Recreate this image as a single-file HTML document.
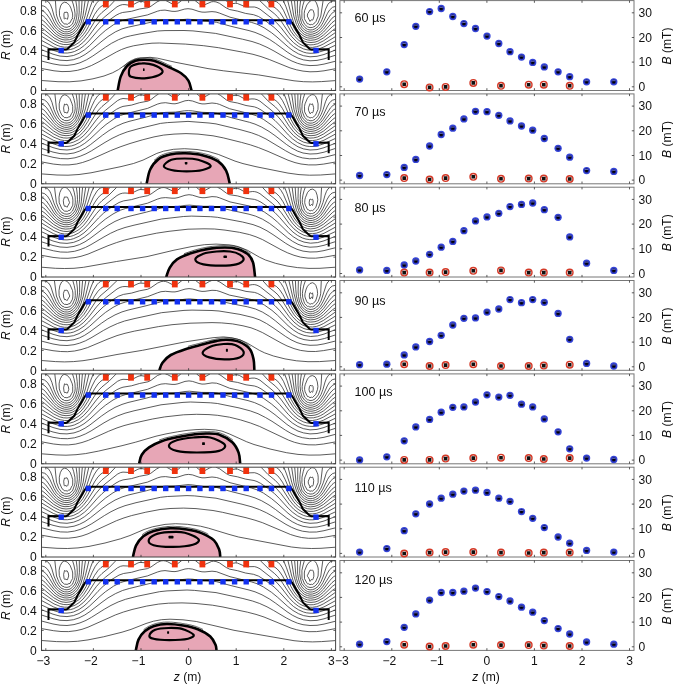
<!DOCTYPE html>
<html><head><meta charset="utf-8"><title>figure</title>
<style>
html,body{margin:0;padding:0;background:#fff;}
svg{display:block;}
text{font-family:"Liberation Sans",Arial,Helvetica,sans-serif;font-size:12.1px;fill:#111;}
.ra{text-anchor:end;}
.tl{font-size:12.6px;}
.ax{text-anchor:middle;}
.c{fill:none;stroke:#1a1a1a;stroke-width:0.72;stroke-linejoin:round;}
.bf{fill:#e7a6b6;stroke:none;}
.bl{fill:none;stroke:#000;stroke-width:2.6;}
.bi{fill:none;stroke:#000;stroke-width:2.2;}
.w{fill:none;stroke:#000;stroke-width:2;stroke-linejoin:miter;}
.bs{fill:#1230f0;}
.rs{fill:#f0320e;}
.t{fill:none;stroke:#333;stroke-width:0.8;}
.fr{fill:none;stroke:#444;stroke-width:1;}
.fr2{fill:none;stroke:#777;stroke-width:1;}
</style></head><body>
<svg width="673" height="685" viewBox="0 0 673 685">
<defs>

<clipPath id="cl0"><rect x="41.5" y="0.6" width="294.1" height="89.9"/></clipPath><clipPath id="cl1"><rect x="41.5" y="93.9" width="294.1" height="89.9"/></clipPath><clipPath id="cl2"><rect x="41.5" y="187.2" width="294.1" height="89.8"/></clipPath><clipPath id="cl3"><rect x="41.5" y="280.5" width="294.1" height="89.8"/></clipPath><clipPath id="cl4"><rect x="41.5" y="373.9" width="294.1" height="89.9"/></clipPath><clipPath id="cl5"><rect x="41.5" y="467.2" width="294.1" height="89.8"/></clipPath><clipPath id="cl6"><rect x="41.5" y="560.5" width="294.1" height="89.9"/></clipPath></defs>
<g clip-path="url(#cl0)"><path class="c" d="M335.5 80.6 321.5 81.6 312.5 81.9 303.5 81.7 294.0 80.8 258.5 74.9 223.5 70.8 208.0 68.6 176.0 62.4 157.5 58.2 150.0 57.3 140.0 58.2 135.0 59.4 128.5 62.5 118.5 69.6 112.5 72.8 104.0 76.0 93.0 78.8 81.0 80.9 69.5 81.8 58.0 81.7 41.5 80.5M335.5 68.7 324.0 70.8 317.0 71.6 310.0 71.8 303.0 71.1 296.5 69.8 290.0 67.9 269.5 59.6 261.0 56.6 253.0 54.3 243.5 52.3 218.5 47.7 203.5 45.7 185.5 44.1 159.5 43.0 152.0 43.2 144.5 44.0 133.5 45.8 127.0 47.5 121.5 49.5 116.5 51.9 99.0 61.7 91.5 65.5 84.5 68.3 77.5 70.3 70.0 71.4 62.0 71.6 54.0 70.8 41.5 68.5M335.5 61.2 324.0 64.1 317.0 65.3 310.0 65.6 303.0 64.8 297.5 63.3 292.0 61.1 286.5 58.3 274.0 51.0 267.0 47.3 259.5 44.0 252.0 41.5 242.5 39.2 215.5 33.4 193.0 30.9 184.0 30.5 165.0 30.6 157.5 31.0 140.0 33.9 130.5 35.8 125.0 37.2 118.5 39.7 111.5 43.3 105.5 47.2 92.8 56.0 86.5 59.8 80.0 62.8 74.0 64.5 67.0 65.4 60.0 65.1 53.0 63.9 41.5 61.0M335.5 55.2 324.0 58.9 317.0 60.4 310.0 60.8 303.5 59.9 298.0 58.1 292.5 55.4 287.2 52.0 275.5 43.4 269.5 39.4 262.0 35.3 255.0 32.4 249.0 30.6 231.0 26.3 216.5 22.3 211.5 21.6 202.0 21.1 192.0 19.5 187.5 19.2 175.5 20.1 165.0 19.9 160.0 20.3 128.5 27.1 122.0 28.9 115.5 31.8 108.0 36.5 102.0 41.1 90.7 50.5 85.1 54.5 79.5 57.6 73.5 59.7 67.0 60.6 60.0 60.2 53.0 58.7 41.5 55.0M335.5 50.0 324.0 54.5 317.0 56.3 310.0 56.8 303.5 55.7 298.5 53.9 293.0 50.7 288.2 47.0 277.0 37.1 271.5 32.7 264.0 27.7 257.0 24.2 251.5 22.4 230.0 17.2 219.5 13.1 216.0 12.0 212.0 11.6 205.0 12.2 202.0 12.1 199.0 11.5 192.0 9.2 188.0 8.7 184.5 9.1 178.0 11.0 175.0 11.4 172.0 11.3 165.0 10.1 160.5 10.4 157.5 11.2 147.5 14.9 125.0 19.7 120.0 21.3 113.5 24.7 105.5 30.4 100.0 35.2 89.6 45.5 84.5 49.9 79.0 53.3 73.5 55.5 67.0 56.6 60.0 56.1 53.0 54.2 41.5 49.7M159.8 0.6 157.0 1.9 151.0 6.2 148.0 7.7 139.5 9.0 131.5 11.3 122.5 12.5 119.5 13.5 116.0 15.3 108.5 20.6 102.0 26.2 97.5 30.9 88.8 41.0 84.5 45.3 79.5 49.0 74.5 51.5 71.0 52.5 67.5 53.0 64.0 53.0 60.5 52.6 53.5 50.4 41.5 44.9M181.6 0.6 177.5 3.6 176.0 4.3 174.5 4.5 172.0 3.8 166.0 0.6M335.5 45.2 323.5 50.7 317.0 52.7 313.5 53.2 310.0 53.3 306.5 52.9 303.5 52.1 298.5 49.9 293.4 46.5 288.5 42.2 279.0 32.0 274.0 27.3 265.5 20.8 258.5 16.5 253.5 14.7 245.5 13.4 237.5 11.1 229.5 9.5 226.0 7.8 219.5 3.3 216.0 1.9 213.5 1.6 211.5 1.8 205.0 4.6 202.5 5.0 201.0 4.7 199.5 4.0 195.1 0.6M149.9 0.6 148.5 1.8 147.0 2.4 145.5 2.4 142.0 1.4 140.0 1.4 138.0 2.0 133.5 4.5 131.5 5.2 129.5 5.3 125.0 4.6 122.5 4.6 120.0 5.3 117.0 6.8 105.0 16.6 100.5 20.7 96.0 26.1 88.5 36.5 83.5 42.1 78.5 46.1 73.5 48.6 70.5 49.5 67.0 50.0 63.5 49.9 60.0 49.3 53.5 46.9 41.5 40.4M335.5 40.8 324.0 46.9 317.5 49.4 314.0 50.1 310.5 50.2 307.0 49.8 303.5 48.9 298.5 46.4 293.5 42.6 288.7 37.5 281.0 27.6 276.5 22.6 271.5 18.1 260.0 9.2 257.0 7.7 254.5 7.0 247.5 7.0 245.5 6.8 237.5 3.5 235.5 3.3 231.5 3.7 230.0 3.5 228.0 2.5 226.1 0.6M114.7 0.6 109.0 6.7 101.8 12.6 98.5 16.0 94.5 21.6 88.5 31.6 83.3 38.5 79.0 42.5 75.0 45.0 71.5 46.4 68.0 47.1 64.5 47.2 60.5 46.5 57.0 45.3 54.0 43.8 41.5 36.2M249.5 0.6 248.0 1.4 246.5 1.7 245.0 1.3 244.0 0.6M335.5 36.6 323.5 43.9 320.0 45.6 316.5 46.7 312.5 47.4 309.0 47.3 305.5 46.6 302.0 45.3 299.5 43.9 296.5 41.6 291.6 36.5 288.3 32.0 281.5 21.7 277.5 16.7 274.5 13.8 268.5 9.0 259.7 0.6M109.1 0.6 106.5 3.4 101.0 6.5 98.0 9.4 94.5 14.5 88.5 26.4 85.9 31.1 83.5 34.5 80.9 37.5 78.5 39.8 75.5 42.0 73.5 43.0 70.0 44.2 67.0 44.6 63.5 44.5 59.5 43.5 53.6 40.5 41.5 32.0M335.5 32.5 323.5 40.8 317.5 43.8 313.5 44.7 310.0 44.9 307.0 44.4 303.5 43.2 299.0 40.5 294.4 36.0 290.7 31.1 283.5 17.9 280.0 12.5 276.5 8.8 270.0 4.4 266.8 0.6M98.9 0.6 96.5 3.2 94.0 7.3 86.0 26.1 83.0 31.5 80.5 34.9 78.0 37.4 75.5 39.4 73.0 40.8 70.0 41.8 67.0 42.3 63.5 42.1 59.5 40.9 54.0 37.9 44.5 29.9 41.5 27.9M335.5 28.4 332.5 30.5 323.5 37.9 318.0 41.1 315.0 42.1 311.0 42.5 307.5 42.2 304.5 41.2 302.0 39.9 299.0 37.7 296.5 35.2 293.7 31.6 290.6 26.1 283.5 10.3 280.0 4.7 278.0 2.7 276.5 1.7 271.2 0.6M92.6 0.6 90.0 7.5 85.8 21.1 83.0 27.5 80.6 31.6 78.0 34.7 75.2 37.0 72.5 38.7 69.5 39.7 65.0 40.0 62.0 39.5 59.0 38.3 54.0 35.0 45.0 26.3 41.5 23.7M335.5 24.3 332.5 26.5 323.5 35.0 320.5 37.2 318.0 38.7 315.0 39.8 310.5 40.3 307.5 39.9 304.5 38.9 302.0 37.4 299.0 34.9 296.5 32.0 294.3 28.6 291.1 21.6 286.0 6.8 283.3 0.6M88.5 0.6 85.1 15.6 82.7 23.6 80.5 28.3 78.0 31.9 75.5 34.4 72.5 36.6 67.5 37.9 65.0 37.9 62.0 37.3 59.2 36.0 56.5 34.3 54.0 32.1 45.0 22.1 41.5 19.5M335.5 20.1 332.0 22.7 323.5 32.1 320.7 34.5 318.0 36.4 315.0 37.6 312.0 38.1 310.0 38.2 307.5 37.8 305.0 36.9 302.0 35.0 299.0 32.1 296.5 28.6 294.0 23.6 291.6 16.1 287.7 0.6M85.1 0.6 83.0 15.6 80.8 23.6 78.0 28.9 75.5 31.9 72.5 34.3 70.0 35.3 67.0 35.9 64.5 35.8 62.0 35.1 59.0 33.6 56.5 31.7 54.0 29.2 45.5 18.0 43.5 16.2 41.5 15.1M335.5 15.7 332.0 18.2 323.5 29.2 320.6 32.0 318.0 34.1 315.5 35.2 312.5 36.1 310.0 36.2 307.5 35.7 304.5 34.5 301.5 32.1 299.0 29.1 296.5 24.6 293.8 16.1 291.3 0.6M82.0 0.6 81.5 10.6 80.5 18.6 78.8 23.6 77.7 26.1 75.0 29.8 72.5 32.0 69.5 33.4 67.0 33.9 64.5 33.8 62.0 33.0 59.0 31.2 56.5 29.0 54.0 26.0 49.5 18.2 46.6 14.1 44.0 11.6 41.5 10.5M335.5 11.2 333.0 12.4 330.5 14.8 323.4 26.1 320.5 29.5 318.0 31.7 315.5 33.1 312.5 34.1 310.0 34.3 307.5 33.7 304.5 32.2 302.0 30.0 299.4 26.6 297.7 22.6 296.4 18.6 295.7 14.6 294.5 0.6M79.0 0.6 79.2 12.1 78.8 16.6 77.9 21.1 75.5 26.3 73.0 29.1 70.0 31.2 67.5 31.8 64.5 31.8 62.0 30.8 59.0 28.7 56.5 26.0 54.0 21.8 50.0 12.9 47.7 9.1 45.0 6.7 43.5 6.0 41.5 5.7M335.5 6.4 332.5 7.3 329.5 10.1 327.5 13.3 323.0 22.7 320.6 26.6 318.0 29.3 315.0 31.1 312.5 32.0 310.0 32.1 307.5 31.6 304.5 29.8 302.0 27.3 299.5 22.6 298.4 18.6 297.6 13.6 297.3 8.1 297.5 0.6M75.8 0.6 76.8 7.0 77.1 12.6 76.7 17.1 75.7 21.6 75.0 23.6 72.5 27.0 70.0 29.0 67.0 29.7 64.5 29.5 63.0 28.7 62.0 28.5 59.0 25.8 56.1 21.1 54.1 16.1 52.2 9.1 50.5 4.8 48.6 2.0 46.4 0.6M335.5 1.2 333.5 1.0 331.5 1.4 329.5 2.6 328.0 4.2 325.6 9.1 323.4 16.1 321.2 21.6 318.0 26.6 315.0 28.8 312.5 29.8 310.0 30.0 307.5 29.4 305.0 27.7 301.7 23.6 300.2 18.1 299.6 13.6 299.7 8.1 300.6 0.6M72.0 0.6 73.2 4.0 74.3 8.6 75.0 13.1 75.0 16.1 74.1 19.6 72.5 24.0 71.5 24.6 70.0 26.4 69.0 26.5 67.0 27.3 64.5 27.0 63.0 26.0 62.0 25.8 58.8 21.6 56.8 16.1 56.3 13.6 55.4 0.6M323.1 0.6 320.8 16.1 318.0 23.0 315.3 26.1 312.5 27.4 310.0 27.6 307.5 26.9 304.5 24.2 301.9 18.6 301.9 10.6 302.8 5.5 304.3 0.6M314.4 0.6 315.5 1.5 316.5 3.0 318.2 8.1 318.2 16.1 315.9 21.6 315.0 22.7 312.5 24.6 311.5 24.4 310.0 24.9 308.5 23.9 307.5 23.9 305.0 19.9 304.4 18.6 304.2 13.6 304.6 10.6 306.8 5.0 309.0 2.1 311.0 0.6M67.5 24.3 65.5 23.9 64.5 24.2 63.5 22.9 62.0 21.9 59.5 15.6 59.4 10.6 60.6 6.0 62.0 3.5 64.5 2.2 67.0 2.8 69.6 5.5 70.9 8.1 72.5 13.1 72.7 16.1 72.3 17.6 72.6 18.6 72.0 18.7 70.0 22.9 68.5 23.4 67.5 24.3M310.0 21.4 307.3 16.1 307.7 13.6 308.0 13.4 310.0 9.9 312.5 9.8 313.2 10.6 314.0 13.1 314.2 15.1 313.9 16.6 313.2 19.1 312.5 20.2 311.5 19.8 311.0 20.0 310.0 21.4M67.5 19.1 67.0 19.4 66.0 18.3 65.5 18.3 64.5 19.0 64.2 18.6 63.9 15.1 64.1 13.1 64.5 12.3 66.0 12.4 67.0 12.0 67.8 13.1 68.2 16.1 67.5 19.1"/><path class="bf" d="M117.7 90.4C118.7 85.7 119.2 80.5 120.8 76.4C122.3 72.3 124.6 68.6 127.0 66.0C129.4 63.4 132.6 61.8 135.4 60.8C138.2 59.8 140.6 59.8 143.7 59.8C146.8 59.8 149.8 59.6 154.0 60.8C158.2 62.0 164.1 64.9 168.6 67.0C173.1 69.1 177.8 71.0 181.1 73.3C184.4 75.6 186.7 77.8 188.4 80.6C190.1 83.4 190.5 87.1 191.5 90.4Z"/><path class="bi" d="M128.9 72.6C128.9 70.9 128.9 67.9 131.1 66.4C133.3 64.9 138.6 63.6 142.3 63.4C146.0 63.1 150.1 63.7 153.4 64.9C156.8 66.1 161.5 68.8 162.4 70.5C163.3 72.2 161.6 74.0 158.6 75.3C155.6 76.6 149.1 78.0 144.5 78.3C139.9 78.5 133.7 77.8 131.1 76.8C128.5 75.8 128.9 74.3 128.9 72.6Z"/><path class="bl" d="M117.7 90.4C118.7 85.7 119.2 80.5 120.8 76.4C122.3 72.3 124.6 68.6 127.0 66.0C129.4 63.4 132.6 61.8 135.4 60.8C138.2 59.8 140.6 59.8 143.7 59.8C146.8 59.8 149.8 59.6 154.0 60.8C158.2 62.0 164.1 64.9 168.6 67.0C173.1 69.1 177.8 71.0 181.1 73.3C184.4 75.6 186.7 77.8 188.4 80.6C190.1 83.4 190.5 87.1 191.5 90.4"/><path class="c" d="M123.7 67.0 124.2 66.4 124.6 65.8 125.1 65.2 125.6 64.7 126.1 64.2 126.7 63.7 127.2 63.2 127.8 62.7 128.4 62.3 128.9 61.9 129.5 61.5 130.1 61.2 130.7 60.8 131.3 60.5 131.9 60.2 132.5 60.0 133.0 59.7 133.6 59.5 134.2 59.2 134.7 59.0 135.3 58.8 135.9 58.6 136.5 58.5 137.0 58.3 137.6 58.2 138.2 58.1 138.7 58.1 139.3 58.0 139.8 58.0 140.4 57.9 140.9 57.9 141.5 57.9 142.0 57.9 142.6 57.9 143.1 57.9 143.7 57.9 144.3 57.9 144.8 57.9 145.4 57.9 146.0 57.9 146.6 57.9 147.3 57.9 147.9 57.9 148.6 58.0 149.2 58.0 149.9 58.1 150.7 58.2 151.4 58.3 152.1 58.4 152.9 58.6 153.7 58.8 154.5 59.0 155.4 59.2 156.3 59.5 157.2 59.9 158.1 60.2 159.0 60.6 160.0 61.0 161.0 61.4 161.9 61.8 162.9 62.3 163.9 62.7 164.8 63.2 165.8 63.6 166.7 64.0 167.6 64.5 168.5 64.9 169.4 65.3 170.2 65.7 171.1 66.0 171.9 66.4"/><rect x="143.0" y="68.3" width="1.6" height="2.8" rx="0.6" fill="#000"/><path class="w" d="M48.5 59.9 48.5 49.3 65.8 49.6 67.6 48.8 74.3 42.5 77.4 35.8 84.6 23.4 87.2 20.2 290.0 20.2 292.6 23.4 299.8 35.8 302.9 42.5 309.6 48.8 311.4 49.6 328.7 49.3 328.7 59.9"/><rect class="bs" x="58.5" y="47.8" width="5.4" height="5.4"/><rect class="bs" x="85.6" y="19.1" width="5.4" height="5.4"/><rect class="bs" x="103.0" y="19.1" width="5.4" height="5.4"/><rect class="bs" x="114.5" y="19.1" width="5.4" height="5.4"/><rect class="bs" x="128.3" y="19.1" width="5.4" height="5.4"/><rect class="bs" x="139.9" y="19.1" width="5.4" height="5.4"/><rect class="bs" x="151.5" y="19.1" width="5.4" height="5.4"/><rect class="bs" x="163.0" y="19.1" width="5.4" height="5.4"/><rect class="bs" x="174.6" y="19.1" width="5.4" height="5.4"/><rect class="bs" x="185.9" y="19.1" width="5.4" height="5.4"/><rect class="bs" x="197.2" y="19.1" width="5.4" height="5.4"/><rect class="bs" x="208.8" y="19.1" width="5.4" height="5.4"/><rect class="bs" x="220.3" y="19.1" width="5.4" height="5.4"/><rect class="bs" x="231.9" y="19.1" width="5.4" height="5.4"/><rect class="bs" x="243.5" y="19.1" width="5.4" height="5.4"/><rect class="bs" x="257.3" y="19.1" width="5.4" height="5.4"/><rect class="bs" x="268.8" y="19.1" width="5.4" height="5.4"/><rect class="bs" x="286.2" y="19.1" width="5.4" height="5.4"/><rect class="bs" x="313.3" y="47.8" width="5.4" height="5.4"/><rect class="rs" x="102.9" y="0.6" width="5.8" height="6.8"/><rect class="rs" x="128.1" y="0.6" width="5.8" height="6.8"/><rect class="rs" x="144.3" y="0.6" width="5.8" height="6.8"/><rect class="rs" x="171.9" y="0.6" width="5.8" height="6.8"/><rect class="rs" x="199.5" y="0.6" width="5.8" height="6.8"/><rect class="rs" x="227.1" y="0.6" width="5.8" height="6.8"/><rect class="rs" x="243.3" y="0.6" width="5.8" height="6.8"/><rect class="rs" x="268.5" y="0.6" width="5.8" height="6.8"/></g>
<rect class="fr" x="41.5" y="0.6" width="294.1" height="89.9"/><path class="t" d="M41.5 90.4h2.2M335.6 90.4h-2.2M41.5 70.4h2.2M335.6 70.4h-2.2M41.5 50.4h2.2M335.6 50.4h-2.2M41.5 30.4h2.2M335.6 30.4h-2.2M41.5 10.4h2.2M335.6 10.4h-2.2M45.8 90.4v-2.2M45.8 0.6v2.2M93.4 90.4v-2.2M93.4 0.6v2.2M141.0 90.4v-2.2M141.0 0.6v2.2M188.6 90.4v-2.2M188.6 0.6v2.2M236.2 90.4v-2.2M236.2 0.6v2.2M283.8 90.4v-2.2M283.8 0.6v2.2M331.4 90.4v-2.2M331.4 0.6v2.2"/><rect class="fr2" x="339.9" y="0.6" width="294.1" height="89.9"/><path class="t" d="M339.9 86.8h2.2M634.0 86.8h-2.2M339.9 62.1h2.2M634.0 62.1h-2.2M339.9 37.5h2.2M634.0 37.5h-2.2M339.9 12.8h2.2M634.0 12.8h-2.2M344.2 90.4v-2.2M344.2 0.6v2.2M391.8 90.4v-2.2M391.8 0.6v2.2M439.3 90.4v-2.2M439.3 0.6v2.2M486.9 90.4v-2.2M486.9 0.6v2.2M534.4 90.4v-2.2M534.4 0.6v2.2M582.0 90.4v-2.2M582.0 0.6v2.2M629.5 90.4v-2.2M629.5 0.6v2.2"/><g transform="translate(359.6 79.1)"><circle r="3.65" fill="#3444d8"/><circle r="2.25" fill="#161660"/><rect x="-1.2" y="-0.6" width="2.4" height="1.9" fill="#000"/><path d="M-1.7 -1.1h3.4" stroke="#8e9af0" stroke-width="0.6"/></g><g transform="translate(386.8 71.8)"><circle r="3.65" fill="#3444d8"/><circle r="2.25" fill="#161660"/><rect x="-1.2" y="-0.6" width="2.4" height="1.9" fill="#000"/><path d="M-1.7 -1.1h3.4" stroke="#8e9af0" stroke-width="0.6"/></g><g transform="translate(404.2 44.6)"><circle r="3.65" fill="#3444d8"/><circle r="2.25" fill="#161660"/><rect x="-1.2" y="-0.6" width="2.4" height="1.9" fill="#000"/><path d="M-1.7 -1.1h3.4" stroke="#8e9af0" stroke-width="0.6"/></g><g transform="translate(415.8 26.3)"><circle r="3.65" fill="#3444d8"/><circle r="2.25" fill="#161660"/><rect x="-1.2" y="-0.6" width="2.4" height="1.9" fill="#000"/><path d="M-1.7 -1.1h3.4" stroke="#8e9af0" stroke-width="0.6"/></g><g transform="translate(429.6 11.6)"><circle r="3.65" fill="#3444d8"/><circle r="2.25" fill="#161660"/><rect x="-1.2" y="-0.6" width="2.4" height="1.9" fill="#000"/><path d="M-1.7 -1.1h3.4" stroke="#8e9af0" stroke-width="0.6"/></g><g transform="translate(441.2 8.5)"><circle r="3.65" fill="#3444d8"/><circle r="2.25" fill="#161660"/><rect x="-1.2" y="-0.6" width="2.4" height="1.9" fill="#000"/><path d="M-1.7 -1.1h3.4" stroke="#8e9af0" stroke-width="0.6"/></g><g transform="translate(452.8 16.5)"><circle r="3.65" fill="#3444d8"/><circle r="2.25" fill="#161660"/><rect x="-1.2" y="-0.6" width="2.4" height="1.9" fill="#000"/><path d="M-1.7 -1.1h3.4" stroke="#8e9af0" stroke-width="0.6"/></g><g transform="translate(463.9 23.6)"><circle r="3.65" fill="#3444d8"/><circle r="2.25" fill="#161660"/><rect x="-1.2" y="-0.6" width="2.4" height="1.9" fill="#000"/><path d="M-1.7 -1.1h3.4" stroke="#8e9af0" stroke-width="0.6"/></g><g transform="translate(475.5 28.5)"><circle r="3.65" fill="#3444d8"/><circle r="2.25" fill="#161660"/><rect x="-1.2" y="-0.6" width="2.4" height="1.9" fill="#000"/><path d="M-1.7 -1.1h3.4" stroke="#8e9af0" stroke-width="0.6"/></g><g transform="translate(487.0 36.1)"><circle r="3.65" fill="#3444d8"/><circle r="2.25" fill="#161660"/><rect x="-1.2" y="-0.6" width="2.4" height="1.9" fill="#000"/><path d="M-1.7 -1.1h3.4" stroke="#8e9af0" stroke-width="0.6"/></g><g transform="translate(498.8 43.5)"><circle r="3.65" fill="#3444d8"/><circle r="2.25" fill="#161660"/><rect x="-1.2" y="-0.6" width="2.4" height="1.9" fill="#000"/><path d="M-1.7 -1.1h3.4" stroke="#8e9af0" stroke-width="0.6"/></g><g transform="translate(510.0 51.7)"><circle r="3.65" fill="#3444d8"/><circle r="2.25" fill="#161660"/><rect x="-1.2" y="-0.6" width="2.4" height="1.9" fill="#000"/><path d="M-1.7 -1.1h3.4" stroke="#8e9af0" stroke-width="0.6"/></g><g transform="translate(521.5 57.1)"><circle r="3.65" fill="#3444d8"/><circle r="2.25" fill="#161660"/><rect x="-1.2" y="-0.6" width="2.4" height="1.9" fill="#000"/><path d="M-1.7 -1.1h3.4" stroke="#8e9af0" stroke-width="0.6"/></g><g transform="translate(532.7 62.4)"><circle r="3.65" fill="#3444d8"/><circle r="2.25" fill="#161660"/><rect x="-1.2" y="-0.6" width="2.4" height="1.9" fill="#000"/><path d="M-1.7 -1.1h3.4" stroke="#8e9af0" stroke-width="0.6"/></g><g transform="translate(544.3 66.9)"><circle r="3.65" fill="#3444d8"/><circle r="2.25" fill="#161660"/><rect x="-1.2" y="-0.6" width="2.4" height="1.9" fill="#000"/><path d="M-1.7 -1.1h3.4" stroke="#8e9af0" stroke-width="0.6"/></g><g transform="translate(558.1 71.8)"><circle r="3.65" fill="#3444d8"/><circle r="2.25" fill="#161660"/><rect x="-1.2" y="-0.6" width="2.4" height="1.9" fill="#000"/><path d="M-1.7 -1.1h3.4" stroke="#8e9af0" stroke-width="0.6"/></g><g transform="translate(569.7 76.7)"><circle r="3.65" fill="#3444d8"/><circle r="2.25" fill="#161660"/><rect x="-1.2" y="-0.6" width="2.4" height="1.9" fill="#000"/><path d="M-1.7 -1.1h3.4" stroke="#8e9af0" stroke-width="0.6"/></g><g transform="translate(586.6 81.8)"><circle r="3.65" fill="#3444d8"/><circle r="2.25" fill="#161660"/><rect x="-1.2" y="-0.6" width="2.4" height="1.9" fill="#000"/><path d="M-1.7 -1.1h3.4" stroke="#8e9af0" stroke-width="0.6"/></g><g transform="translate(613.8 81.8)"><circle r="3.65" fill="#3444d8"/><circle r="2.25" fill="#161660"/><rect x="-1.2" y="-0.6" width="2.4" height="1.9" fill="#000"/><path d="M-1.7 -1.1h3.4" stroke="#8e9af0" stroke-width="0.6"/></g><g transform="translate(404.2 84.2)"><circle r="3.3" fill="#fbeeee" stroke="#d43a28" stroke-width="1.4"/><rect x="-1.8" y="-1.8" width="3.6" height="3.6" rx="0.4" fill="#111"/></g><g transform="translate(429.6 87.4)"><circle r="3.3" fill="#fbeeee" stroke="#d43a28" stroke-width="1.4"/><rect x="-1.8" y="-1.8" width="3.6" height="3.6" rx="0.4" fill="#111"/></g><g transform="translate(445.6 86.9)"><circle r="3.3" fill="#fbeeee" stroke="#d43a28" stroke-width="1.4"/><rect x="-1.8" y="-1.8" width="3.6" height="3.6" rx="0.4" fill="#111"/></g><g transform="translate(473.3 82.9)"><circle r="3.3" fill="#fbeeee" stroke="#d43a28" stroke-width="1.4"/><rect x="-1.8" y="-1.8" width="3.6" height="3.6" rx="0.4" fill="#111"/></g><g transform="translate(501.0 85.8)"><circle r="3.3" fill="#fbeeee" stroke="#d43a28" stroke-width="1.4"/><rect x="-1.8" y="-1.8" width="3.6" height="3.6" rx="0.4" fill="#111"/></g><g transform="translate(528.7 84.7)"><circle r="3.3" fill="#fbeeee" stroke="#d43a28" stroke-width="1.4"/><rect x="-1.8" y="-1.8" width="3.6" height="3.6" rx="0.4" fill="#111"/></g><g transform="translate(543.8 84.7)"><circle r="3.3" fill="#fbeeee" stroke="#d43a28" stroke-width="1.4"/><rect x="-1.8" y="-1.8" width="3.6" height="3.6" rx="0.4" fill="#111"/></g><g transform="translate(569.7 85.8)"><circle r="3.3" fill="#fbeeee" stroke="#d43a28" stroke-width="1.4"/><rect x="-1.8" y="-1.8" width="3.6" height="3.6" rx="0.4" fill="#111"/></g><text x="36.8" y="94.5" class="ra">0</text><text x="36.8" y="74.5" class="ra">0.2</text><text x="36.8" y="54.5" class="ra">0.4</text><text x="36.8" y="34.5" class="ra">0.6</text><text x="36.8" y="14.5" class="ra">0.8</text><text x="638.6" y="90.9">0</text><text x="638.6" y="66.2">10</text><text x="638.6" y="41.6">20</text><text x="638.6" y="16.9">30</text><text class="ax" transform="translate(10.3 45.0) rotate(-90)"><tspan font-style="italic">R</tspan> (m)</text><text class="ax" transform="translate(670.5 46.0) rotate(-90)"><tspan font-style="italic">B</tspan> (mT)</text><text x="354.6" y="21.9" class="tl">60 µs</text>
<g clip-path="url(#cl1)"><path class="c" d="M335.5 173.9 320.5 175.0 309.5 175.2 299.0 174.6 288.0 173.1 256.0 166.7 243.0 163.6 235.0 161.1 218.3 154.4 208.0 151.4 197.0 149.5 184.5 148.7 173.5 149.3 163.5 151.2 156.8 153.4 143.0 160.1 133.5 163.5 121.0 166.6 91.0 172.8 79.0 174.5 68.0 175.2 57.0 175.0 41.5 173.9M335.5 162.0 323.5 164.1 316.0 164.9 308.5 164.9 301.0 164.0 295.0 162.6 288.0 160.2 268.0 151.4 258.5 147.6 250.5 144.9 241.5 142.4 223.4 137.9 213.0 135.8 198.0 134.1 186.0 133.6 174.0 134.1 163.5 135.1 154.0 136.9 142.2 139.9 130.0 143.5 120.1 146.9 110.5 150.7 89.5 160.1 82.5 162.5 76.5 164.0 69.0 164.9 61.5 164.9 53.5 164.1 41.5 161.9M335.5 154.5 324.0 157.4 316.5 158.6 309.5 158.8 302.5 157.9 297.0 156.3 291.0 153.7 285.5 150.7 266.0 139.0 258.5 135.4 251.5 132.8 241.0 129.9 216.0 123.9 209.0 123.0 188.0 121.4 167.5 122.6 160.5 123.4 139.0 128.6 127.2 131.9 119.5 134.8 112.0 138.4 105.0 142.4 91.5 150.8 86.0 153.8 80.5 156.1 75.0 157.8 68.0 158.8 60.5 158.6 53.0 157.3 41.5 154.4M335.5 148.4 324.0 152.2 317.0 153.7 310.0 154.0 303.0 153.0 297.5 151.1 292.0 148.2 286.5 144.5 275.0 135.6 269.0 131.4 261.5 127.0 255.0 124.1 249.5 122.3 231.0 117.6 216.5 113.3 211.5 112.7 202.0 112.3 192.5 110.9 188.5 110.6 184.5 110.8 175.5 112.1 165.5 112.4 160.5 113.0 146.5 117.0 129.0 121.4 123.0 123.3 116.5 126.2 109.0 130.6 102.5 135.2 90.5 144.6 85.5 148.0 79.5 151.1 74.0 153.0 67.0 154.0 60.0 153.6 53.0 152.1 41.5 148.4M335.5 143.2 324.0 147.7 317.0 149.6 310.0 150.0 303.5 148.9 298.0 146.8 292.5 143.4 287.5 139.4 277.0 129.6 271.5 125.0 263.5 119.4 257.0 116.0 251.5 114.2 229.5 108.7 219.5 104.4 216.5 103.5 212.0 103.0 205.0 103.9 202.0 103.9 199.0 103.3 192.5 101.0 188.5 100.4 185.0 100.8 178.0 103.2 175.0 103.8 172.0 103.7 165.5 102.7 161.0 103.1 157.5 104.1 147.5 108.4 125.5 113.8 120.5 115.5 114.0 118.9 106.0 124.5 100.5 129.2 89.7 139.4 84.7 143.4 79.5 146.6 74.0 148.8 70.5 149.6 67.0 150.0 60.0 149.5 53.0 147.6 41.5 143.1M158.7 93.9 156.0 95.6 151.0 99.5 148.0 101.1 139.5 102.7 131.5 105.1 123.0 106.4 120.0 107.5 116.5 109.3 109.5 114.2 102.5 120.0 98.0 124.6 88.9 134.9 84.6 138.9 80.0 142.3 75.0 144.8 71.5 145.9 68.0 146.4 64.5 146.5 60.5 146.0 53.5 143.9 41.5 138.3M180.2 93.9 177.0 96.5 174.5 97.2 172.0 96.5 167.7 93.9M209.9 93.9 205.0 96.7 202.5 97.3 200.0 96.5 196.9 93.9M335.5 138.4 323.5 143.9 316.5 146.1 313.0 146.5 309.5 146.5 306.0 146.0 302.5 144.9 297.5 142.5 292.5 138.9 288.3 134.9 279.5 125.1 275.0 120.5 268.5 115.1 261.0 109.9 257.5 108.0 254.5 106.9 246.0 105.5 237.5 103.0 229.5 101.5 226.5 100.0 220.5 95.4 217.8 93.9M149.8 93.9 148.5 95.1 147.0 95.8 145.5 95.8 142.0 94.9 140.0 94.9 138.0 95.5 133.5 98.1 131.5 98.8 129.5 99.0 123.0 98.5 120.5 99.1 117.5 100.6 105.5 110.3 101.0 114.4 96.5 119.6 88.5 130.3 83.5 135.8 78.5 139.7 73.5 142.1 70.5 143.0 67.0 143.4 63.5 143.3 60.0 142.7 53.5 140.3 41.5 133.9M335.5 134.0 324.0 140.2 317.5 142.6 314.0 143.3 310.5 143.4 307.0 143.0 303.5 142.1 298.5 139.5 293.5 135.6 288.7 130.4 281.0 120.2 276.5 115.0 272.0 110.8 260.0 101.2 257.0 99.6 254.5 99.0 252.0 98.9 247.5 99.3 245.5 99.0 243.5 98.3 239.0 95.8 237.0 95.3 235.0 95.3 231.5 96.0 230.0 95.9 228.5 95.2 227.2 93.9M115.3 93.9 109.0 100.7 102.0 106.5 98.5 110.2 95.0 115.0 87.9 126.4 83.5 131.9 79.5 135.7 75.0 138.5 71.5 139.9 68.0 140.5 64.5 140.6 60.5 139.9 54.0 137.3 41.5 129.6M335.5 129.7 323.5 137.1 320.0 138.8 316.5 140.0 312.5 140.6 309.0 140.5 305.5 139.8 302.0 138.4 298.0 135.9 294.0 132.3 289.3 126.4 282.0 114.9 278.5 110.2 275.3 106.9 268.0 100.9 261.4 93.9M109.4 93.9 107.0 96.8 101.0 100.6 98.0 103.5 94.5 108.7 87.9 121.4 83.7 127.9 81.0 131.1 78.5 133.4 73.8 136.4 70.0 137.7 67.0 138.1 63.5 137.9 59.5 136.9 53.5 133.9 41.5 125.5M335.5 125.6 323.5 134.0 317.5 137.0 313.5 137.9 310.0 138.1 307.0 137.6 303.5 136.4 298.5 133.3 296.0 130.9 293.4 127.9 289.3 121.4 282.5 108.6 279.0 103.6 276.0 100.7 270.5 97.3 267.5 93.9M100.1 93.9 97.5 96.1 94.5 100.6 92.0 105.8 86.3 119.4 83.2 124.9 80.5 128.5 78.0 131.0 75.5 132.9 72.5 134.5 69.5 135.4 66.0 135.7 62.0 135.2 59.0 134.2 53.5 130.9 44.5 123.4 41.5 121.4M335.5 121.5 332.5 123.6 323.5 131.1 318.0 134.3 315.0 135.3 311.0 135.7 307.5 135.4 304.5 134.4 302.0 133.1 299.0 130.8 296.5 128.3 294.0 125.0 290.9 119.4 285.0 105.6 282.5 100.6 279.5 96.3 278.0 94.8 276.3 93.9M93.0 93.9 90.5 100.4 86.0 114.4 83.0 121.3 80.8 124.9 78.0 128.2 75.5 130.4 72.5 132.2 69.5 133.2 65.0 133.5 62.0 132.9 59.0 131.7 54.0 128.4 45.0 119.8 41.5 117.2M335.5 117.4 332.5 119.6 323.5 128.2 320.5 130.5 318.0 131.9 315.0 133.0 310.5 133.5 307.5 133.1 304.5 132.1 302.0 130.6 299.0 128.0 296.5 125.1 294.0 120.9 291.1 114.4 286.5 100.2 284.0 93.9M88.8 93.9 85.4 108.9 82.9 116.9 80.5 122.0 78.0 125.4 75.5 127.9 72.5 130.0 70.0 130.9 67.0 131.4 64.0 131.2 59.5 129.7 56.5 127.8 54.0 125.6 45.0 115.6 41.5 113.0M335.5 113.1 332.0 115.8 323.5 125.3 320.5 127.9 318.0 129.5 315.0 130.8 312.0 131.3 310.0 131.4 307.5 131.0 305.0 130.1 302.0 128.2 299.0 125.2 296.7 121.9 294.2 116.9 291.8 108.9 288.2 93.9M85.4 93.9 83.1 109.4 80.7 117.4 78.1 122.4 75.5 125.4 72.5 127.8 70.0 128.8 67.0 129.4 64.5 129.2 62.0 128.5 59.0 127.1 56.5 125.2 54.0 122.6 45.5 111.5 43.5 109.7 41.5 108.6M335.5 108.7 333.5 109.9 332.0 111.3 330.0 113.5 323.5 122.3 320.5 125.3 318.0 127.3 315.5 128.4 312.5 129.3 310.0 129.4 307.0 128.7 304.5 127.6 301.7 125.4 299.1 122.4 296.5 117.5 294.0 109.4 291.7 93.9M82.3 93.9 81.3 107.4 80.7 111.9 79.3 115.9 77.9 119.4 75.5 122.8 72.5 125.5 70.0 126.8 67.0 127.4 64.5 127.3 62.0 126.4 59.0 124.7 56.5 122.5 54.0 119.5 49.5 111.8 46.5 107.5 44.0 105.2 41.5 104.1M335.5 104.2 333.0 105.4 330.5 107.8 323.2 119.4 320.5 122.7 318.0 125.0 315.5 126.3 312.5 127.3 310.0 127.5 307.5 126.9 304.5 125.4 302.0 123.2 299.3 119.4 297.1 113.9 296.1 109.4 295.4 102.9 294.8 93.9M79.2 93.9 79.4 105.9 78.9 110.4 78.0 114.7 75.5 119.9 73.0 122.7 70.0 124.7 67.5 125.2 64.5 125.2 62.0 124.3 59.0 122.2 56.5 119.5 54.0 115.3 50.0 106.6 47.5 102.5 44.5 100.0 41.5 99.3M335.5 99.3 332.5 100.2 331.0 101.2 329.5 102.9 327.5 106.1 323.0 115.7 320.5 119.8 318.0 122.5 315.0 124.3 312.5 125.2 310.0 125.3 307.5 124.8 304.5 123.0 301.7 119.9 299.3 114.9 298.3 110.4 297.8 105.9 297.9 93.9M76.1 93.9 77.1 100.9 77.3 106.4 76.8 110.9 75.9 114.9 75.0 117.2 72.5 120.5 70.0 122.5 67.0 123.1 64.5 122.9 63.0 122.1 62.0 122.0 59.0 119.4 56.2 114.9 53.9 109.4 52.0 102.4 50.1 97.9 48.0 95.3 46.5 94.3 45.1 93.9M332.9 93.9 331.5 94.1 329.9 94.9 328.5 96.1 327.2 97.9 325.5 101.8 323.2 109.4 321.2 114.4 318.0 119.7 315.0 122.0 312.5 123.0 310.0 123.2 307.5 122.6 305.0 120.8 301.8 116.9 300.3 110.9 299.8 106.4 300.1 100.9 301.0 93.9M72.3 93.9 73.8 98.4 75.0 103.9 75.2 108.9 74.8 111.4 72.5 117.5 71.5 118.2 70.0 119.9 67.0 120.7 64.5 120.5 63.0 119.5 62.0 119.4 59.5 116.4 58.7 114.9 56.5 109.2 54.9 93.9M322.4 93.9 320.7 109.4 318.5 114.9 317.7 116.4 315.0 119.3 312.5 120.6 310.0 120.8 308.5 120.1 307.5 120.1 304.5 117.3 302.4 111.9 301.9 109.4 302.1 103.9 303.3 98.4 304.7 93.9M67.0 117.9 66.0 117.5 64.5 117.7 63.5 116.5 62.0 115.5 60.3 111.9 59.3 108.9 59.2 103.9 60.2 99.4 62.0 96.0 64.5 94.8 66.0 95.1 67.5 95.9 70.0 98.7 72.1 103.9 72.7 106.4 72.7 111.9 71.5 113.6 70.0 116.9 69.0 116.8 67.0 117.9M310.0 118.0 308.5 117.0 307.4 116.9 304.6 111.9 304.5 106.4 305.0 103.9 307.5 98.1 310.0 95.4 311.5 94.8 313.0 94.6 314.5 95.2 315.5 96.1 317.1 99.4 318.1 103.9 318.0 109.4 315.5 115.2 312.5 117.7 311.5 117.5 310.0 118.0M310.0 113.7 308.6 110.4 308.4 108.9 308.6 107.4 310.0 103.7 310.5 104.2 311.5 104.4 312.5 103.8 313.6 107.4 313.6 109.4 313.1 111.9 312.5 112.8 311.5 112.5 310.0 113.7M67.5 113.0 67.0 113.3 66.0 112.4 64.5 112.6 64.1 111.9 63.6 107.9 64.5 104.0 65.5 104.6 67.0 104.1 68.2 106.4 68.7 109.4 67.5 113.0"/><path class="bf" d="M146.6 183.7C147.8 179.0 148.2 173.6 150.2 169.5C152.2 165.4 155.2 161.6 158.5 159.1C161.8 156.6 165.4 155.5 169.9 154.5C174.4 153.5 179.9 153.2 185.5 153.3C191.1 153.5 197.8 154.1 203.2 155.4C208.6 156.7 214.0 158.7 217.8 161.2C221.6 163.7 224.1 166.8 226.1 170.6C228.1 174.4 228.6 179.4 229.8 183.7Z"/><path class="bi" d="M163.8 166.0C163.8 164.3 167.9 161.1 171.4 159.8C174.9 158.6 180.2 158.5 184.7 158.5C189.1 158.5 193.8 158.6 198.1 159.8C202.4 161.0 209.8 163.9 210.6 165.6C211.3 167.3 206.6 169.0 202.6 170.0C198.6 171.0 191.7 171.4 186.5 171.4C181.3 171.4 175.2 170.9 171.4 170.0C167.6 169.1 163.8 167.7 163.8 166.0Z"/><path class="bl" d="M146.6 183.7C147.8 179.0 148.2 173.6 150.2 169.5C152.2 165.4 155.2 161.6 158.5 159.1C161.8 156.6 165.4 155.5 169.9 154.5C174.4 153.5 179.9 153.2 185.5 153.3C191.1 153.5 197.8 154.1 203.2 155.4C208.6 156.7 214.0 158.7 217.8 161.2C221.6 163.7 224.1 166.8 226.1 170.6C228.1 174.4 228.6 179.4 229.8 183.7"/><path class="c" d="M154.1 160.5 154.8 159.9 155.4 159.2 156.0 158.7 156.7 158.1 157.4 157.6 158.0 157.1 158.7 156.6 159.4 156.2 160.1 155.8 160.8 155.4 161.6 155.1 162.3 154.7 163.1 154.5 163.8 154.2 164.6 153.9 165.4 153.7 166.2 153.4 167.0 153.2 167.8 153.0 168.6 152.8 169.5 152.6 170.4 152.5 171.3 152.3 172.2 152.1 173.2 152.0 174.2 151.9 175.2 151.8 176.2 151.7 177.2 151.6 178.2 151.5 179.2 151.5 180.3 151.4 181.3 151.4 182.4 151.4 183.4 151.4 184.5 151.4 185.6 151.4 186.6 151.4 187.7 151.5 188.8 151.5 190.0 151.6 191.1 151.7 192.3 151.8 193.5 151.9 194.6 152.0 195.8 152.2 197.0 152.3 198.1 152.5 199.3 152.7 200.4 152.9 201.5 153.1 202.6 153.3 203.6 153.6 204.7 153.8 205.7 154.1 206.8 154.4 207.8 154.7 208.8 155.0 209.8 155.3 210.8 155.7 211.8 156.1 212.7 156.5 213.7 156.9 214.6 157.3 215.5 157.7 216.4 158.2 217.2 158.6 218.1 159.1 218.8 159.6 219.6 160.1"/><rect x="184.8" y="162.0" width="2.6" height="2.4" rx="0.6" fill="#000"/><path class="w" d="M48.5 153.2 48.5 142.6 65.8 142.9 67.6 142.1 74.3 135.8 77.4 129.1 84.6 116.7 87.2 113.5 290.0 113.5 292.6 116.7 299.8 129.1 302.9 135.8 309.6 142.1 311.4 142.9 328.7 142.6 328.7 153.2"/><rect class="bs" x="58.5" y="141.1" width="5.4" height="5.4"/><rect class="bs" x="85.6" y="112.4" width="5.4" height="5.4"/><rect class="bs" x="103.0" y="112.4" width="5.4" height="5.4"/><rect class="bs" x="114.5" y="112.4" width="5.4" height="5.4"/><rect class="bs" x="128.3" y="112.4" width="5.4" height="5.4"/><rect class="bs" x="139.9" y="112.4" width="5.4" height="5.4"/><rect class="bs" x="151.5" y="112.4" width="5.4" height="5.4"/><rect class="bs" x="163.0" y="112.4" width="5.4" height="5.4"/><rect class="bs" x="174.6" y="112.4" width="5.4" height="5.4"/><rect class="bs" x="185.9" y="112.4" width="5.4" height="5.4"/><rect class="bs" x="197.2" y="112.4" width="5.4" height="5.4"/><rect class="bs" x="208.8" y="112.4" width="5.4" height="5.4"/><rect class="bs" x="220.3" y="112.4" width="5.4" height="5.4"/><rect class="bs" x="231.9" y="112.4" width="5.4" height="5.4"/><rect class="bs" x="243.5" y="112.4" width="5.4" height="5.4"/><rect class="bs" x="257.3" y="112.4" width="5.4" height="5.4"/><rect class="bs" x="268.8" y="112.4" width="5.4" height="5.4"/><rect class="bs" x="286.2" y="112.4" width="5.4" height="5.4"/><rect class="bs" x="313.3" y="141.1" width="5.4" height="5.4"/><rect class="rs" x="102.9" y="93.9" width="5.8" height="6.8"/><rect class="rs" x="128.1" y="93.9" width="5.8" height="6.8"/><rect class="rs" x="144.3" y="93.9" width="5.8" height="6.8"/><rect class="rs" x="171.9" y="93.9" width="5.8" height="6.8"/><rect class="rs" x="199.5" y="93.9" width="5.8" height="6.8"/><rect class="rs" x="227.1" y="93.9" width="5.8" height="6.8"/><rect class="rs" x="243.3" y="93.9" width="5.8" height="6.8"/><rect class="rs" x="268.5" y="93.9" width="5.8" height="6.8"/></g>
<rect class="fr" x="41.5" y="93.9" width="294.1" height="89.9"/><path class="t" d="M41.5 183.7h2.2M335.6 183.7h-2.2M41.5 163.7h2.2M335.6 163.7h-2.2M41.5 143.7h2.2M335.6 143.7h-2.2M41.5 123.7h2.2M335.6 123.7h-2.2M41.5 103.7h2.2M335.6 103.7h-2.2M45.8 183.7v-2.2M45.8 93.9v2.2M93.4 183.7v-2.2M93.4 93.9v2.2M141.0 183.7v-2.2M141.0 93.9v2.2M188.6 183.7v-2.2M188.6 93.9v2.2M236.2 183.7v-2.2M236.2 93.9v2.2M283.8 183.7v-2.2M283.8 93.9v2.2M331.4 183.7v-2.2M331.4 93.9v2.2"/><rect class="fr2" x="339.9" y="93.9" width="294.1" height="89.9"/><path class="t" d="M339.9 180.1h2.2M634.0 180.1h-2.2M339.9 155.5h2.2M634.0 155.5h-2.2M339.9 130.8h2.2M634.0 130.8h-2.2M339.9 106.1h2.2M634.0 106.1h-2.2M344.2 183.7v-2.2M344.2 93.9v2.2M391.8 183.7v-2.2M391.8 93.9v2.2M439.3 183.7v-2.2M439.3 93.9v2.2M486.9 183.7v-2.2M486.9 93.9v2.2M534.4 183.7v-2.2M534.4 93.9v2.2M582.0 183.7v-2.2M582.0 93.9v2.2M629.5 183.7v-2.2M629.5 93.9v2.2"/><g transform="translate(359.6 175.5)"><circle r="3.65" fill="#3444d8"/><circle r="2.25" fill="#161660"/><rect x="-1.2" y="-0.6" width="2.4" height="1.9" fill="#000"/><path d="M-1.7 -1.1h3.4" stroke="#8e9af0" stroke-width="0.6"/></g><g transform="translate(386.8 174.6)"><circle r="3.65" fill="#3444d8"/><circle r="2.25" fill="#161660"/><rect x="-1.2" y="-0.6" width="2.4" height="1.9" fill="#000"/><path d="M-1.7 -1.1h3.4" stroke="#8e9af0" stroke-width="0.6"/></g><g transform="translate(404.2 167.4)"><circle r="3.65" fill="#3444d8"/><circle r="2.25" fill="#161660"/><rect x="-1.2" y="-0.6" width="2.4" height="1.9" fill="#000"/><path d="M-1.7 -1.1h3.4" stroke="#8e9af0" stroke-width="0.6"/></g><g transform="translate(415.8 159.4)"><circle r="3.65" fill="#3444d8"/><circle r="2.25" fill="#161660"/><rect x="-1.2" y="-0.6" width="2.4" height="1.9" fill="#000"/><path d="M-1.7 -1.1h3.4" stroke="#8e9af0" stroke-width="0.6"/></g><g transform="translate(429.6 146.0)"><circle r="3.65" fill="#3444d8"/><circle r="2.25" fill="#161660"/><rect x="-1.2" y="-0.6" width="2.4" height="1.9" fill="#000"/><path d="M-1.7 -1.1h3.4" stroke="#8e9af0" stroke-width="0.6"/></g><g transform="translate(441.2 134.5)"><circle r="3.65" fill="#3444d8"/><circle r="2.25" fill="#161660"/><rect x="-1.2" y="-0.6" width="2.4" height="1.9" fill="#000"/><path d="M-1.7 -1.1h3.4" stroke="#8e9af0" stroke-width="0.6"/></g><g transform="translate(452.8 128.2)"><circle r="3.65" fill="#3444d8"/><circle r="2.25" fill="#161660"/><rect x="-1.2" y="-0.6" width="2.4" height="1.9" fill="#000"/><path d="M-1.7 -1.1h3.4" stroke="#8e9af0" stroke-width="0.6"/></g><g transform="translate(463.9 118.9)"><circle r="3.65" fill="#3444d8"/><circle r="2.25" fill="#161660"/><rect x="-1.2" y="-0.6" width="2.4" height="1.9" fill="#000"/><path d="M-1.7 -1.1h3.4" stroke="#8e9af0" stroke-width="0.6"/></g><g transform="translate(475.5 111.3)"><circle r="3.65" fill="#3444d8"/><circle r="2.25" fill="#161660"/><rect x="-1.2" y="-0.6" width="2.4" height="1.9" fill="#000"/><path d="M-1.7 -1.1h3.4" stroke="#8e9af0" stroke-width="0.6"/></g><g transform="translate(487.0 111.7)"><circle r="3.65" fill="#3444d8"/><circle r="2.25" fill="#161660"/><rect x="-1.2" y="-0.6" width="2.4" height="1.9" fill="#000"/><path d="M-1.7 -1.1h3.4" stroke="#8e9af0" stroke-width="0.6"/></g><g transform="translate(498.8 115.3)"><circle r="3.65" fill="#3444d8"/><circle r="2.25" fill="#161660"/><rect x="-1.2" y="-0.6" width="2.4" height="1.9" fill="#000"/><path d="M-1.7 -1.1h3.4" stroke="#8e9af0" stroke-width="0.6"/></g><g transform="translate(510.0 120.9)"><circle r="3.65" fill="#3444d8"/><circle r="2.25" fill="#161660"/><rect x="-1.2" y="-0.6" width="2.4" height="1.9" fill="#000"/><path d="M-1.7 -1.1h3.4" stroke="#8e9af0" stroke-width="0.6"/></g><g transform="translate(521.5 126.0)"><circle r="3.65" fill="#3444d8"/><circle r="2.25" fill="#161660"/><rect x="-1.2" y="-0.6" width="2.4" height="1.9" fill="#000"/><path d="M-1.7 -1.1h3.4" stroke="#8e9af0" stroke-width="0.6"/></g><g transform="translate(532.7 130.2)"><circle r="3.65" fill="#3444d8"/><circle r="2.25" fill="#161660"/><rect x="-1.2" y="-0.6" width="2.4" height="1.9" fill="#000"/><path d="M-1.7 -1.1h3.4" stroke="#8e9af0" stroke-width="0.6"/></g><g transform="translate(544.3 138.5)"><circle r="3.65" fill="#3444d8"/><circle r="2.25" fill="#161660"/><rect x="-1.2" y="-0.6" width="2.4" height="1.9" fill="#000"/><path d="M-1.7 -1.1h3.4" stroke="#8e9af0" stroke-width="0.6"/></g><g transform="translate(558.1 148.3)"><circle r="3.65" fill="#3444d8"/><circle r="2.25" fill="#161660"/><rect x="-1.2" y="-0.6" width="2.4" height="1.9" fill="#000"/><path d="M-1.7 -1.1h3.4" stroke="#8e9af0" stroke-width="0.6"/></g><g transform="translate(569.7 157.2)"><circle r="3.65" fill="#3444d8"/><circle r="2.25" fill="#161660"/><rect x="-1.2" y="-0.6" width="2.4" height="1.9" fill="#000"/><path d="M-1.7 -1.1h3.4" stroke="#8e9af0" stroke-width="0.6"/></g><g transform="translate(586.6 170.6)"><circle r="3.65" fill="#3444d8"/><circle r="2.25" fill="#161660"/><rect x="-1.2" y="-0.6" width="2.4" height="1.9" fill="#000"/><path d="M-1.7 -1.1h3.4" stroke="#8e9af0" stroke-width="0.6"/></g><g transform="translate(613.8 171.4)"><circle r="3.65" fill="#3444d8"/><circle r="2.25" fill="#161660"/><rect x="-1.2" y="-0.6" width="2.4" height="1.9" fill="#000"/><path d="M-1.7 -1.1h3.4" stroke="#8e9af0" stroke-width="0.6"/></g><g transform="translate(404.2 178.1)"><circle r="3.3" fill="#fbeeee" stroke="#d43a28" stroke-width="1.4"/><rect x="-1.8" y="-1.8" width="3.6" height="3.6" rx="0.4" fill="#111"/></g><g transform="translate(429.6 179.5)"><circle r="3.3" fill="#fbeeee" stroke="#d43a28" stroke-width="1.4"/><rect x="-1.8" y="-1.8" width="3.6" height="3.6" rx="0.4" fill="#111"/></g><g transform="translate(445.6 178.1)"><circle r="3.3" fill="#fbeeee" stroke="#d43a28" stroke-width="1.4"/><rect x="-1.8" y="-1.8" width="3.6" height="3.6" rx="0.4" fill="#111"/></g><g transform="translate(473.3 176.8)"><circle r="3.3" fill="#fbeeee" stroke="#d43a28" stroke-width="1.4"/><rect x="-1.8" y="-1.8" width="3.6" height="3.6" rx="0.4" fill="#111"/></g><g transform="translate(501.0 178.8)"><circle r="3.3" fill="#fbeeee" stroke="#d43a28" stroke-width="1.4"/><rect x="-1.8" y="-1.8" width="3.6" height="3.6" rx="0.4" fill="#111"/></g><g transform="translate(528.7 178.6)"><circle r="3.3" fill="#fbeeee" stroke="#d43a28" stroke-width="1.4"/><rect x="-1.8" y="-1.8" width="3.6" height="3.6" rx="0.4" fill="#111"/></g><g transform="translate(543.8 178.6)"><circle r="3.3" fill="#fbeeee" stroke="#d43a28" stroke-width="1.4"/><rect x="-1.8" y="-1.8" width="3.6" height="3.6" rx="0.4" fill="#111"/></g><g transform="translate(569.7 179.0)"><circle r="3.3" fill="#fbeeee" stroke="#d43a28" stroke-width="1.4"/><rect x="-1.8" y="-1.8" width="3.6" height="3.6" rx="0.4" fill="#111"/></g><text x="36.8" y="187.8" class="ra">0</text><text x="36.8" y="167.8" class="ra">0.2</text><text x="36.8" y="147.8" class="ra">0.4</text><text x="36.8" y="127.8" class="ra">0.6</text><text x="36.8" y="107.8" class="ra">0.8</text><text x="638.6" y="184.2">0</text><text x="638.6" y="159.6">10</text><text x="638.6" y="134.9">20</text><text x="638.6" y="110.2">30</text><text class="ax" transform="translate(10.3 138.4) rotate(-90)"><tspan font-style="italic">R</tspan> (m)</text><text class="ax" transform="translate(670.5 139.4) rotate(-90)"><tspan font-style="italic">B</tspan> (mT)</text><text x="354.6" y="115.8" class="tl">70 µs</text>
<g clip-path="url(#cl2)"><path class="c" d="M335.5 267.2 320.0 268.3 309.0 268.4 297.5 267.6 287.0 266.0 275.5 263.3 265.5 260.0 259.5 257.2 247.3 250.2 238.5 246.7 234.0 245.6 229.0 244.8 216.0 244.1 204.5 244.7 192.0 246.5 174.0 250.2 147.0 256.6 116.5 261.5 83.5 267.3 74.0 268.3 64.5 268.5 55.5 268.3 41.5 267.2M335.5 255.2 323.5 257.3 315.5 258.2 308.0 258.1 300.5 257.1 294.0 255.3 287.5 252.8 281.0 249.7 262.5 239.6 256.0 236.8 249.5 234.6 239.5 232.3 225.0 230.1 214.5 229.0 204.0 228.8 188.0 229.2 169.0 231.3 156.5 233.2 133.0 238.0 124.2 240.2 116.5 242.6 108.0 245.7 88.0 254.1 81.0 256.3 75.0 257.6 68.0 258.3 60.5 258.2 53.0 257.4 41.5 255.3M335.5 247.7 324.0 250.6 317.0 251.8 310.0 252.0 303.0 251.1 297.0 249.3 291.0 246.5 285.5 243.2 273.0 234.6 267.0 230.8 260.0 227.2 253.0 224.6 242.5 222.0 217.5 217.3 210.5 216.7 191.5 216.1 183.5 216.5 161.5 219.0 134.0 225.2 125.0 227.5 117.5 230.1 110.5 233.3 104.0 236.9 91.0 244.6 85.5 247.5 80.0 249.7 74.5 251.3 67.5 252.2 60.5 252.0 53.5 250.8 41.5 247.8M335.5 241.6 324.0 245.3 317.0 246.8 310.0 247.2 303.5 246.2 298.0 244.3 292.5 241.3 287.4 237.7 275.5 227.9 269.5 223.4 262.5 219.2 255.5 216.1 249.0 214.2 230.5 210.2 216.5 206.7 212.0 206.3 202.0 206.3 189.5 205.1 185.0 205.4 175.5 206.9 165.5 207.5 161.0 208.1 146.5 212.1 128.0 216.6 122.0 218.4 115.0 221.4 108.0 225.4 102.0 229.5 90.0 238.5 85.0 241.8 79.5 244.6 74.0 246.4 67.0 247.4 60.0 247.0 53.0 245.5 41.5 241.8M335.5 236.3 324.0 240.8 317.5 242.6 310.5 243.2 304.0 242.1 298.5 240.0 293.2 236.7 288.3 232.7 277.5 222.1 272.0 217.4 264.5 212.1 257.5 208.4 252.0 206.6 230.0 201.9 219.5 197.8 216.5 196.9 212.0 196.6 205.0 197.7 202.0 197.7 199.0 197.2 192.5 195.2 189.0 194.7 185.0 195.3 178.0 197.6 175.0 198.2 172.0 198.2 165.5 197.6 161.0 198.0 157.5 199.1 147.5 203.2 125.5 208.5 120.0 210.3 113.0 214.0 105.5 219.0 100.0 223.5 89.4 233.2 84.2 237.2 79.0 240.3 73.5 242.4 67.0 243.4 60.0 242.9 53.0 241.0 41.5 236.5M181.4 187.2 177.5 190.3 176.0 191.0 174.5 191.3 172.0 190.7 166.0 187.9 164.0 187.5 161.5 187.7 158.0 189.1 151.0 194.0 147.5 195.7 139.5 197.3 131.5 199.6 123.5 200.9 119.0 202.5 112.0 206.7 103.5 213.2 98.5 218.0 88.6 228.7 84.0 232.9 79.0 236.3 73.5 238.7 70.5 239.5 67.0 239.9 63.5 239.8 60.0 239.3 53.4 237.2 41.5 231.7M210.8 187.2 205.0 190.4 202.5 191.0 200.0 190.2 196.1 187.2M335.5 231.5 323.5 237.1 316.5 239.2 313.0 239.6 309.5 239.6 306.0 239.1 302.5 238.0 297.5 235.4 293.0 232.1 288.5 227.7 279.5 217.3 275.0 212.7 268.5 207.3 261.0 202.2 257.5 200.4 254.5 199.4 246.0 198.3 237.5 195.9 229.5 194.7 226.5 193.2 220.5 188.8 217.4 187.2M150.7 187.2 149.0 188.9 147.0 189.9 140.0 189.5 138.0 190.1 132.0 193.0 129.5 193.3 125.0 193.0 122.5 193.2 120.0 193.9 117.0 195.5 105.5 204.5 101.0 208.5 96.5 213.6 88.3 224.2 83.5 229.3 78.5 233.1 73.5 235.5 70.5 236.4 67.0 236.8 63.5 236.7 60.0 236.1 53.5 233.7 41.5 227.3M335.5 227.1 324.0 233.3 317.5 235.8 314.0 236.4 310.5 236.6 307.0 236.1 304.0 235.3 299.0 232.8 294.0 228.9 289.0 223.4 281.0 212.4 277.0 207.7 272.5 203.6 260.0 193.7 257.0 192.2 254.5 191.6 252.5 191.5 247.5 192.2 245.5 192.0 243.5 191.2 239.5 189.0 237.5 188.4 235.5 188.3 231.5 189.2 230.0 189.2 228.5 188.4 227.2 187.2M116.8 187.2 109.0 195.0 102.0 200.7 99.0 203.7 95.0 209.0 87.7 220.2 83.3 225.7 79.0 229.5 75.0 231.9 71.5 233.3 68.0 233.9 64.5 234.0 60.5 233.3 54.0 230.7 41.5 223.0M132.8 187.2 131.5 187.9 130.5 188.0 128.3 187.2M335.5 222.8 323.5 230.2 320.0 231.9 316.5 233.1 312.5 233.7 309.0 233.6 305.5 232.9 302.0 231.5 297.0 228.1 292.4 223.2 288.8 218.2 282.0 207.1 278.0 201.9 275.0 199.0 268.5 193.9 262.3 187.2M110.1 187.2 107.0 190.9 101.1 194.7 98.0 197.7 94.5 202.8 87.8 215.2 83.9 221.2 79.0 226.4 74.0 229.7 70.0 231.1 67.0 231.5 63.5 231.3 59.5 230.3 53.5 227.3 41.5 218.9M335.5 218.6 323.5 227.1 320.5 228.9 317.5 230.1 313.5 231.1 310.0 231.2 307.0 230.7 303.5 229.5 299.0 226.6 296.5 224.3 293.8 221.2 289.7 214.7 283.0 201.7 279.5 196.5 276.1 193.2 270.5 190.0 268.0 187.2M105.6 187.2 102.0 187.5 100.5 188.0 98.8 189.2 97.0 191.1 93.5 196.8 86.2 213.2 83.4 218.2 80.5 221.9 78.0 224.4 75.5 226.3 72.5 227.9 69.5 228.8 65.5 229.1 62.0 228.6 59.0 227.6 53.5 224.3 44.5 216.8 41.5 214.8M335.5 214.5 332.5 216.6 323.5 224.2 318.0 227.4 315.0 228.4 310.5 228.9 307.5 228.5 304.5 227.5 302.0 226.1 299.0 223.8 296.5 221.2 294.0 217.8 291.2 212.7 283.5 194.6 280.9 190.2 278.1 187.2M93.6 187.2 91.0 193.5 86.0 208.2 83.0 214.9 80.6 218.7 78.0 221.7 75.5 223.8 72.5 225.6 69.5 226.6 65.0 226.9 62.0 226.3 59.0 225.1 54.0 221.9 45.0 213.2 41.5 210.7M335.5 210.3 332.5 212.5 323.5 221.3 320.5 223.6 318.0 225.0 315.0 226.1 310.5 226.6 307.5 226.2 304.5 225.1 302.0 223.7 299.0 221.0 296.5 217.9 294.0 213.7 291.4 207.7 287.0 193.6 284.6 187.2M89.2 187.2 85.4 202.7 83.0 210.4 80.5 215.5 78.0 218.9 75.5 221.3 72.5 223.4 70.0 224.3 67.0 224.8 64.0 224.6 59.5 223.1 56.5 221.2 54.0 219.0 45.0 209.1 41.5 206.5M335.5 206.0 332.0 208.7 323.5 218.4 320.5 221.0 318.0 222.6 315.5 223.7 312.0 224.5 310.0 224.5 307.5 224.1 305.0 223.1 302.0 221.2 299.5 218.8 297.0 215.2 295.7 212.7 293.8 208.2 292.8 204.7 288.7 187.2M85.7 187.2 83.3 202.7 80.5 211.5 78.0 216.0 75.5 218.9 72.5 221.2 70.0 222.2 67.0 222.8 64.5 222.6 62.0 221.9 59.0 220.5 56.5 218.6 54.0 216.1 45.5 205.0 43.5 203.2 41.5 202.1M335.5 201.6 333.5 202.8 331.9 204.2 329.5 207.0 323.5 215.3 320.5 218.5 318.0 220.3 315.5 221.6 312.5 222.4 310.0 222.5 307.5 222.0 304.5 220.7 302.0 218.7 299.4 215.7 296.5 210.3 293.9 200.2 292.1 187.2M82.6 187.2 81.3 201.7 80.8 205.2 79.2 209.7 78.0 212.8 75.5 216.2 72.5 218.9 70.0 220.2 67.0 220.8 64.5 220.7 62.0 219.8 59.0 218.1 56.5 215.9 54.0 212.9 49.5 205.4 46.5 201.0 44.0 198.7 41.5 197.6M335.5 197.0 332.5 198.5 330.0 201.1 323.5 211.8 320.5 215.8 318.0 218.0 315.5 219.4 312.5 220.4 310.0 220.6 307.5 219.9 304.5 218.4 302.0 216.2 299.5 212.6 297.5 207.2 296.4 202.7 295.7 196.2 295.2 187.2M79.5 187.2 79.6 199.2 79.0 203.7 78.0 208.3 75.5 213.4 72.9 216.2 70.0 218.1 67.5 218.7 64.5 218.6 62.0 217.7 59.0 215.6 56.5 213.0 54.0 208.8 50.0 200.2 47.5 196.2 44.5 193.6 41.5 192.8M335.5 192.1 332.5 192.9 331.0 193.9 329.5 195.4 327.2 199.2 323.2 208.2 320.5 212.8 318.0 215.5 315.5 217.1 312.5 218.3 310.0 218.5 307.5 217.9 304.5 216.0 301.9 213.2 299.3 207.7 298.5 203.2 298.0 198.7 298.3 187.2M76.4 187.2 77.3 194.7 77.5 199.7 77.1 203.7 76.0 208.2 75.0 210.7 72.5 214.0 70.0 215.9 67.0 216.5 64.5 216.3 63.0 215.6 62.0 215.4 59.0 212.8 56.1 208.2 53.8 202.7 51.0 193.8 50.0 191.7 48.6 189.7 47.0 188.3 45.5 187.7 43.5 187.4 41.5 187.7M330.0 187.2 328.0 188.9 326.5 191.3 325.0 195.2 323.0 202.4 321.0 207.7 318.0 212.8 315.0 215.0 312.5 216.1 310.0 216.2 307.0 215.3 304.5 213.4 302.5 210.3 302.0 210.2 300.6 204.2 300.2 199.7 300.4 194.2 301.4 187.2M72.7 187.2 74.2 192.2 75.2 197.2 75.3 202.2 75.0 205.2 72.5 211.0 70.0 213.4 67.0 214.2 64.5 213.9 63.0 213.0 62.0 212.9 59.5 209.9 58.6 208.2 56.4 202.7 54.5 187.2M321.6 187.2 320.8 200.2 320.3 202.7 318.3 208.2 315.0 212.3 312.5 213.6 311.5 213.5 310.0 213.8 308.5 213.1 307.5 213.1 304.5 210.2 302.3 202.7 302.3 199.7 302.9 195.2 304.0 190.8 305.3 187.2M67.5 211.3 64.5 211.1 62.0 209.0 59.2 202.7 59.0 197.2 59.8 192.7 61.5 189.0 62.5 188.0 64.0 187.4 65.0 187.4 66.5 187.9 69.0 190.1 70.4 192.2 72.5 197.2 72.9 200.2 72.8 205.2 70.0 210.4 69.0 210.3 67.5 211.3M312.5 210.7 311.5 210.4 310.0 211.0 308.5 209.8 307.5 209.6 305.3 205.2 304.7 202.7 304.9 199.7 305.4 197.7 307.5 192.5 310.0 189.7 312.5 189.1 314.5 190.0 315.9 191.7 317.1 195.2 317.8 199.7 317.3 202.7 315.7 207.7 312.5 210.7M67.0 207.3 66.0 206.2 64.5 206.3 63.7 204.2 63.3 200.7 64.5 196.9 66.0 197.2 67.0 196.9 67.5 197.2 69.6 202.7 67.0 207.3M310.0 205.9 309.5 205.2 309.2 202.7 309.6 199.7 310.0 199.0 311.5 199.7 312.5 199.2 313.0 200.2 313.2 202.2 312.7 205.2 312.5 205.5 311.5 204.3 310.0 205.9"/><path class="bf" d="M166.2 277.1C167.4 273.9 168.0 270.6 169.8 267.6C171.6 264.6 173.4 261.7 177.0 259.3C180.6 256.9 186.4 254.8 191.6 253.1C196.8 251.4 202.6 249.8 208.2 248.9C213.8 248.0 220.0 247.5 224.9 247.5C229.8 247.5 233.6 247.8 237.4 248.9C241.2 250.0 245.2 251.8 247.8 254.1C250.4 256.3 251.8 258.6 253.0 262.4C254.2 266.2 254.4 272.2 255.1 277.1Z"/><path class="bi" d="M195.3 259.5C195.3 257.7 199.8 255.0 203.4 253.7C207.0 252.4 212.2 251.9 216.7 251.5C221.1 251.1 226.2 251.0 230.1 251.5C234.0 252.0 237.7 253.2 239.9 254.6C242.1 256.0 244.1 258.3 243.5 259.9C242.9 261.5 240.0 263.4 236.3 264.4C232.6 265.4 226.7 265.7 221.2 265.7C215.7 265.7 207.7 265.4 203.4 264.4C199.1 263.4 195.3 261.3 195.3 259.5Z"/><path class="bl" d="M166.2 277.1C167.4 273.9 168.0 270.6 169.8 267.6C171.6 264.6 173.4 261.7 177.0 259.3C180.6 256.9 186.4 254.8 191.6 253.1C196.8 251.4 202.6 249.8 208.2 248.9C213.8 248.0 220.0 247.5 224.9 247.5C229.8 247.5 233.6 247.8 237.4 248.9C241.2 250.0 245.2 251.8 247.8 254.1C250.4 256.3 251.8 258.6 253.0 262.4C254.2 266.2 254.4 272.2 255.1 277.1"/><path class="c" d="M184.0 253.8 185.0 253.4 186.0 253.0 187.0 252.7 188.0 252.3 189.0 252.0 190.0 251.6 191.0 251.3 192.0 251.0 193.0 250.6 194.0 250.3 195.1 250.0 196.1 249.7 197.2 249.4 198.2 249.1 199.3 248.9 200.4 248.6 201.4 248.3 202.5 248.1 203.6 247.8 204.7 247.6 205.7 247.4 206.8 247.2 207.9 247.0 209.0 246.9 210.0 246.7 211.1 246.5 212.2 246.4 213.3 246.3 214.4 246.2 215.6 246.1 216.7 246.0 217.7 245.9 218.8 245.8 219.9 245.7 220.9 245.7 222.0 245.7 223.0 245.6 223.9 245.6 224.9 245.6 225.8 245.6 226.7 245.6 227.6 245.6 228.4 245.7 229.3 245.7 230.1 245.8 230.9 245.8 231.7 245.9 232.5 246.0 233.3 246.1 234.1 246.2 234.9 246.4 235.6 246.5 236.4 246.7 237.2 246.9 237.9 247.1 238.7 247.3 239.4 247.5 240.2 247.8 240.9 248.1 241.7 248.4 242.4 248.7 243.2 249.0 243.9 249.4 244.6 249.7 245.3 250.1 246.0 250.5 246.6 250.9 247.3 251.3 247.9 251.7 248.5 252.2 249.0 252.7 249.6 253.1 250.1 253.6 250.5 254.1"/><rect x="223.5" y="255.6" width="3.4" height="2.4" rx="0.6" fill="#000"/><path class="w" d="M48.5 246.6 48.5 236.0 65.8 236.3 67.6 235.5 74.3 229.2 77.4 222.5 84.6 210.1 87.2 206.9 290.0 206.9 292.6 210.1 299.8 222.5 302.9 229.2 309.6 235.5 311.4 236.3 328.7 236.0 328.7 246.6"/><rect class="bs" x="58.5" y="234.5" width="5.4" height="5.4"/><rect class="bs" x="85.6" y="205.8" width="5.4" height="5.4"/><rect class="bs" x="103.0" y="205.8" width="5.4" height="5.4"/><rect class="bs" x="114.5" y="205.8" width="5.4" height="5.4"/><rect class="bs" x="128.3" y="205.8" width="5.4" height="5.4"/><rect class="bs" x="139.9" y="205.8" width="5.4" height="5.4"/><rect class="bs" x="151.5" y="205.8" width="5.4" height="5.4"/><rect class="bs" x="163.0" y="205.8" width="5.4" height="5.4"/><rect class="bs" x="174.6" y="205.8" width="5.4" height="5.4"/><rect class="bs" x="185.9" y="205.8" width="5.4" height="5.4"/><rect class="bs" x="197.2" y="205.8" width="5.4" height="5.4"/><rect class="bs" x="208.8" y="205.8" width="5.4" height="5.4"/><rect class="bs" x="220.3" y="205.8" width="5.4" height="5.4"/><rect class="bs" x="231.9" y="205.8" width="5.4" height="5.4"/><rect class="bs" x="243.5" y="205.8" width="5.4" height="5.4"/><rect class="bs" x="257.3" y="205.8" width="5.4" height="5.4"/><rect class="bs" x="268.8" y="205.8" width="5.4" height="5.4"/><rect class="bs" x="286.2" y="205.8" width="5.4" height="5.4"/><rect class="bs" x="313.3" y="234.5" width="5.4" height="5.4"/><rect class="rs" x="102.9" y="187.3" width="5.8" height="6.8"/><rect class="rs" x="128.1" y="187.3" width="5.8" height="6.8"/><rect class="rs" x="144.3" y="187.3" width="5.8" height="6.8"/><rect class="rs" x="171.9" y="187.3" width="5.8" height="6.8"/><rect class="rs" x="199.5" y="187.3" width="5.8" height="6.8"/><rect class="rs" x="227.1" y="187.3" width="5.8" height="6.8"/><rect class="rs" x="243.3" y="187.3" width="5.8" height="6.8"/><rect class="rs" x="268.5" y="187.3" width="5.8" height="6.8"/></g>
<rect class="fr" x="41.5" y="187.2" width="294.1" height="89.8"/><path class="t" d="M41.5 277.1h2.2M335.6 277.1h-2.2M41.5 257.1h2.2M335.6 257.1h-2.2M41.5 237.1h2.2M335.6 237.1h-2.2M41.5 217.1h2.2M335.6 217.1h-2.2M41.5 197.1h2.2M335.6 197.1h-2.2M45.8 277.1v-2.2M45.8 187.2v2.2M93.4 277.1v-2.2M93.4 187.2v2.2M141.0 277.1v-2.2M141.0 187.2v2.2M188.6 277.1v-2.2M188.6 187.2v2.2M236.2 277.1v-2.2M236.2 187.2v2.2M283.8 277.1v-2.2M283.8 187.2v2.2M331.4 277.1v-2.2M331.4 187.2v2.2"/><rect class="fr2" x="339.9" y="187.2" width="294.1" height="89.8"/><path class="t" d="M339.9 273.5h2.2M634.0 273.5h-2.2M339.9 248.8h2.2M634.0 248.8h-2.2M339.9 224.1h2.2M634.0 224.1h-2.2M339.9 199.4h2.2M634.0 199.4h-2.2M344.2 277.1v-2.2M344.2 187.2v2.2M391.8 277.1v-2.2M391.8 187.2v2.2M439.3 277.1v-2.2M439.3 187.2v2.2M486.9 277.1v-2.2M486.9 187.2v2.2M534.4 277.1v-2.2M534.4 187.2v2.2M582.0 277.1v-2.2M582.0 187.2v2.2M629.5 277.1v-2.2M629.5 187.2v2.2"/><g transform="translate(359.6 269.9)"><circle r="3.65" fill="#3444d8"/><circle r="2.25" fill="#161660"/><rect x="-1.2" y="-0.6" width="2.4" height="1.9" fill="#000"/><path d="M-1.7 -1.1h3.4" stroke="#8e9af0" stroke-width="0.6"/></g><g transform="translate(386.8 270.4)"><circle r="3.65" fill="#3444d8"/><circle r="2.25" fill="#161660"/><rect x="-1.2" y="-0.6" width="2.4" height="1.9" fill="#000"/><path d="M-1.7 -1.1h3.4" stroke="#8e9af0" stroke-width="0.6"/></g><g transform="translate(404.2 265.0)"><circle r="3.65" fill="#3444d8"/><circle r="2.25" fill="#161660"/><rect x="-1.2" y="-0.6" width="2.4" height="1.9" fill="#000"/><path d="M-1.7 -1.1h3.4" stroke="#8e9af0" stroke-width="0.6"/></g><g transform="translate(415.8 261.0)"><circle r="3.65" fill="#3444d8"/><circle r="2.25" fill="#161660"/><rect x="-1.2" y="-0.6" width="2.4" height="1.9" fill="#000"/><path d="M-1.7 -1.1h3.4" stroke="#8e9af0" stroke-width="0.6"/></g><g transform="translate(429.6 254.3)"><circle r="3.65" fill="#3444d8"/><circle r="2.25" fill="#161660"/><rect x="-1.2" y="-0.6" width="2.4" height="1.9" fill="#000"/><path d="M-1.7 -1.1h3.4" stroke="#8e9af0" stroke-width="0.6"/></g><g transform="translate(441.2 247.2)"><circle r="3.65" fill="#3444d8"/><circle r="2.25" fill="#161660"/><rect x="-1.2" y="-0.6" width="2.4" height="1.9" fill="#000"/><path d="M-1.7 -1.1h3.4" stroke="#8e9af0" stroke-width="0.6"/></g><g transform="translate(452.8 241.4)"><circle r="3.65" fill="#3444d8"/><circle r="2.25" fill="#161660"/><rect x="-1.2" y="-0.6" width="2.4" height="1.9" fill="#000"/><path d="M-1.7 -1.1h3.4" stroke="#8e9af0" stroke-width="0.6"/></g><g transform="translate(463.9 230.7)"><circle r="3.65" fill="#3444d8"/><circle r="2.25" fill="#161660"/><rect x="-1.2" y="-0.6" width="2.4" height="1.9" fill="#000"/><path d="M-1.7 -1.1h3.4" stroke="#8e9af0" stroke-width="0.6"/></g><g transform="translate(475.5 220.9)"><circle r="3.65" fill="#3444d8"/><circle r="2.25" fill="#161660"/><rect x="-1.2" y="-0.6" width="2.4" height="1.9" fill="#000"/><path d="M-1.7 -1.1h3.4" stroke="#8e9af0" stroke-width="0.6"/></g><g transform="translate(487.0 216.9)"><circle r="3.65" fill="#3444d8"/><circle r="2.25" fill="#161660"/><rect x="-1.2" y="-0.6" width="2.4" height="1.9" fill="#000"/><path d="M-1.7 -1.1h3.4" stroke="#8e9af0" stroke-width="0.6"/></g><g transform="translate(498.8 213.3)"><circle r="3.65" fill="#3444d8"/><circle r="2.25" fill="#161660"/><rect x="-1.2" y="-0.6" width="2.4" height="1.9" fill="#000"/><path d="M-1.7 -1.1h3.4" stroke="#8e9af0" stroke-width="0.6"/></g><g transform="translate(510.0 206.6)"><circle r="3.65" fill="#3444d8"/><circle r="2.25" fill="#161660"/><rect x="-1.2" y="-0.6" width="2.4" height="1.9" fill="#000"/><path d="M-1.7 -1.1h3.4" stroke="#8e9af0" stroke-width="0.6"/></g><g transform="translate(521.5 204.4)"><circle r="3.65" fill="#3444d8"/><circle r="2.25" fill="#161660"/><rect x="-1.2" y="-0.6" width="2.4" height="1.9" fill="#000"/><path d="M-1.7 -1.1h3.4" stroke="#8e9af0" stroke-width="0.6"/></g><g transform="translate(532.7 203.0)"><circle r="3.65" fill="#3444d8"/><circle r="2.25" fill="#161660"/><rect x="-1.2" y="-0.6" width="2.4" height="1.9" fill="#000"/><path d="M-1.7 -1.1h3.4" stroke="#8e9af0" stroke-width="0.6"/></g><g transform="translate(544.3 209.7)"><circle r="3.65" fill="#3444d8"/><circle r="2.25" fill="#161660"/><rect x="-1.2" y="-0.6" width="2.4" height="1.9" fill="#000"/><path d="M-1.7 -1.1h3.4" stroke="#8e9af0" stroke-width="0.6"/></g><g transform="translate(558.1 217.3)"><circle r="3.65" fill="#3444d8"/><circle r="2.25" fill="#161660"/><rect x="-1.2" y="-0.6" width="2.4" height="1.9" fill="#000"/><path d="M-1.7 -1.1h3.4" stroke="#8e9af0" stroke-width="0.6"/></g><g transform="translate(569.7 236.9)"><circle r="3.65" fill="#3444d8"/><circle r="2.25" fill="#161660"/><rect x="-1.2" y="-0.6" width="2.4" height="1.9" fill="#000"/><path d="M-1.7 -1.1h3.4" stroke="#8e9af0" stroke-width="0.6"/></g><g transform="translate(586.6 263.2)"><circle r="3.65" fill="#3444d8"/><circle r="2.25" fill="#161660"/><rect x="-1.2" y="-0.6" width="2.4" height="1.9" fill="#000"/><path d="M-1.7 -1.1h3.4" stroke="#8e9af0" stroke-width="0.6"/></g><g transform="translate(613.8 270.4)"><circle r="3.65" fill="#3444d8"/><circle r="2.25" fill="#161660"/><rect x="-1.2" y="-0.6" width="2.4" height="1.9" fill="#000"/><path d="M-1.7 -1.1h3.4" stroke="#8e9af0" stroke-width="0.6"/></g><g transform="translate(404.2 272.6)"><circle r="3.3" fill="#fbeeee" stroke="#d43a28" stroke-width="1.4"/><rect x="-1.8" y="-1.8" width="3.6" height="3.6" rx="0.4" fill="#111"/></g><g transform="translate(429.6 272.6)"><circle r="3.3" fill="#fbeeee" stroke="#d43a28" stroke-width="1.4"/><rect x="-1.8" y="-1.8" width="3.6" height="3.6" rx="0.4" fill="#111"/></g><g transform="translate(445.6 272.1)"><circle r="3.3" fill="#fbeeee" stroke="#d43a28" stroke-width="1.4"/><rect x="-1.8" y="-1.8" width="3.6" height="3.6" rx="0.4" fill="#111"/></g><g transform="translate(473.3 270.8)"><circle r="3.3" fill="#fbeeee" stroke="#d43a28" stroke-width="1.4"/><rect x="-1.8" y="-1.8" width="3.6" height="3.6" rx="0.4" fill="#111"/></g><g transform="translate(501.0 270.4)"><circle r="3.3" fill="#fbeeee" stroke="#d43a28" stroke-width="1.4"/><rect x="-1.8" y="-1.8" width="3.6" height="3.6" rx="0.4" fill="#111"/></g><g transform="translate(528.7 272.6)"><circle r="3.3" fill="#fbeeee" stroke="#d43a28" stroke-width="1.4"/><rect x="-1.8" y="-1.8" width="3.6" height="3.6" rx="0.4" fill="#111"/></g><g transform="translate(543.8 272.6)"><circle r="3.3" fill="#fbeeee" stroke="#d43a28" stroke-width="1.4"/><rect x="-1.8" y="-1.8" width="3.6" height="3.6" rx="0.4" fill="#111"/></g><g transform="translate(569.7 272.6)"><circle r="3.3" fill="#fbeeee" stroke="#d43a28" stroke-width="1.4"/><rect x="-1.8" y="-1.8" width="3.6" height="3.6" rx="0.4" fill="#111"/></g><text x="36.8" y="281.2" class="ra">0</text><text x="36.8" y="261.2" class="ra">0.2</text><text x="36.8" y="241.2" class="ra">0.4</text><text x="36.8" y="221.2" class="ra">0.6</text><text x="36.8" y="201.2" class="ra">0.8</text><text x="638.6" y="277.6">0</text><text x="638.6" y="252.9">10</text><text x="638.6" y="228.2">20</text><text x="638.6" y="203.5">30</text><text class="ax" transform="translate(10.3 231.7) rotate(-90)"><tspan font-style="italic">R</tspan> (m)</text><text class="ax" transform="translate(670.5 232.7) rotate(-90)"><tspan font-style="italic">B</tspan> (mT)</text><text x="354.6" y="212.0" class="tl">80 µs</text>
<g clip-path="url(#cl3)"><path class="c" d="M335.5 360.5 319.5 361.6 308.0 361.7 296.5 360.8 285.0 358.9 273.5 356.0 264.5 352.8 259.5 350.4 247.1 343.0 240.0 339.8 232.0 337.8 223.5 336.9 213.0 337.7 185.5 341.8 142.5 350.3 117.0 354.5 92.5 359.2 83.0 360.7 73.5 361.6 64.5 361.9 55.5 361.6 41.5 360.5M335.5 348.5 323.5 350.6 315.5 351.5 308.0 351.4 300.5 350.4 294.0 348.6 287.0 345.9 281.0 342.9 262.5 332.6 256.5 329.9 251.0 327.8 243.0 325.8 232.5 323.9 221.5 322.9 212.0 322.6 190.0 323.2 172.0 324.7 158.5 326.6 134.5 331.1 125.0 333.3 117.0 335.6 108.0 339.0 87.5 347.6 81.0 349.6 74.5 351.0 67.5 351.7 60.5 351.5 53.0 350.7 41.5 348.6M335.5 341.0 324.0 343.9 317.0 345.1 310.0 345.3 303.0 344.4 297.0 342.6 291.0 339.8 285.5 336.4 273.0 327.7 266.5 323.5 259.9 320.0 253.0 317.5 240.0 314.4 219.0 311.0 212.0 310.5 192.0 310.1 184.0 310.4 161.5 312.7 134.0 318.7 124.6 321.0 117.5 323.5 110.0 326.9 103.5 330.4 91.0 337.9 85.5 340.8 79.5 343.2 74.0 344.7 67.0 345.5 60.0 345.2 53.0 344.0 41.5 341.1M335.5 334.9 324.5 338.5 317.5 340.1 310.5 340.5 304.0 339.6 298.5 337.8 292.5 334.6 287.0 330.6 275.5 320.9 269.5 316.4 262.5 312.1 255.5 309.0 247.5 306.8 230.0 303.4 217.0 300.4 212.0 300.0 202.0 300.0 189.5 298.9 185.0 299.2 175.5 300.6 165.5 301.2 161.0 301.8 146.0 305.8 128.0 310.1 122.0 311.9 115.0 314.9 107.5 319.1 101.5 323.2 90.0 331.8 84.5 335.4 79.5 337.9 74.0 339.7 67.0 340.7 60.0 340.3 53.0 338.8 41.5 335.1M335.5 329.6 324.0 334.1 317.5 335.9 310.5 336.5 304.0 335.4 298.5 333.3 293.3 330.0 288.0 325.6 277.5 315.2 272.0 310.4 264.5 305.1 257.5 301.4 251.5 299.5 229.5 295.1 220.0 291.5 216.5 290.5 212.0 290.3 205.0 291.3 202.0 291.4 199.0 290.9 192.5 289.0 189.0 288.6 185.0 289.1 178.0 291.3 175.0 291.9 172.0 291.9 165.5 291.3 161.0 291.7 157.5 292.8 147.5 296.7 125.5 302.0 120.0 303.8 113.0 307.4 105.5 312.4 100.0 316.9 89.4 326.5 84.2 330.5 79.0 333.6 73.5 335.7 67.0 336.7 60.0 336.2 53.0 334.3 41.5 329.8M182.0 280.5 177.5 284.0 176.0 284.6 174.5 284.9 172.0 284.4 167.5 282.1 165.5 281.5 163.5 281.3 161.0 281.6 157.5 283.1 151.0 287.6 147.5 289.3 139.5 290.8 131.5 293.1 123.5 294.4 118.5 296.2 111.5 300.5 103.0 307.1 98.0 311.9 88.6 322.0 84.0 326.2 79.0 329.6 73.5 332.1 70.5 332.8 67.0 333.2 63.5 333.1 60.0 332.6 53.0 330.3 41.5 325.0M211.8 280.5 209.5 281.4 205.0 284.0 202.5 284.5 201.0 284.3 199.5 283.5 195.6 280.5M335.5 324.8 324.0 330.2 317.0 332.4 313.5 332.9 310.0 332.9 306.5 332.5 303.0 331.4 298.0 329.0 293.3 325.5 288.6 321.0 279.5 310.3 275.0 305.7 268.5 300.3 261.0 295.2 257.5 293.4 254.5 292.4 246.0 291.4 237.5 289.2 229.5 288.0 226.4 286.5 220.0 282.1 216.5 280.5M150.9 280.5 149.0 282.5 147.0 283.4 140.0 283.1 138.0 283.7 132.0 286.5 129.5 286.8 125.0 286.5 122.5 286.7 120.0 287.4 117.0 289.0 106.0 297.5 101.0 301.9 96.5 306.9 88.3 317.5 83.5 322.6 78.5 326.4 73.5 328.8 70.5 329.7 67.0 330.1 63.5 330.0 60.0 329.4 53.5 327.0 41.5 320.6M335.5 320.3 324.0 326.6 317.5 329.0 314.0 329.7 310.5 329.8 307.0 329.4 304.0 328.6 299.0 326.1 294.0 322.1 289.0 316.5 281.0 305.5 277.0 300.7 272.5 296.6 260.0 286.7 257.0 285.2 254.5 284.6 252.5 284.6 247.5 285.4 245.5 285.2 243.5 284.5 239.5 282.3 237.5 281.6 235.5 281.6 231.7 282.5 230.0 282.5 228.5 281.8 227.1 280.5M117.1 280.5 108.9 288.5 100.0 296.1 96.0 300.9 88.5 312.4 84.6 317.5 80.5 321.7 75.0 325.3 71.5 326.6 68.0 327.3 64.5 327.3 60.5 326.6 54.0 324.0 41.5 316.3M133.0 280.5 131.5 281.4 130.5 281.5 128.1 280.5M335.5 316.0 323.5 323.5 320.0 325.2 316.5 326.4 312.5 327.0 309.0 326.9 305.5 326.2 302.0 324.8 297.0 321.3 292.5 316.5 288.9 311.5 282.0 300.2 278.0 294.9 275.0 292.1 268.5 287.0 262.6 280.5M110.2 280.5 107.0 284.3 101.0 288.2 98.0 291.2 94.5 296.2 87.8 308.5 83.9 314.5 79.0 319.7 73.9 323.0 70.0 324.4 67.0 324.8 63.5 324.6 59.5 323.6 53.5 320.6 41.5 312.2M335.5 311.9 323.5 320.4 318.0 323.2 314.5 324.2 310.5 324.5 307.5 324.1 304.0 323.0 302.0 322.0 299.0 319.9 296.5 317.6 293.9 314.5 289.8 308.0 283.0 294.7 279.5 289.5 276.5 286.5 270.5 283.2 268.2 280.5M105.8 280.5 102.0 281.0 100.5 281.5 99.0 282.5 97.1 284.5 93.5 290.3 86.2 306.5 83.4 311.5 80.5 315.3 78.0 317.7 75.5 319.6 72.5 321.2 69.5 322.1 65.5 322.4 62.0 321.9 59.0 320.9 53.5 317.6 44.5 310.1 41.5 308.1M335.5 307.7 332.5 309.8 323.5 317.5 318.0 320.7 315.0 321.7 310.5 322.1 307.5 321.8 304.5 320.7 302.0 319.4 299.0 317.0 296.5 314.4 294.1 311.0 291.3 306.0 283.5 287.6 281.0 283.4 278.5 280.5M93.7 280.5 91.0 287.0 86.0 301.5 83.0 308.2 80.6 312.0 78.0 315.0 75.5 317.1 72.5 318.9 69.5 319.9 65.0 320.2 62.0 319.6 59.0 318.4 54.0 315.2 45.0 306.6 41.5 304.0M335.5 303.5 332.5 305.7 323.5 314.6 320.5 316.8 318.0 318.2 315.0 319.4 310.5 319.9 307.5 319.5 304.5 318.4 302.0 316.9 299.0 314.2 296.5 311.2 294.0 306.9 291.5 301.0 287.0 286.5 284.8 280.5M89.3 280.5 85.5 296.0 83.0 303.8 80.5 308.9 78.0 312.2 75.5 314.7 72.5 316.7 70.0 317.6 67.0 318.1 64.0 317.9 59.5 316.4 56.5 314.5 54.0 312.3 45.0 302.4 41.5 299.8M335.5 299.3 332.0 301.9 323.5 311.6 320.5 314.3 318.0 315.9 315.5 317.0 312.5 317.7 310.0 317.8 307.0 317.2 304.5 316.2 302.0 314.5 299.1 311.5 296.2 307.0 293.7 301.0 288.9 280.5M85.8 280.5 83.3 296.0 80.5 304.9 78.0 309.3 75.5 312.2 72.5 314.5 70.0 315.5 67.0 316.1 64.5 316.0 62.0 315.3 59.0 313.8 56.5 311.9 54.0 309.4 45.5 298.4 43.5 296.6 41.5 295.4M335.5 294.8 333.5 296.0 331.8 297.5 329.5 300.2 323.5 308.6 320.5 311.7 318.0 313.6 315.5 314.8 312.5 315.7 310.0 315.8 307.5 315.3 304.5 314.0 302.0 312.0 299.4 309.0 296.5 303.5 294.0 293.5 292.3 280.5M82.6 280.5 81.6 293.0 80.8 298.5 80.0 301.0 78.0 306.1 75.5 309.6 72.5 312.2 70.0 313.5 67.0 314.1 64.5 314.0 62.0 313.1 59.0 311.4 56.5 309.2 54.0 306.2 49.5 298.7 46.5 294.4 44.0 292.1 41.5 290.9M335.5 290.2 332.5 291.7 330.0 294.3 323.5 305.1 320.5 309.0 318.0 311.3 315.5 312.6 312.5 313.7 310.0 313.9 307.5 313.2 304.5 311.7 302.0 309.4 299.5 305.8 297.7 301.0 296.4 296.0 295.8 289.5 295.4 280.5M79.6 280.5 79.6 292.5 79.0 297.0 78.0 301.6 75.5 306.7 72.9 309.5 70.0 311.5 67.5 312.0 64.5 311.9 62.0 311.0 59.0 308.9 56.5 306.3 54.0 302.1 50.0 293.6 47.5 289.5 44.6 287.0 41.5 286.2M335.5 285.3 332.4 286.0 331.0 287.0 329.5 288.5 327.0 292.7 323.4 301.0 320.5 306.0 318.0 308.8 315.5 310.4 312.5 311.6 310.0 311.8 307.5 311.1 304.5 309.3 301.9 306.5 299.4 301.0 298.5 296.5 298.1 292.0 298.4 280.5M76.4 280.5 77.4 288.0 77.5 293.0 77.1 297.0 76.0 301.5 75.0 304.0 72.5 307.3 70.0 309.2 67.0 309.9 64.5 309.7 63.0 308.9 62.0 308.8 59.0 306.1 56.1 301.5 53.8 296.0 51.0 287.2 50.0 285.0 48.5 283.0 47.0 281.7 45.5 281.1 43.5 280.8 41.5 281.1M329.5 280.5 327.9 282.0 326.4 284.5 321.0 301.0 318.0 306.1 317.0 306.5 315.0 308.3 313.0 309.2 310.0 309.5 308.5 308.9 307.5 308.9 304.5 306.7 302.2 303.0 301.4 301.0 300.5 296.5 300.3 292.0 300.6 286.5 301.6 280.5M72.8 280.5 74.2 285.5 75.2 290.5 75.3 295.5 75.0 298.5 72.5 304.3 70.0 306.7 67.0 307.5 64.5 307.3 63.0 306.3 62.0 306.2 59.5 303.3 58.6 301.5 56.4 296.0 54.4 280.5M321.3 280.5 320.7 293.5 320.2 296.0 318.2 301.5 315.0 305.5 312.5 306.9 311.5 306.7 310.0 307.1 308.5 306.3 307.5 306.4 304.6 303.5 302.7 297.5 302.4 293.5 302.8 290.0 303.9 285.0 305.5 280.5M64.7 280.5 66.0 280.9 67.5 281.7 70.0 284.7 72.5 290.5 72.9 293.0 72.9 296.0 72.5 299.1 70.0 303.7 69.0 303.7 67.0 304.7 66.0 304.3 64.5 304.4 62.0 302.4 59.9 298.0 59.1 295.5 59.0 290.5 59.9 285.5 61.6 282.0 63.0 280.9 64.3 280.5M310.0 304.3 308.5 303.0 307.5 302.8 306.7 301.5 305.3 298.0 304.8 296.0 305.0 293.5 306.2 289.0 307.5 286.2 310.0 283.5 312.5 282.7 314.5 283.7 315.9 285.5 317.2 289.5 317.6 293.5 317.2 296.0 315.5 301.3 314.0 302.3 312.5 304.0 311.5 303.6 310.0 304.3M67.0 300.7 66.0 299.6 64.5 299.6 63.6 297.0 63.4 293.5 64.5 290.2 66.0 290.4 67.0 290.1 67.5 290.5 69.8 296.0 67.0 300.7M310.0 299.1 309.6 298.5 309.3 296.0 309.7 293.0 310.0 292.6 311.5 293.8 312.5 292.8 313.0 295.5 312.6 298.5 312.3 298.5 312.2 297.5 311.5 297.1 310.0 299.1"/><path class="bf" d="M159.4 370.4C160.4 367.8 160.6 365.3 162.5 362.7C164.4 360.1 167.0 357.2 170.8 355.0C174.6 352.8 180.2 350.9 185.4 349.2C190.6 347.5 196.8 346.0 202.0 344.6C207.2 343.2 212.4 341.7 216.6 340.9C220.8 340.1 223.2 339.6 227.0 339.8C230.8 340.0 235.7 340.3 239.5 341.9C243.3 343.5 247.6 346.2 249.9 349.2C252.2 352.1 252.8 356.1 253.6 359.6C254.3 363.1 254.1 366.8 254.4 370.4Z"/><path class="bi" d="M202.6 352.9C202.8 351.1 206.7 348.2 210.2 346.7C213.7 345.2 219.3 344.3 223.5 344.0C227.7 343.7 231.8 343.6 235.1 344.9C238.4 346.2 242.8 349.5 243.6 351.6C244.3 353.7 242.8 356.1 239.6 357.4C236.4 358.7 229.4 359.4 224.4 359.4C219.4 359.4 212.9 358.5 209.3 357.4C205.7 356.3 202.4 354.7 202.6 352.9Z"/><path class="bl" d="M159.4 370.4C160.4 367.8 160.6 365.3 162.5 362.7C164.4 360.1 167.0 357.2 170.8 355.0C174.6 352.8 180.2 350.9 185.4 349.2C190.6 347.5 196.8 346.0 202.0 344.6C207.2 343.2 212.4 341.7 216.6 340.9C220.8 340.1 223.2 339.6 227.0 339.8C230.8 340.0 235.7 340.3 239.5 341.9C243.3 343.5 247.6 346.2 249.9 349.2C252.2 352.1 252.8 356.1 253.6 359.6C254.3 363.1 254.1 366.8 254.4 370.4"/><path class="c" d="M187.9 346.4 188.9 346.1 190.0 345.8 191.1 345.5 192.1 345.2 193.2 344.9 194.3 344.6 195.4 344.4 196.4 344.1 197.5 343.8 198.5 343.6 199.5 343.3 200.5 343.0 201.5 342.8 202.5 342.5 203.5 342.2 204.4 342.0 205.4 341.7 206.4 341.5 207.3 341.2 208.3 340.9 209.2 340.7 210.1 340.5 211.1 340.2 212.0 340.0 212.9 339.8 213.7 339.6 214.6 339.4 215.4 339.2 216.2 339.0 217.0 338.9 217.7 338.7 218.4 338.6 219.1 338.5 219.8 338.4 220.4 338.3 221.1 338.2 221.7 338.1 222.3 338.0 223.0 338.0 223.6 337.9 224.3 337.9 224.9 337.9 225.6 337.9 226.3 337.9 227.1 337.9 227.8 337.9 228.6 338.0 229.4 338.0 230.2 338.1 231.0 338.2 231.8 338.2 232.7 338.3 233.5 338.4 234.4 338.6 235.2 338.7 236.1 338.9 236.9 339.1 237.8 339.3 238.6 339.6 239.4 339.8 240.2 340.1 241.0 340.5 241.8 340.8 242.5 341.2 243.3 341.6 244.1 342.0 244.8 342.5 245.6 343.0 246.3 343.5 247.0 344.0 247.8 344.5 248.4 345.1 249.1 345.6 249.7 346.2 250.3 346.8"/><rect x="225.9" y="348.8" width="2.0" height="3.0" rx="0.6" fill="#000"/><path class="w" d="M48.5 339.9 48.5 329.3 65.8 329.6 67.6 328.8 74.3 322.5 77.4 315.8 84.6 303.4 87.2 300.2 290.0 300.2 292.6 303.4 299.8 315.8 302.9 322.5 309.6 328.8 311.4 329.6 328.7 329.3 328.7 339.9"/><rect class="bs" x="58.5" y="327.8" width="5.4" height="5.4"/><rect class="bs" x="85.6" y="299.1" width="5.4" height="5.4"/><rect class="bs" x="103.0" y="299.1" width="5.4" height="5.4"/><rect class="bs" x="114.5" y="299.1" width="5.4" height="5.4"/><rect class="bs" x="128.3" y="299.1" width="5.4" height="5.4"/><rect class="bs" x="139.9" y="299.1" width="5.4" height="5.4"/><rect class="bs" x="151.5" y="299.1" width="5.4" height="5.4"/><rect class="bs" x="163.0" y="299.1" width="5.4" height="5.4"/><rect class="bs" x="174.6" y="299.1" width="5.4" height="5.4"/><rect class="bs" x="185.9" y="299.1" width="5.4" height="5.4"/><rect class="bs" x="197.2" y="299.1" width="5.4" height="5.4"/><rect class="bs" x="208.8" y="299.1" width="5.4" height="5.4"/><rect class="bs" x="220.3" y="299.1" width="5.4" height="5.4"/><rect class="bs" x="231.9" y="299.1" width="5.4" height="5.4"/><rect class="bs" x="243.5" y="299.1" width="5.4" height="5.4"/><rect class="bs" x="257.3" y="299.1" width="5.4" height="5.4"/><rect class="bs" x="268.8" y="299.1" width="5.4" height="5.4"/><rect class="bs" x="286.2" y="299.1" width="5.4" height="5.4"/><rect class="bs" x="313.3" y="327.8" width="5.4" height="5.4"/><rect class="rs" x="102.9" y="280.6" width="5.8" height="6.8"/><rect class="rs" x="128.1" y="280.6" width="5.8" height="6.8"/><rect class="rs" x="144.3" y="280.6" width="5.8" height="6.8"/><rect class="rs" x="171.9" y="280.6" width="5.8" height="6.8"/><rect class="rs" x="199.5" y="280.6" width="5.8" height="6.8"/><rect class="rs" x="227.1" y="280.6" width="5.8" height="6.8"/><rect class="rs" x="243.3" y="280.6" width="5.8" height="6.8"/><rect class="rs" x="268.5" y="280.6" width="5.8" height="6.8"/></g>
<rect class="fr" x="41.5" y="280.5" width="294.1" height="89.8"/><path class="t" d="M41.5 370.4h2.2M335.6 370.4h-2.2M41.5 350.4h2.2M335.6 350.4h-2.2M41.5 330.4h2.2M335.6 330.4h-2.2M41.5 310.4h2.2M335.6 310.4h-2.2M41.5 290.4h2.2M335.6 290.4h-2.2M45.8 370.4v-2.2M45.8 280.5v2.2M93.4 370.4v-2.2M93.4 280.5v2.2M141.0 370.4v-2.2M141.0 280.5v2.2M188.6 370.4v-2.2M188.6 280.5v2.2M236.2 370.4v-2.2M236.2 280.5v2.2M283.8 370.4v-2.2M283.8 280.5v2.2M331.4 370.4v-2.2M331.4 280.5v2.2"/><rect class="fr2" x="339.9" y="280.5" width="294.1" height="89.8"/><path class="t" d="M339.9 366.8h2.2M634.0 366.8h-2.2M339.9 342.1h2.2M634.0 342.1h-2.2M339.9 317.4h2.2M634.0 317.4h-2.2M339.9 292.8h2.2M634.0 292.8h-2.2M344.2 370.4v-2.2M344.2 280.5v2.2M391.8 370.4v-2.2M391.8 280.5v2.2M439.3 370.4v-2.2M439.3 280.5v2.2M486.9 370.4v-2.2M486.9 280.5v2.2M534.4 370.4v-2.2M534.4 280.5v2.2M582.0 370.4v-2.2M582.0 280.5v2.2M629.5 370.4v-2.2M629.5 280.5v2.2"/><g transform="translate(359.6 364.7)"><circle r="3.65" fill="#3444d8"/><circle r="2.25" fill="#161660"/><rect x="-1.2" y="-0.6" width="2.4" height="1.9" fill="#000"/><path d="M-1.7 -1.1h3.4" stroke="#8e9af0" stroke-width="0.6"/></g><g transform="translate(386.8 364.2)"><circle r="3.65" fill="#3444d8"/><circle r="2.25" fill="#161660"/><rect x="-1.2" y="-0.6" width="2.4" height="1.9" fill="#000"/><path d="M-1.7 -1.1h3.4" stroke="#8e9af0" stroke-width="0.6"/></g><g transform="translate(404.2 354.9)"><circle r="3.65" fill="#3444d8"/><circle r="2.25" fill="#161660"/><rect x="-1.2" y="-0.6" width="2.4" height="1.9" fill="#000"/><path d="M-1.7 -1.1h3.4" stroke="#8e9af0" stroke-width="0.6"/></g><g transform="translate(415.8 346.9)"><circle r="3.65" fill="#3444d8"/><circle r="2.25" fill="#161660"/><rect x="-1.2" y="-0.6" width="2.4" height="1.9" fill="#000"/><path d="M-1.7 -1.1h3.4" stroke="#8e9af0" stroke-width="0.6"/></g><g transform="translate(429.6 341.5)"><circle r="3.65" fill="#3444d8"/><circle r="2.25" fill="#161660"/><rect x="-1.2" y="-0.6" width="2.4" height="1.9" fill="#000"/><path d="M-1.7 -1.1h3.4" stroke="#8e9af0" stroke-width="0.6"/></g><g transform="translate(441.2 335.3)"><circle r="3.65" fill="#3444d8"/><circle r="2.25" fill="#161660"/><rect x="-1.2" y="-0.6" width="2.4" height="1.9" fill="#000"/><path d="M-1.7 -1.1h3.4" stroke="#8e9af0" stroke-width="0.6"/></g><g transform="translate(452.8 325.0)"><circle r="3.65" fill="#3444d8"/><circle r="2.25" fill="#161660"/><rect x="-1.2" y="-0.6" width="2.4" height="1.9" fill="#000"/><path d="M-1.7 -1.1h3.4" stroke="#8e9af0" stroke-width="0.6"/></g><g transform="translate(463.9 318.3)"><circle r="3.65" fill="#3444d8"/><circle r="2.25" fill="#161660"/><rect x="-1.2" y="-0.6" width="2.4" height="1.9" fill="#000"/><path d="M-1.7 -1.1h3.4" stroke="#8e9af0" stroke-width="0.6"/></g><g transform="translate(475.5 317.9)"><circle r="3.65" fill="#3444d8"/><circle r="2.25" fill="#161660"/><rect x="-1.2" y="-0.6" width="2.4" height="1.9" fill="#000"/><path d="M-1.7 -1.1h3.4" stroke="#8e9af0" stroke-width="0.6"/></g><g transform="translate(487.0 312.1)"><circle r="3.65" fill="#3444d8"/><circle r="2.25" fill="#161660"/><rect x="-1.2" y="-0.6" width="2.4" height="1.9" fill="#000"/><path d="M-1.7 -1.1h3.4" stroke="#8e9af0" stroke-width="0.6"/></g><g transform="translate(498.8 309.0)"><circle r="3.65" fill="#3444d8"/><circle r="2.25" fill="#161660"/><rect x="-1.2" y="-0.6" width="2.4" height="1.9" fill="#000"/><path d="M-1.7 -1.1h3.4" stroke="#8e9af0" stroke-width="0.6"/></g><g transform="translate(510.0 299.6)"><circle r="3.65" fill="#3444d8"/><circle r="2.25" fill="#161660"/><rect x="-1.2" y="-0.6" width="2.4" height="1.9" fill="#000"/><path d="M-1.7 -1.1h3.4" stroke="#8e9af0" stroke-width="0.6"/></g><g transform="translate(521.5 302.7)"><circle r="3.65" fill="#3444d8"/><circle r="2.25" fill="#161660"/><rect x="-1.2" y="-0.6" width="2.4" height="1.9" fill="#000"/><path d="M-1.7 -1.1h3.4" stroke="#8e9af0" stroke-width="0.6"/></g><g transform="translate(532.7 299.6)"><circle r="3.65" fill="#3444d8"/><circle r="2.25" fill="#161660"/><rect x="-1.2" y="-0.6" width="2.4" height="1.9" fill="#000"/><path d="M-1.7 -1.1h3.4" stroke="#8e9af0" stroke-width="0.6"/></g><g transform="translate(544.3 302.3)"><circle r="3.65" fill="#3444d8"/><circle r="2.25" fill="#161660"/><rect x="-1.2" y="-0.6" width="2.4" height="1.9" fill="#000"/><path d="M-1.7 -1.1h3.4" stroke="#8e9af0" stroke-width="0.6"/></g><g transform="translate(558.1 313.4)"><circle r="3.65" fill="#3444d8"/><circle r="2.25" fill="#161660"/><rect x="-1.2" y="-0.6" width="2.4" height="1.9" fill="#000"/><path d="M-1.7 -1.1h3.4" stroke="#8e9af0" stroke-width="0.6"/></g><g transform="translate(569.7 339.3)"><circle r="3.65" fill="#3444d8"/><circle r="2.25" fill="#161660"/><rect x="-1.2" y="-0.6" width="2.4" height="1.9" fill="#000"/><path d="M-1.7 -1.1h3.4" stroke="#8e9af0" stroke-width="0.6"/></g><g transform="translate(586.6 363.4)"><circle r="3.65" fill="#3444d8"/><circle r="2.25" fill="#161660"/><rect x="-1.2" y="-0.6" width="2.4" height="1.9" fill="#000"/><path d="M-1.7 -1.1h3.4" stroke="#8e9af0" stroke-width="0.6"/></g><g transform="translate(613.8 366.0)"><circle r="3.65" fill="#3444d8"/><circle r="2.25" fill="#161660"/><rect x="-1.2" y="-0.6" width="2.4" height="1.9" fill="#000"/><path d="M-1.7 -1.1h3.4" stroke="#8e9af0" stroke-width="0.6"/></g><g transform="translate(404.2 364.2)"><circle r="3.3" fill="#fbeeee" stroke="#d43a28" stroke-width="1.4"/><rect x="-1.8" y="-1.8" width="3.6" height="3.6" rx="0.4" fill="#111"/></g><g transform="translate(429.6 366.0)"><circle r="3.3" fill="#fbeeee" stroke="#d43a28" stroke-width="1.4"/><rect x="-1.8" y="-1.8" width="3.6" height="3.6" rx="0.4" fill="#111"/></g><g transform="translate(445.6 365.1)"><circle r="3.3" fill="#fbeeee" stroke="#d43a28" stroke-width="1.4"/><rect x="-1.8" y="-1.8" width="3.6" height="3.6" rx="0.4" fill="#111"/></g><g transform="translate(473.3 364.2)"><circle r="3.3" fill="#fbeeee" stroke="#d43a28" stroke-width="1.4"/><rect x="-1.8" y="-1.8" width="3.6" height="3.6" rx="0.4" fill="#111"/></g><g transform="translate(501.0 366.0)"><circle r="3.3" fill="#fbeeee" stroke="#d43a28" stroke-width="1.4"/><rect x="-1.8" y="-1.8" width="3.6" height="3.6" rx="0.4" fill="#111"/></g><g transform="translate(528.7 366.0)"><circle r="3.3" fill="#fbeeee" stroke="#d43a28" stroke-width="1.4"/><rect x="-1.8" y="-1.8" width="3.6" height="3.6" rx="0.4" fill="#111"/></g><g transform="translate(543.8 365.6)"><circle r="3.3" fill="#fbeeee" stroke="#d43a28" stroke-width="1.4"/><rect x="-1.8" y="-1.8" width="3.6" height="3.6" rx="0.4" fill="#111"/></g><g transform="translate(569.7 364.7)"><circle r="3.3" fill="#fbeeee" stroke="#d43a28" stroke-width="1.4"/><rect x="-1.8" y="-1.8" width="3.6" height="3.6" rx="0.4" fill="#111"/></g><text x="36.8" y="374.5" class="ra">0</text><text x="36.8" y="354.5" class="ra">0.2</text><text x="36.8" y="334.5" class="ra">0.4</text><text x="36.8" y="314.5" class="ra">0.6</text><text x="36.8" y="294.5" class="ra">0.8</text><text x="638.6" y="370.9">0</text><text x="638.6" y="346.2">10</text><text x="638.6" y="321.5">20</text><text x="638.6" y="296.9">30</text><text class="ax" transform="translate(10.3 325.0) rotate(-90)"><tspan font-style="italic">R</tspan> (m)</text><text class="ax" transform="translate(670.5 326.0) rotate(-90)"><tspan font-style="italic">B</tspan> (mT)</text><text x="354.6" y="305.1" class="tl">90 µs</text>
<g clip-path="url(#cl4)"><path class="c" d="M335.5 453.8 320.0 455.0 309.0 455.1 298.0 454.4 286.5 452.7 270.0 449.0 254.0 444.5 246.5 441.7 229.3 433.9 222.0 431.1 215.5 429.9 204.5 429.3 196.0 429.6 187.0 430.4 177.5 431.8 166.0 433.9 156.0 436.2 135.5 442.2 122.0 445.7 98.5 451.1 85.5 453.6 76.0 454.7 66.0 455.2 56.0 454.9 41.5 453.8M335.5 441.9 323.5 444.0 315.5 444.9 308.0 444.8 300.5 443.8 294.5 442.3 288.5 440.1 259.5 426.4 250.5 423.0 240.5 419.9 229.5 417.2 217.5 415.3 209.0 414.6 196.5 414.3 183.5 414.8 164.7 416.9 152.5 419.0 132.0 423.5 124.0 425.6 117.0 427.9 108.5 431.3 88.5 440.3 82.0 442.5 75.5 444.1 68.5 444.9 61.0 444.8 53.5 444.0 41.5 441.8M335.5 434.3 324.0 437.3 316.5 438.5 309.5 438.7 302.5 437.7 297.0 436.1 291.0 433.4 285.5 430.2 272.0 421.3 265.5 417.5 258.0 413.7 250.3 410.9 239.0 407.9 217.5 403.5 210.5 402.8 190.5 402.0 183.0 402.4 161.0 404.8 134.0 410.8 125.0 413.2 117.6 415.9 110.5 419.2 104.0 422.8 91.1 430.9 85.5 433.9 80.0 436.2 74.5 437.8 67.5 438.7 60.5 438.5 53.0 437.3 41.5 434.3M335.5 428.3 324.0 432.0 317.0 433.5 310.0 433.9 303.5 432.9 298.0 431.1 292.0 427.9 286.9 424.4 275.0 414.7 269.0 410.3 261.5 405.7 254.5 402.6 248.0 400.6 230.5 396.6 217.0 393.1 212.0 392.5 201.5 392.4 189.5 391.2 185.0 391.5 175.5 393.0 165.5 393.4 161.0 394.0 146.5 398.1 128.0 402.5 122.0 404.4 115.0 407.4 108.0 411.5 101.5 416.0 90.0 424.9 85.0 428.2 79.5 431.0 74.0 432.9 67.0 433.9 60.0 433.6 53.0 432.0 41.5 428.3M335.5 423.0 324.0 427.5 317.0 429.4 310.0 429.9 303.5 428.7 298.0 426.5 292.5 423.1 288.0 419.4 277.0 408.7 271.5 404.0 263.5 398.3 257.0 394.9 251.5 393.1 229.5 388.2 220.0 384.3 216.5 383.2 212.0 382.9 205.0 384.0 202.0 384.1 199.0 383.5 192.5 381.4 189.0 380.9 185.0 381.4 178.0 383.8 175.0 384.4 172.0 384.4 165.5 383.7 161.0 384.1 157.5 385.2 147.5 389.3 125.5 394.6 120.0 396.4 113.0 400.0 105.5 405.2 100.0 409.7 89.0 419.9 84.0 423.8 79.0 426.7 73.5 428.9 67.0 429.9 60.0 429.4 53.0 427.5 41.5 423.0M161.5 373.9 157.5 375.5 151.0 380.3 148.0 381.8 139.5 383.5 131.5 385.8 123.0 387.2 120.0 388.2 116.5 389.9 109.0 395.0 102.5 400.3 98.0 404.7 88.8 414.9 84.5 418.9 79.5 422.5 74.5 424.9 71.0 425.9 67.5 426.4 64.0 426.4 60.5 425.9 53.5 423.8 41.5 418.2M180.9 373.9 177.2 376.9 174.5 377.7 172.5 377.3 167.5 374.6 165.4 373.9M210.0 373.9 205.0 376.8 202.5 377.4 200.0 376.6 196.5 373.9M335.5 418.2 323.5 423.8 316.5 425.9 313.0 426.4 309.5 426.3 306.0 425.8 302.5 424.7 297.5 422.2 292.5 418.5 288.3 414.4 279.5 404.3 275.0 399.6 268.5 394.1 261.0 388.8 257.5 387.0 254.5 386.0 246.0 384.8 237.5 382.4 229.5 381.1 226.5 379.6 221.0 375.5 218.2 373.9M150.4 373.9 148.5 375.7 147.0 376.3 145.5 376.3 141.5 375.7 140.0 375.8 138.0 376.4 133.5 378.7 131.5 379.4 129.5 379.6 123.0 379.3 120.5 379.9 117.5 381.3 105.9 390.4 101.0 394.7 96.5 399.8 88.5 410.3 83.5 415.7 78.5 419.6 73.5 422.0 70.5 422.9 67.0 423.3 63.5 423.2 60.0 422.6 53.5 420.2 41.5 413.8M335.5 413.8 323.5 420.2 317.0 422.6 313.5 423.2 310.0 423.3 306.5 422.8 303.5 421.9 298.5 419.3 293.6 415.4 289.0 410.3 281.0 399.4 276.5 394.1 272.0 389.9 260.0 380.2 257.0 378.7 254.5 378.1 252.0 378.1 247.5 378.7 245.5 378.5 243.5 377.8 239.5 375.5 237.0 374.7 235.0 374.8 231.5 375.7 230.0 375.7 228.5 374.9 227.4 373.9M116.2 373.9 109.0 381.2 102.0 386.9 98.5 390.5 95.0 395.2 87.9 406.4 83.1 412.4 79.0 416.0 75.0 418.5 71.5 419.8 68.0 420.5 64.5 420.5 60.5 419.8 57.0 418.6 54.0 417.2 41.5 409.5M335.5 409.5 323.5 417.0 320.0 418.6 316.5 419.8 312.5 420.5 309.0 420.4 305.5 419.7 302.0 418.2 298.0 415.7 294.0 412.0 289.6 406.4 282.5 394.8 278.6 389.4 275.5 386.2 268.4 380.4 262.4 373.9M109.8 373.9 107.0 377.2 101.0 381.0 98.0 383.9 94.5 389.0 87.9 401.4 83.7 407.9 81.0 411.1 78.5 413.3 73.5 416.4 70.0 417.6 67.0 418.0 63.5 417.8 59.5 416.8 53.6 413.9 41.5 405.4M335.5 405.3 323.5 413.9 320.5 415.6 317.5 416.8 313.5 417.8 310.0 417.9 307.0 417.5 303.5 416.2 298.5 413.0 293.7 407.9 289.3 400.9 282.5 387.7 279.0 382.6 276.0 379.8 270.5 376.7 268.1 373.9M101.7 373.9 100.0 374.5 98.5 375.7 95.0 380.3 92.0 386.1 86.1 399.9 83.0 405.2 80.5 408.4 78.0 410.9 75.4 412.9 72.5 414.4 70.0 415.3 66.0 415.7 62.0 415.2 59.0 414.1 53.5 410.9 44.5 403.3 41.5 401.3M335.5 401.2 332.5 403.3 323.5 410.9 318.0 414.1 315.0 415.1 311.0 415.6 307.5 415.2 304.5 414.2 302.0 412.9 299.0 410.6 296.5 408.0 294.0 404.6 291.1 399.4 283.5 381.4 280.8 376.9 278.1 373.9M93.3 373.9 90.5 380.9 86.0 394.6 83.0 401.3 80.8 404.9 78.0 408.2 75.4 410.4 72.5 412.1 69.5 413.1 65.0 413.4 62.0 412.9 59.0 411.7 54.0 408.4 45.0 399.7 41.5 397.1M335.5 397.0 332.5 399.2 323.5 408.0 320.5 410.3 318.0 411.7 315.0 412.8 310.5 413.4 307.5 413.0 304.5 411.9 302.0 410.4 299.0 407.8 296.5 404.7 294.0 400.5 291.4 394.4 287.0 380.4 284.6 373.9M89.0 373.9 85.4 388.9 83.0 396.9 80.5 402.0 78.0 405.4 75.5 407.9 72.5 410.0 70.0 410.9 67.0 411.3 64.0 411.1 62.0 410.7 59.5 409.6 56.5 407.7 54.0 405.5 45.0 395.5 41.5 392.9M335.5 392.8 332.0 395.5 323.5 405.1 320.5 407.7 318.0 409.3 315.5 410.5 312.0 411.2 310.0 411.2 307.5 410.8 305.0 409.9 302.0 408.0 299.4 405.4 296.9 401.9 295.2 398.4 293.7 394.9 292.3 389.9 288.7 373.9M85.6 373.9 83.2 389.4 80.8 397.4 78.1 402.4 75.5 405.4 72.5 407.7 70.0 408.8 67.0 409.3 64.5 409.2 62.0 408.5 59.0 407.0 56.5 405.1 54.0 402.6 45.5 391.5 43.5 389.7 41.5 388.6M335.5 388.4 333.5 389.5 332.0 390.9 330.0 393.1 323.5 402.1 320.5 405.2 318.0 407.1 315.5 408.3 312.5 409.1 310.0 409.2 307.5 408.7 304.5 407.5 301.9 405.4 299.3 402.4 296.5 397.1 294.2 388.9 292.1 373.9M82.4 373.9 81.3 387.9 80.7 391.9 79.3 395.9 77.9 399.4 75.5 402.8 72.5 405.5 70.0 406.7 67.0 407.3 64.5 407.3 62.0 406.4 59.0 404.6 56.5 402.4 54.0 399.4 49.5 391.8 46.5 387.4 44.0 385.2 41.5 384.0M335.5 383.8 332.5 385.3 330.0 387.9 323.5 398.6 320.5 402.5 318.0 404.8 315.5 406.1 312.5 407.1 310.0 407.4 307.5 406.7 304.5 405.2 302.0 402.9 299.5 399.4 297.4 393.9 296.3 389.4 295.6 382.9 295.2 373.9M79.4 373.9 79.4 385.9 78.9 390.4 78.0 394.7 75.5 399.9 72.8 402.9 70.0 404.7 67.5 405.2 64.5 405.2 62.0 404.2 59.0 402.1 56.5 399.5 54.0 395.3 50.0 386.6 47.5 382.5 44.5 380.0 41.5 379.3M335.5 378.9 332.5 379.6 331.0 380.7 329.5 382.2 327.3 385.9 323.3 394.9 320.5 399.5 318.0 402.3 315.5 403.9 312.5 405.1 310.0 405.2 307.5 404.6 304.5 402.8 301.8 399.9 299.3 394.4 298.4 389.9 298.0 385.4 298.2 373.9M76.2 373.9 77.2 381.4 77.4 386.4 76.9 390.9 75.9 394.9 75.0 397.2 72.5 400.5 70.0 402.4 67.0 403.1 64.5 402.9 63.0 402.1 62.0 402.0 59.1 399.4 56.2 394.9 53.9 389.4 51.9 382.4 50.0 377.9 47.5 375.0 44.6 373.9M330.3 373.9 328.4 375.4 326.5 378.2 325.0 382.1 323.0 389.3 321.1 394.4 318.0 399.5 315.0 401.8 312.5 402.8 310.0 403.0 308.5 402.4 307.5 402.4 304.5 400.1 302.5 397.2 302.0 396.9 300.6 391.4 300.1 386.4 300.4 380.9 301.4 373.9M72.5 373.9 73.9 378.4 75.0 383.9 75.2 388.9 74.9 391.4 72.5 397.5 71.5 398.2 70.0 399.9 67.0 400.7 64.5 400.5 63.0 399.5 62.0 399.4 59.5 396.3 58.7 394.9 56.5 389.2 54.8 373.9M321.7 373.9 321.2 383.9 320.5 389.1 318.3 394.9 315.0 399.0 312.5 400.3 310.0 400.6 308.5 399.9 307.5 399.8 304.5 397.0 302.2 389.4 302.2 386.4 302.9 381.9 304.0 377.4 305.2 373.9M67.0 397.9 66.0 397.5 64.5 397.6 63.5 396.5 62.0 395.5 60.3 391.9 59.3 388.9 59.1 383.9 59.5 381.4 60.3 378.9 62.0 375.7 63.5 374.7 64.5 374.5 66.0 374.8 67.5 375.6 70.0 378.5 72.3 383.9 72.7 386.4 72.7 391.9 71.5 393.7 70.0 396.9 69.0 396.8 67.0 397.9M312.5 397.5 311.5 397.2 310.0 397.7 308.5 396.6 307.5 396.5 305.1 391.9 304.6 389.4 304.7 386.9 305.3 384.4 307.5 379.0 310.0 376.2 312.5 375.6 315.0 376.8 316.0 378.3 317.3 381.9 317.9 386.4 317.5 389.4 315.7 394.4 312.5 397.5M67.5 393.0 67.0 393.3 66.0 392.4 64.5 392.6 64.1 391.9 63.6 387.9 64.5 383.8 65.5 384.4 66.5 384.3 67.0 383.9 68.3 386.4 68.8 389.4 67.5 393.0M310.0 392.7 309.5 391.9 309.0 389.4 309.5 386.4 310.0 385.4 311.5 385.8 312.5 385.6 313.0 386.4 313.3 388.9 312.8 391.9 312.5 392.3 311.5 391.4 310.0 392.7"/><path class="bf" d="M139.1 463.7C140.0 460.7 140.1 457.4 141.8 454.7C143.5 452.0 145.8 449.6 149.1 447.4C152.4 445.1 156.8 442.9 161.6 441.2C166.4 439.5 172.6 438.1 178.2 437.0C183.8 435.9 190.0 434.9 194.9 434.3C199.8 433.7 203.2 433.4 207.4 433.5C211.6 433.6 215.8 433.4 219.9 434.9C224.1 436.3 229.2 439.2 232.3 442.2C235.4 445.1 237.3 449.0 238.6 452.6C239.9 456.2 239.7 460.0 240.2 463.7Z"/><path class="bi" d="M168.9 445.8C168.9 444.0 172.6 441.7 176.7 440.3C180.8 438.9 187.8 438.0 193.4 437.5C199.0 437.0 205.0 436.3 210.2 437.5C215.4 438.7 223.2 442.5 224.7 444.7C226.2 446.9 223.8 449.6 219.1 450.9C214.4 452.2 203.9 452.5 196.8 452.5C189.7 452.5 181.3 452.0 176.7 450.9C172.0 449.8 168.9 447.6 168.9 445.8Z"/><path class="bl" d="M139.1 463.7C140.0 460.7 140.1 457.4 141.8 454.7C143.5 452.0 145.8 449.6 149.1 447.4C152.4 445.1 156.8 442.9 161.6 441.2C166.4 439.5 172.6 438.1 178.2 437.0C183.8 435.9 190.0 434.9 194.9 434.3C199.8 433.7 203.2 433.4 207.4 433.5C211.6 433.6 215.8 433.4 219.9 434.9C224.1 436.3 229.2 439.2 232.3 442.2C235.4 445.1 237.3 449.0 238.6 452.6C239.9 456.2 239.7 460.0 240.2 463.7"/><path class="c" d="M159.1 440.1 160.0 439.8 161.0 439.4 161.9 439.1 162.9 438.8 163.9 438.4 164.9 438.1 166.0 437.9 167.0 437.6 168.1 437.3 169.2 437.0 170.3 436.8 171.4 436.5 172.5 436.3 173.5 436.0 174.6 435.8 175.7 435.6 176.8 435.4 177.8 435.1 178.9 434.9 180.0 434.7 181.0 434.5 182.1 434.3 183.2 434.1 184.3 433.9 185.4 433.7 186.5 433.6 187.6 433.4 188.7 433.2 189.7 433.1 190.8 432.9 191.8 432.8 192.8 432.7 193.7 432.5 194.7 432.4 195.6 432.3 196.5 432.2 197.3 432.1 198.1 432.0 198.9 431.9 199.7 431.9 200.5 431.8 201.3 431.7 202.0 431.7 202.8 431.7 203.6 431.6 204.3 431.6 205.1 431.6 205.9 431.6 206.6 431.6 207.4 431.6 208.2 431.6 209.0 431.6 209.8 431.6 210.6 431.7 211.4 431.7 212.2 431.7 213.0 431.7 213.8 431.8 214.6 431.9 215.5 432.0 216.3 432.1 217.1 432.2 218.0 432.4 218.8 432.6 219.7 432.8 220.5 433.1 221.4 433.4 222.2 433.8 223.1 434.1 224.0 434.5 224.8 434.9 225.7 435.4 226.6 435.9 227.4 436.3 228.3 436.9 229.1 437.4 229.9 437.9 230.7 438.5 231.5 439.0 232.2 439.6 232.9 440.2"/><rect x="202.1" y="442.2" width="2.8" height="2.8" rx="0.6" fill="#000"/><path class="w" d="M48.5 433.2 48.5 422.6 65.8 422.9 67.6 422.1 74.3 415.8 77.4 409.1 84.6 396.7 87.2 393.5 290.0 393.5 292.6 396.7 299.8 409.1 302.9 415.8 309.6 422.1 311.4 422.9 328.7 422.6 328.7 433.2"/><rect class="bs" x="58.5" y="421.1" width="5.4" height="5.4"/><rect class="bs" x="85.6" y="392.4" width="5.4" height="5.4"/><rect class="bs" x="103.0" y="392.4" width="5.4" height="5.4"/><rect class="bs" x="114.5" y="392.4" width="5.4" height="5.4"/><rect class="bs" x="128.3" y="392.4" width="5.4" height="5.4"/><rect class="bs" x="139.9" y="392.4" width="5.4" height="5.4"/><rect class="bs" x="151.5" y="392.4" width="5.4" height="5.4"/><rect class="bs" x="163.0" y="392.4" width="5.4" height="5.4"/><rect class="bs" x="174.6" y="392.4" width="5.4" height="5.4"/><rect class="bs" x="185.9" y="392.4" width="5.4" height="5.4"/><rect class="bs" x="197.2" y="392.4" width="5.4" height="5.4"/><rect class="bs" x="208.8" y="392.4" width="5.4" height="5.4"/><rect class="bs" x="220.3" y="392.4" width="5.4" height="5.4"/><rect class="bs" x="231.9" y="392.4" width="5.4" height="5.4"/><rect class="bs" x="243.5" y="392.4" width="5.4" height="5.4"/><rect class="bs" x="257.3" y="392.4" width="5.4" height="5.4"/><rect class="bs" x="268.8" y="392.4" width="5.4" height="5.4"/><rect class="bs" x="286.2" y="392.4" width="5.4" height="5.4"/><rect class="bs" x="313.3" y="421.1" width="5.4" height="5.4"/><rect class="rs" x="102.9" y="373.9" width="5.8" height="6.8"/><rect class="rs" x="128.1" y="373.9" width="5.8" height="6.8"/><rect class="rs" x="144.3" y="373.9" width="5.8" height="6.8"/><rect class="rs" x="171.9" y="373.9" width="5.8" height="6.8"/><rect class="rs" x="199.5" y="373.9" width="5.8" height="6.8"/><rect class="rs" x="227.1" y="373.9" width="5.8" height="6.8"/><rect class="rs" x="243.3" y="373.9" width="5.8" height="6.8"/><rect class="rs" x="268.5" y="373.9" width="5.8" height="6.8"/></g>
<rect class="fr" x="41.5" y="373.9" width="294.1" height="89.9"/><path class="t" d="M41.5 463.7h2.2M335.6 463.7h-2.2M41.5 443.7h2.2M335.6 443.7h-2.2M41.5 423.7h2.2M335.6 423.7h-2.2M41.5 403.7h2.2M335.6 403.7h-2.2M41.5 383.7h2.2M335.6 383.7h-2.2M45.8 463.7v-2.2M45.8 373.9v2.2M93.4 463.7v-2.2M93.4 373.9v2.2M141.0 463.7v-2.2M141.0 373.9v2.2M188.6 463.7v-2.2M188.6 373.9v2.2M236.2 463.7v-2.2M236.2 373.9v2.2M283.8 463.7v-2.2M283.8 373.9v2.2M331.4 463.7v-2.2M331.4 373.9v2.2"/><rect class="fr2" x="339.9" y="373.9" width="294.1" height="89.9"/><path class="t" d="M339.9 460.1h2.2M634.0 460.1h-2.2M339.9 435.4h2.2M634.0 435.4h-2.2M339.9 410.8h2.2M634.0 410.8h-2.2M339.9 386.1h2.2M634.0 386.1h-2.2M344.2 463.7v-2.2M344.2 373.9v2.2M391.8 463.7v-2.2M391.8 373.9v2.2M439.3 463.7v-2.2M439.3 373.9v2.2M486.9 463.7v-2.2M486.9 373.9v2.2M534.4 463.7v-2.2M534.4 373.9v2.2M582.0 463.7v-2.2M582.0 373.9v2.2M629.5 463.7v-2.2M629.5 373.9v2.2"/><g transform="translate(359.6 459.9)"><circle r="3.65" fill="#3444d8"/><circle r="2.25" fill="#161660"/><rect x="-1.2" y="-0.6" width="2.4" height="1.9" fill="#000"/><path d="M-1.7 -1.1h3.4" stroke="#8e9af0" stroke-width="0.6"/></g><g transform="translate(386.8 456.8)"><circle r="3.65" fill="#3444d8"/><circle r="2.25" fill="#161660"/><rect x="-1.2" y="-0.6" width="2.4" height="1.9" fill="#000"/><path d="M-1.7 -1.1h3.4" stroke="#8e9af0" stroke-width="0.6"/></g><g transform="translate(404.2 440.8)"><circle r="3.65" fill="#3444d8"/><circle r="2.25" fill="#161660"/><rect x="-1.2" y="-0.6" width="2.4" height="1.9" fill="#000"/><path d="M-1.7 -1.1h3.4" stroke="#8e9af0" stroke-width="0.6"/></g><g transform="translate(415.8 426.9)"><circle r="3.65" fill="#3444d8"/><circle r="2.25" fill="#161660"/><rect x="-1.2" y="-0.6" width="2.4" height="1.9" fill="#000"/><path d="M-1.7 -1.1h3.4" stroke="#8e9af0" stroke-width="0.6"/></g><g transform="translate(429.6 419.4)"><circle r="3.65" fill="#3444d8"/><circle r="2.25" fill="#161660"/><rect x="-1.2" y="-0.6" width="2.4" height="1.9" fill="#000"/><path d="M-1.7 -1.1h3.4" stroke="#8e9af0" stroke-width="0.6"/></g><g transform="translate(441.2 412.2)"><circle r="3.65" fill="#3444d8"/><circle r="2.25" fill="#161660"/><rect x="-1.2" y="-0.6" width="2.4" height="1.9" fill="#000"/><path d="M-1.7 -1.1h3.4" stroke="#8e9af0" stroke-width="0.6"/></g><g transform="translate(452.8 407.3)"><circle r="3.65" fill="#3444d8"/><circle r="2.25" fill="#161660"/><rect x="-1.2" y="-0.6" width="2.4" height="1.9" fill="#000"/><path d="M-1.7 -1.1h3.4" stroke="#8e9af0" stroke-width="0.6"/></g><g transform="translate(463.9 406.9)"><circle r="3.65" fill="#3444d8"/><circle r="2.25" fill="#161660"/><rect x="-1.2" y="-0.6" width="2.4" height="1.9" fill="#000"/><path d="M-1.7 -1.1h3.4" stroke="#8e9af0" stroke-width="0.6"/></g><g transform="translate(475.5 402.0)"><circle r="3.65" fill="#3444d8"/><circle r="2.25" fill="#161660"/><rect x="-1.2" y="-0.6" width="2.4" height="1.9" fill="#000"/><path d="M-1.7 -1.1h3.4" stroke="#8e9af0" stroke-width="0.6"/></g><g transform="translate(487.0 394.8)"><circle r="3.65" fill="#3444d8"/><circle r="2.25" fill="#161660"/><rect x="-1.2" y="-0.6" width="2.4" height="1.9" fill="#000"/><path d="M-1.7 -1.1h3.4" stroke="#8e9af0" stroke-width="0.6"/></g><g transform="translate(498.8 397.1)"><circle r="3.65" fill="#3444d8"/><circle r="2.25" fill="#161660"/><rect x="-1.2" y="-0.6" width="2.4" height="1.9" fill="#000"/><path d="M-1.7 -1.1h3.4" stroke="#8e9af0" stroke-width="0.6"/></g><g transform="translate(510.0 395.3)"><circle r="3.65" fill="#3444d8"/><circle r="2.25" fill="#161660"/><rect x="-1.2" y="-0.6" width="2.4" height="1.9" fill="#000"/><path d="M-1.7 -1.1h3.4" stroke="#8e9af0" stroke-width="0.6"/></g><g transform="translate(521.5 404.2)"><circle r="3.65" fill="#3444d8"/><circle r="2.25" fill="#161660"/><rect x="-1.2" y="-0.6" width="2.4" height="1.9" fill="#000"/><path d="M-1.7 -1.1h3.4" stroke="#8e9af0" stroke-width="0.6"/></g><g transform="translate(532.7 406.9)"><circle r="3.65" fill="#3444d8"/><circle r="2.25" fill="#161660"/><rect x="-1.2" y="-0.6" width="2.4" height="1.9" fill="#000"/><path d="M-1.7 -1.1h3.4" stroke="#8e9af0" stroke-width="0.6"/></g><g transform="translate(544.3 418.9)"><circle r="3.65" fill="#3444d8"/><circle r="2.25" fill="#161660"/><rect x="-1.2" y="-0.6" width="2.4" height="1.9" fill="#000"/><path d="M-1.7 -1.1h3.4" stroke="#8e9af0" stroke-width="0.6"/></g><g transform="translate(558.1 431.8)"><circle r="3.65" fill="#3444d8"/><circle r="2.25" fill="#161660"/><rect x="-1.2" y="-0.6" width="2.4" height="1.9" fill="#000"/><path d="M-1.7 -1.1h3.4" stroke="#8e9af0" stroke-width="0.6"/></g><g transform="translate(569.7 448.8)"><circle r="3.65" fill="#3444d8"/><circle r="2.25" fill="#161660"/><rect x="-1.2" y="-0.6" width="2.4" height="1.9" fill="#000"/><path d="M-1.7 -1.1h3.4" stroke="#8e9af0" stroke-width="0.6"/></g><g transform="translate(586.6 458.1)"><circle r="3.65" fill="#3444d8"/><circle r="2.25" fill="#161660"/><rect x="-1.2" y="-0.6" width="2.4" height="1.9" fill="#000"/><path d="M-1.7 -1.1h3.4" stroke="#8e9af0" stroke-width="0.6"/></g><g transform="translate(613.8 459.5)"><circle r="3.65" fill="#3444d8"/><circle r="2.25" fill="#161660"/><rect x="-1.2" y="-0.6" width="2.4" height="1.9" fill="#000"/><path d="M-1.7 -1.1h3.4" stroke="#8e9af0" stroke-width="0.6"/></g><g transform="translate(404.2 459.9)"><circle r="3.3" fill="#fbeeee" stroke="#d43a28" stroke-width="1.4"/><rect x="-1.8" y="-1.8" width="3.6" height="3.6" rx="0.4" fill="#111"/></g><g transform="translate(429.6 459.9)"><circle r="3.3" fill="#fbeeee" stroke="#d43a28" stroke-width="1.4"/><rect x="-1.8" y="-1.8" width="3.6" height="3.6" rx="0.4" fill="#111"/></g><g transform="translate(445.6 458.6)"><circle r="3.3" fill="#fbeeee" stroke="#d43a28" stroke-width="1.4"/><rect x="-1.8" y="-1.8" width="3.6" height="3.6" rx="0.4" fill="#111"/></g><g transform="translate(473.3 458.1)"><circle r="3.3" fill="#fbeeee" stroke="#d43a28" stroke-width="1.4"/><rect x="-1.8" y="-1.8" width="3.6" height="3.6" rx="0.4" fill="#111"/></g><g transform="translate(501.0 457.7)"><circle r="3.3" fill="#fbeeee" stroke="#d43a28" stroke-width="1.4"/><rect x="-1.8" y="-1.8" width="3.6" height="3.6" rx="0.4" fill="#111"/></g><g transform="translate(528.7 458.1)"><circle r="3.3" fill="#fbeeee" stroke="#d43a28" stroke-width="1.4"/><rect x="-1.8" y="-1.8" width="3.6" height="3.6" rx="0.4" fill="#111"/></g><g transform="translate(543.8 459.0)"><circle r="3.3" fill="#fbeeee" stroke="#d43a28" stroke-width="1.4"/><rect x="-1.8" y="-1.8" width="3.6" height="3.6" rx="0.4" fill="#111"/></g><g transform="translate(569.7 458.1)"><circle r="3.3" fill="#fbeeee" stroke="#d43a28" stroke-width="1.4"/><rect x="-1.8" y="-1.8" width="3.6" height="3.6" rx="0.4" fill="#111"/></g><text x="36.8" y="467.8" class="ra">0</text><text x="36.8" y="447.8" class="ra">0.2</text><text x="36.8" y="427.8" class="ra">0.4</text><text x="36.8" y="407.8" class="ra">0.6</text><text x="36.8" y="387.8" class="ra">0.8</text><text x="638.6" y="464.2">0</text><text x="638.6" y="439.6">10</text><text x="638.6" y="414.9">20</text><text x="638.6" y="390.2">30</text><text class="ax" transform="translate(10.3 418.4) rotate(-90)"><tspan font-style="italic">R</tspan> (m)</text><text class="ax" transform="translate(670.5 419.4) rotate(-90)"><tspan font-style="italic">B</tspan> (mT)</text><text x="354.6" y="396.3" class="tl">100 µs</text>
<g clip-path="url(#cl5)"><path class="c" d="M335.5 547.2 321.0 548.3 311.5 548.5 301.5 548.1 291.5 547.0 238.5 537.0 229.0 534.4 208.6 528.2 200.5 526.2 187.5 524.3 175.5 523.7 165.0 524.4 152.5 526.8 144.0 529.5 130.0 535.5 120.5 538.8 105.0 543.0 89.0 546.4 78.0 547.9 67.5 548.5 57.0 548.3 41.5 547.2M335.5 535.3 323.5 537.4 316.0 538.2 308.5 538.3 301.5 537.5 296.0 536.2 290.5 534.5 262.5 522.7 255.0 520.2 246.0 517.7 222.5 512.3 213.0 510.5 196.0 508.6 183.5 508.1 170.0 508.5 160.0 509.5 145.8 512.2 131.5 515.6 124.0 517.9 116.5 520.7 88.0 533.8 82.0 535.9 76.0 537.3 68.5 538.2 61.0 538.2 53.5 537.3 41.5 535.2M335.5 527.8 324.0 530.7 316.5 532.0 309.5 532.1 302.5 531.2 297.0 529.6 291.5 527.3 286.0 524.4 273.0 516.4 266.5 512.8 259.5 509.6 252.0 506.9 242.0 504.2 216.0 498.2 194.5 495.9 187.0 495.6 167.5 496.5 160.5 497.3 136.0 502.7 125.0 505.7 118.0 508.3 111.0 511.7 104.5 515.5 91.8 523.7 86.0 526.9 80.0 529.5 74.5 531.1 67.5 532.1 60.5 531.9 53.0 530.6 41.5 527.7M335.5 521.8 324.0 525.5 317.0 527.0 310.0 527.4 303.0 526.3 297.5 524.4 292.2 521.7 286.9 518.2 275.5 509.5 269.0 505.0 261.5 500.7 255.0 497.9 249.0 496.0 231.0 491.5 216.5 487.4 212.0 486.8 202.0 486.4 192.5 484.9 188.0 484.6 175.5 486.0 165.5 486.2 160.5 486.8 146.5 490.7 128.0 495.1 122.0 497.0 115.0 500.1 108.0 504.3 102.0 508.6 90.5 517.7 85.0 521.5 79.5 524.3 74.0 526.2 67.0 527.3 60.0 526.9 53.0 525.3 41.5 521.6M335.5 516.5 324.0 521.0 317.0 522.9 310.0 523.3 303.5 522.3 298.2 520.2 293.0 517.1 288.0 513.2 277.0 503.1 271.5 498.6 263.5 493.1 257.0 489.8 251.5 488.0 230.0 482.7 219.5 478.4 216.5 477.5 212.0 477.0 205.0 477.8 202.0 477.8 199.0 477.2 192.5 474.9 188.5 474.4 185.0 474.8 178.0 477.0 175.0 477.6 172.0 477.5 165.5 476.6 161.0 476.9 157.5 477.9 147.5 482.1 125.5 487.3 120.0 489.1 113.0 492.8 105.5 498.0 100.0 502.7 89.5 512.7 84.5 516.7 79.0 520.1 73.5 522.2 67.0 523.3 60.0 522.8 53.0 520.9 41.5 516.4M159.8 467.2 156.5 469.0 150.5 473.5 148.0 474.7 139.5 476.3 131.5 478.6 123.0 479.9 119.5 481.1 116.0 483.0 108.5 488.2 102.0 493.7 97.5 498.2 88.7 508.2 84.5 512.2 79.5 515.8 74.5 518.2 71.0 519.2 67.5 519.7 64.0 519.7 60.5 519.3 53.5 517.1 41.5 511.6M180.8 467.2 177.0 470.2 174.5 470.8 172.0 470.2 166.6 467.2M211.8 467.2 209.5 468.0 205.0 470.5 202.5 471.0 200.0 470.2 196.2 467.2M335.5 511.8 323.5 517.3 316.5 519.4 313.0 519.8 309.5 519.8 306.0 519.3 302.5 518.3 297.5 515.8 292.5 512.2 288.2 508.2 279.5 498.6 274.5 493.6 267.5 488.0 260.5 483.3 257.0 481.5 254.0 480.5 245.5 479.1 237.5 476.8 229.5 475.3 226.4 473.7 219.5 468.7 215.8 467.2M150.1 467.2 148.5 468.7 147.0 469.3 145.5 469.3 142.0 468.6 140.0 468.6 138.0 469.2 133.5 471.6 131.5 472.3 129.5 472.5 123.0 472.1 120.5 472.6 117.5 474.1 105.0 484.0 100.5 488.1 96.0 493.4 88.5 503.5 83.5 509.0 78.5 512.9 73.5 515.4 70.5 516.2 67.0 516.7 63.5 516.6 60.0 515.9 53.5 513.5 41.5 507.1M335.5 507.3 324.0 513.5 317.5 515.9 314.0 516.6 310.5 516.8 307.0 516.4 303.5 515.4 298.5 512.9 293.7 509.2 289.0 504.2 281.0 493.7 276.5 488.5 271.7 484.2 260.0 474.9 257.0 473.4 254.5 472.7 247.5 472.9 245.5 472.7 237.5 469.1 235.5 469.0 231.5 469.7 230.0 469.5 228.5 468.8 226.8 467.2M115.6 467.2 109.0 474.2 102.0 479.8 98.5 483.4 95.0 488.2 87.7 499.7 83.0 505.7 79.0 509.3 75.0 511.8 71.5 513.1 68.0 513.8 64.5 513.8 60.5 513.2 57.0 512.0 54.0 510.5 41.5 502.9M335.5 503.1 323.5 510.5 320.0 512.1 316.5 513.3 312.5 513.9 309.0 513.9 305.5 513.2 302.0 511.8 298.0 509.3 294.0 505.7 289.2 499.7 282.0 488.4 278.5 483.8 275.0 480.2 268.0 474.5 261.0 467.2M109.5 467.2 107.0 470.2 101.0 473.9 98.0 476.8 94.5 481.9 87.8 494.7 83.7 501.2 81.0 504.3 78.5 506.6 73.5 509.7 70.0 510.9 67.0 511.3 63.5 511.2 59.5 510.2 53.6 507.2 41.5 498.7M335.5 498.9 323.5 507.4 317.5 510.3 313.5 511.3 310.0 511.4 307.0 511.0 303.5 509.8 298.5 506.6 296.0 504.3 293.4 501.2 289.2 494.7 282.5 482.2 279.0 477.2 276.0 474.3 270.0 470.4 267.3 467.2M100.3 467.2 97.5 469.5 94.5 474.0 92.0 479.0 86.2 492.7 83.0 498.4 80.5 501.7 78.0 504.2 75.4 506.2 72.5 507.7 70.0 508.6 66.0 509.0 62.0 508.5 59.0 507.4 53.5 504.2 44.5 496.6 41.5 494.6M335.5 494.8 332.5 496.9 323.5 504.4 318.0 507.6 315.0 508.6 311.0 509.1 307.5 508.7 304.5 507.7 302.0 506.4 299.0 504.2 296.5 501.6 294.0 498.4 291.1 493.2 285.0 479.2 282.0 473.4 278.5 468.9 276.5 467.6 274.9 467.2M93.0 467.2 90.5 473.7 86.0 487.7 83.0 494.4 80.7 498.2 78.0 501.4 75.4 503.7 72.5 505.4 69.5 506.4 65.0 506.7 62.0 506.2 59.0 505.0 54.0 501.7 45.0 493.0 41.5 490.4M335.5 490.7 332.5 492.9 323.5 501.5 320.5 503.8 318.0 505.2 315.0 506.3 310.5 506.9 307.5 506.5 304.5 505.4 302.0 504.0 299.0 501.4 296.5 498.4 294.0 494.4 291.3 488.2 286.5 473.9 283.8 467.2M88.8 467.2 85.3 482.2 82.9 490.2 80.5 495.2 78.0 498.7 75.5 501.1 72.5 503.3 69.5 504.3 67.0 504.7 65.0 504.6 62.0 504.0 59.1 502.7 56.5 501.0 54.0 498.8 45.0 488.8 41.5 486.2M335.5 486.5 332.0 489.2 323.5 498.7 320.6 501.2 318.0 502.9 315.0 504.1 312.0 504.7 310.0 504.7 307.5 504.3 305.0 503.4 302.0 501.5 299.0 498.6 296.6 495.2 294.2 490.2 291.7 482.2 288.1 467.2M85.4 467.2 83.1 482.7 80.7 490.7 78.0 495.7 75.5 498.6 72.5 501.0 70.0 502.1 67.0 502.6 64.5 502.5 62.0 501.8 59.0 500.3 56.5 498.4 54.0 495.9 45.5 484.7 43.5 483.0 41.5 481.8M335.5 482.1 333.5 483.3 332.0 484.6 330.0 486.9 323.5 495.7 320.5 498.7 318.0 500.6 315.5 501.8 312.5 502.6 310.0 502.7 307.0 502.1 304.5 501.0 301.6 498.7 299.1 495.7 296.5 490.9 294.0 482.7 291.6 467.2M82.3 467.2 81.2 481.2 80.6 485.2 79.3 489.2 77.8 492.7 75.5 496.0 72.5 498.7 70.0 500.0 67.0 500.6 64.5 500.6 62.0 499.7 59.0 497.9 56.5 495.8 54.0 492.7 49.5 485.0 46.5 480.7 44.0 478.4 41.5 477.3M335.5 477.5 333.0 478.7 330.5 481.1 323.2 492.7 320.5 496.0 318.0 498.3 315.5 499.6 312.5 500.6 310.0 500.8 307.5 500.2 304.5 498.7 302.0 496.5 299.5 493.2 298.2 490.2 296.5 485.2 295.9 481.7 294.7 467.2M79.2 467.2 79.4 478.7 78.9 483.2 78.0 487.9 75.5 493.1 73.0 495.9 70.0 498.0 67.5 498.5 64.5 498.5 62.0 497.5 59.0 495.4 56.5 492.8 54.0 488.5 50.0 479.7 47.5 475.7 46.0 474.2 44.5 473.2 41.5 472.5M335.5 472.7 332.5 473.6 329.5 476.3 327.5 479.5 323.0 489.0 320.5 493.1 318.0 495.8 315.0 497.7 312.5 498.5 310.0 498.7 307.5 498.2 304.5 496.3 301.7 493.2 299.2 488.2 298.2 483.7 297.7 479.2 297.8 467.2M76.1 467.2 77.0 474.2 77.3 479.7 76.8 484.2 75.8 488.2 75.0 490.4 72.5 493.8 70.0 495.7 67.0 496.4 64.5 496.2 63.0 495.4 62.0 495.3 59.0 492.6 56.2 488.2 54.0 482.7 52.2 476.2 50.4 471.7 48.3 468.7 45.6 467.2M335.5 467.5 333.5 467.3 331.5 467.6 330.0 468.3 328.5 469.6 327.3 471.2 326.1 473.7 323.3 482.7 321.0 488.2 318.0 493.1 315.0 495.3 312.5 496.3 310.0 496.5 307.5 495.9 305.0 494.1 301.8 490.2 300.3 484.2 299.8 479.7 300.0 474.7 300.9 467.2M72.3 467.2 73.7 471.7 74.9 477.2 75.1 482.2 74.7 484.7 72.5 490.8 71.5 491.4 70.0 493.2 67.0 494.0 64.5 493.8 63.0 492.7 62.0 492.7 58.7 488.2 56.5 482.2 55.0 467.2M322.5 467.2 320.7 482.7 318.5 488.2 317.7 489.7 315.0 492.7 312.5 493.9 310.0 494.1 308.5 493.5 307.5 493.4 304.5 490.7 302.5 485.4 302.1 485.2 302.3 484.7 301.9 482.7 302.0 477.2 303.2 471.7 304.6 467.2M310.0 491.3 308.5 490.3 307.3 490.2 304.6 485.2 304.4 479.7 305.0 477.0 307.5 471.2 310.0 468.6 311.5 467.8 313.0 467.7 314.5 468.3 315.5 469.1 317.2 472.7 317.9 474.7 318.2 477.2 318.1 482.7 315.5 488.6 312.5 491.1 311.5 490.9 310.0 491.3M67.5 491.0 65.5 490.7 64.5 490.9 63.5 489.7 62.0 488.7 59.4 482.7 59.3 477.2 60.3 472.7 62.0 469.4 64.5 468.2 66.0 468.5 67.3 469.2 70.0 472.1 71.7 476.2 72.7 479.7 72.7 485.2 72.0 485.8 70.0 490.0 68.5 490.2 67.5 491.0M310.0 488.0 309.7 487.7 309.9 486.7 308.3 483.2 308.3 481.2 310.0 477.0 311.5 477.5 312.5 477.0 313.3 478.7 313.7 480.7 313.3 484.7 312.5 486.2 311.5 485.9 310.3 486.7 310.1 487.2 310.3 487.7 310.0 488.0M67.0 486.4 66.0 485.5 64.5 485.8 64.1 485.2 63.7 481.2 64.5 478.0 66.0 478.2 67.0 477.7 68.2 480.2 68.5 482.2 68.3 483.7 67.7 485.7 67.0 486.4"/><path class="bf" d="M132.9 557.0C133.9 553.2 134.3 549.1 136.0 545.6C137.7 542.1 140.4 538.6 143.3 536.2C146.2 533.8 149.2 532.3 153.7 531.0C158.2 529.7 164.8 528.5 170.3 528.3C175.9 528.0 181.8 528.7 187.0 529.5C192.2 530.3 197.0 531.3 201.5 533.1C206.0 534.9 211.1 537.6 214.0 540.4C216.9 543.2 218.1 546.9 219.2 549.7C220.2 552.5 219.9 554.6 220.3 557.0Z"/><path class="bi" d="M148.7 540.3C149.0 538.5 152.1 535.9 155.4 534.5C158.7 533.1 163.8 532.5 168.7 532.2C173.6 531.9 179.8 531.5 184.8 532.7C189.8 533.9 197.3 537.4 198.6 539.4C199.9 541.4 197.0 543.5 192.8 544.7C188.6 546.0 179.7 546.8 173.2 546.9C166.7 547.0 157.7 546.3 153.6 545.2C149.5 544.1 148.4 542.1 148.7 540.3Z"/><path class="bl" d="M132.9 557.0C133.9 553.2 134.3 549.1 136.0 545.6C137.7 542.1 140.4 538.6 143.3 536.2C146.2 533.8 149.2 532.3 153.7 531.0C158.2 529.7 164.8 528.5 170.3 528.3C175.9 528.0 181.8 528.7 187.0 529.5C192.2 530.3 197.0 531.3 201.5 533.1C206.0 534.9 211.1 537.6 214.0 540.4C216.9 543.2 218.1 546.9 219.2 549.7C220.2 552.5 219.9 554.6 220.3 557.0"/><path class="c" d="M142.1 534.7 142.7 534.3 143.3 533.8 143.9 533.4 144.5 533.0 145.1 532.6 145.8 532.2 146.4 531.8 147.1 531.5 147.8 531.2 148.5 530.8 149.2 530.5 149.9 530.2 150.7 530.0 151.5 529.7 152.3 529.4 153.2 529.2 154.1 528.9 155.0 528.7 156.0 528.4 157.0 528.2 158.0 528.0 159.1 527.8 160.2 527.6 161.3 527.4 162.4 527.2 163.5 527.0 164.7 526.9 165.8 526.8 166.9 526.6 168.0 526.5 169.1 526.5 170.2 526.4 171.3 526.4 172.4 526.3 173.5 526.3 174.6 526.4 175.7 526.4 176.8 526.5 177.8 526.5 178.9 526.6 180.0 526.7 181.1 526.8 182.2 526.9 183.2 527.1 184.3 527.2 185.3 527.3 186.3 527.5 187.3 527.6 188.3 527.8 189.2 527.9 190.2 528.1 191.2 528.3 192.1 528.5 193.1 528.7 194.0 528.9 195.0 529.1 195.9 529.3 196.8 529.5 197.7 529.8 198.6 530.1 199.5 530.4 200.4 530.7 201.3 531.0 202.2 531.3 203.1 531.7 204.0 532.1 204.9 532.5 205.8 532.9 206.6 533.3 207.5 533.8 208.4 534.3"/><rect x="168.5" y="535.8" width="5.0" height="2.6" rx="0.6" fill="#000"/><path class="w" d="M48.5 526.5 48.5 515.9 65.8 516.2 67.6 515.4 74.3 509.1 77.4 502.4 84.6 490.0 87.2 486.8 290.0 486.8 292.6 490.0 299.8 502.4 302.9 509.1 309.6 515.4 311.4 516.2 328.7 515.9 328.7 526.5"/><rect class="bs" x="58.5" y="514.4" width="5.4" height="5.4"/><rect class="bs" x="85.6" y="485.8" width="5.4" height="5.4"/><rect class="bs" x="103.0" y="485.8" width="5.4" height="5.4"/><rect class="bs" x="114.5" y="485.8" width="5.4" height="5.4"/><rect class="bs" x="128.3" y="485.8" width="5.4" height="5.4"/><rect class="bs" x="139.9" y="485.8" width="5.4" height="5.4"/><rect class="bs" x="151.5" y="485.8" width="5.4" height="5.4"/><rect class="bs" x="163.0" y="485.8" width="5.4" height="5.4"/><rect class="bs" x="174.6" y="485.8" width="5.4" height="5.4"/><rect class="bs" x="185.9" y="485.8" width="5.4" height="5.4"/><rect class="bs" x="197.2" y="485.8" width="5.4" height="5.4"/><rect class="bs" x="208.8" y="485.8" width="5.4" height="5.4"/><rect class="bs" x="220.3" y="485.8" width="5.4" height="5.4"/><rect class="bs" x="231.9" y="485.8" width="5.4" height="5.4"/><rect class="bs" x="243.5" y="485.8" width="5.4" height="5.4"/><rect class="bs" x="257.3" y="485.8" width="5.4" height="5.4"/><rect class="bs" x="268.8" y="485.8" width="5.4" height="5.4"/><rect class="bs" x="286.2" y="485.8" width="5.4" height="5.4"/><rect class="bs" x="313.3" y="514.4" width="5.4" height="5.4"/><rect class="rs" x="102.9" y="467.2" width="5.8" height="6.8"/><rect class="rs" x="128.1" y="467.2" width="5.8" height="6.8"/><rect class="rs" x="144.3" y="467.2" width="5.8" height="6.8"/><rect class="rs" x="171.9" y="467.2" width="5.8" height="6.8"/><rect class="rs" x="199.5" y="467.2" width="5.8" height="6.8"/><rect class="rs" x="227.1" y="467.2" width="5.8" height="6.8"/><rect class="rs" x="243.3" y="467.2" width="5.8" height="6.8"/><rect class="rs" x="268.5" y="467.2" width="5.8" height="6.8"/></g>
<rect class="fr" x="41.5" y="467.2" width="294.1" height="89.8"/><path class="t" d="M41.5 557.0h2.2M335.6 557.0h-2.2M41.5 537.0h2.2M335.6 537.0h-2.2M41.5 517.0h2.2M335.6 517.0h-2.2M41.5 497.0h2.2M335.6 497.0h-2.2M41.5 477.0h2.2M335.6 477.0h-2.2M45.8 557.0v-2.2M45.8 467.2v2.2M93.4 557.0v-2.2M93.4 467.2v2.2M141.0 557.0v-2.2M141.0 467.2v2.2M188.6 557.0v-2.2M188.6 467.2v2.2M236.2 557.0v-2.2M236.2 467.2v2.2M283.8 557.0v-2.2M283.8 467.2v2.2M331.4 557.0v-2.2M331.4 467.2v2.2"/><rect class="fr2" x="339.9" y="467.2" width="294.1" height="89.8"/><path class="t" d="M339.9 553.4h2.2M634.0 553.4h-2.2M339.9 528.8h2.2M634.0 528.8h-2.2M339.9 504.1h2.2M634.0 504.1h-2.2M339.9 479.4h2.2M634.0 479.4h-2.2M344.2 557.0v-2.2M344.2 467.2v2.2M391.8 557.0v-2.2M391.8 467.2v2.2M439.3 557.0v-2.2M439.3 467.2v2.2M486.9 557.0v-2.2M486.9 467.2v2.2M534.4 557.0v-2.2M534.4 467.2v2.2M582.0 557.0v-2.2M582.0 467.2v2.2M629.5 557.0v-2.2M629.5 467.2v2.2"/><g transform="translate(359.6 552.1)"><circle r="3.65" fill="#3444d8"/><circle r="2.25" fill="#161660"/><rect x="-1.2" y="-0.6" width="2.4" height="1.9" fill="#000"/><path d="M-1.7 -1.1h3.4" stroke="#8e9af0" stroke-width="0.6"/></g><g transform="translate(386.8 548.6)"><circle r="3.65" fill="#3444d8"/><circle r="2.25" fill="#161660"/><rect x="-1.2" y="-0.6" width="2.4" height="1.9" fill="#000"/><path d="M-1.7 -1.1h3.4" stroke="#8e9af0" stroke-width="0.6"/></g><g transform="translate(404.2 530.7)"><circle r="3.65" fill="#3444d8"/><circle r="2.25" fill="#161660"/><rect x="-1.2" y="-0.6" width="2.4" height="1.9" fill="#000"/><path d="M-1.7 -1.1h3.4" stroke="#8e9af0" stroke-width="0.6"/></g><g transform="translate(415.8 513.8)"><circle r="3.65" fill="#3444d8"/><circle r="2.25" fill="#161660"/><rect x="-1.2" y="-0.6" width="2.4" height="1.9" fill="#000"/><path d="M-1.7 -1.1h3.4" stroke="#8e9af0" stroke-width="0.6"/></g><g transform="translate(429.6 504.0)"><circle r="3.65" fill="#3444d8"/><circle r="2.25" fill="#161660"/><rect x="-1.2" y="-0.6" width="2.4" height="1.9" fill="#000"/><path d="M-1.7 -1.1h3.4" stroke="#8e9af0" stroke-width="0.6"/></g><g transform="translate(441.2 498.2)"><circle r="3.65" fill="#3444d8"/><circle r="2.25" fill="#161660"/><rect x="-1.2" y="-0.6" width="2.4" height="1.9" fill="#000"/><path d="M-1.7 -1.1h3.4" stroke="#8e9af0" stroke-width="0.6"/></g><g transform="translate(452.8 494.2)"><circle r="3.65" fill="#3444d8"/><circle r="2.25" fill="#161660"/><rect x="-1.2" y="-0.6" width="2.4" height="1.9" fill="#000"/><path d="M-1.7 -1.1h3.4" stroke="#8e9af0" stroke-width="0.6"/></g><g transform="translate(463.9 491.1)"><circle r="3.65" fill="#3444d8"/><circle r="2.25" fill="#161660"/><rect x="-1.2" y="-0.6" width="2.4" height="1.9" fill="#000"/><path d="M-1.7 -1.1h3.4" stroke="#8e9af0" stroke-width="0.6"/></g><g transform="translate(475.5 490.2)"><circle r="3.65" fill="#3444d8"/><circle r="2.25" fill="#161660"/><rect x="-1.2" y="-0.6" width="2.4" height="1.9" fill="#000"/><path d="M-1.7 -1.1h3.4" stroke="#8e9af0" stroke-width="0.6"/></g><g transform="translate(487.0 492.4)"><circle r="3.65" fill="#3444d8"/><circle r="2.25" fill="#161660"/><rect x="-1.2" y="-0.6" width="2.4" height="1.9" fill="#000"/><path d="M-1.7 -1.1h3.4" stroke="#8e9af0" stroke-width="0.6"/></g><g transform="translate(498.8 498.2)"><circle r="3.65" fill="#3444d8"/><circle r="2.25" fill="#161660"/><rect x="-1.2" y="-0.6" width="2.4" height="1.9" fill="#000"/><path d="M-1.7 -1.1h3.4" stroke="#8e9af0" stroke-width="0.6"/></g><g transform="translate(510.0 501.3)"><circle r="3.65" fill="#3444d8"/><circle r="2.25" fill="#161660"/><rect x="-1.2" y="-0.6" width="2.4" height="1.9" fill="#000"/><path d="M-1.7 -1.1h3.4" stroke="#8e9af0" stroke-width="0.6"/></g><g transform="translate(521.5 511.6)"><circle r="3.65" fill="#3444d8"/><circle r="2.25" fill="#161660"/><rect x="-1.2" y="-0.6" width="2.4" height="1.9" fill="#000"/><path d="M-1.7 -1.1h3.4" stroke="#8e9af0" stroke-width="0.6"/></g><g transform="translate(532.7 518.3)"><circle r="3.65" fill="#3444d8"/><circle r="2.25" fill="#161660"/><rect x="-1.2" y="-0.6" width="2.4" height="1.9" fill="#000"/><path d="M-1.7 -1.1h3.4" stroke="#8e9af0" stroke-width="0.6"/></g><g transform="translate(544.3 527.6)"><circle r="3.65" fill="#3444d8"/><circle r="2.25" fill="#161660"/><rect x="-1.2" y="-0.6" width="2.4" height="1.9" fill="#000"/><path d="M-1.7 -1.1h3.4" stroke="#8e9af0" stroke-width="0.6"/></g><g transform="translate(558.1 537.0)"><circle r="3.65" fill="#3444d8"/><circle r="2.25" fill="#161660"/><rect x="-1.2" y="-0.6" width="2.4" height="1.9" fill="#000"/><path d="M-1.7 -1.1h3.4" stroke="#8e9af0" stroke-width="0.6"/></g><g transform="translate(569.7 543.2)"><circle r="3.65" fill="#3444d8"/><circle r="2.25" fill="#161660"/><rect x="-1.2" y="-0.6" width="2.4" height="1.9" fill="#000"/><path d="M-1.7 -1.1h3.4" stroke="#8e9af0" stroke-width="0.6"/></g><g transform="translate(586.6 550.4)"><circle r="3.65" fill="#3444d8"/><circle r="2.25" fill="#161660"/><rect x="-1.2" y="-0.6" width="2.4" height="1.9" fill="#000"/><path d="M-1.7 -1.1h3.4" stroke="#8e9af0" stroke-width="0.6"/></g><g transform="translate(613.8 552.1)"><circle r="3.65" fill="#3444d8"/><circle r="2.25" fill="#161660"/><rect x="-1.2" y="-0.6" width="2.4" height="1.9" fill="#000"/><path d="M-1.7 -1.1h3.4" stroke="#8e9af0" stroke-width="0.6"/></g><g transform="translate(404.2 553.5)"><circle r="3.3" fill="#fbeeee" stroke="#d43a28" stroke-width="1.4"/><rect x="-1.8" y="-1.8" width="3.6" height="3.6" rx="0.4" fill="#111"/></g><g transform="translate(429.6 552.6)"><circle r="3.3" fill="#fbeeee" stroke="#d43a28" stroke-width="1.4"/><rect x="-1.8" y="-1.8" width="3.6" height="3.6" rx="0.4" fill="#111"/></g><g transform="translate(445.6 552.1)"><circle r="3.3" fill="#fbeeee" stroke="#d43a28" stroke-width="1.4"/><rect x="-1.8" y="-1.8" width="3.6" height="3.6" rx="0.4" fill="#111"/></g><g transform="translate(473.3 552.1)"><circle r="3.3" fill="#fbeeee" stroke="#d43a28" stroke-width="1.4"/><rect x="-1.8" y="-1.8" width="3.6" height="3.6" rx="0.4" fill="#111"/></g><g transform="translate(501.0 552.6)"><circle r="3.3" fill="#fbeeee" stroke="#d43a28" stroke-width="1.4"/><rect x="-1.8" y="-1.8" width="3.6" height="3.6" rx="0.4" fill="#111"/></g><g transform="translate(528.7 553.0)"><circle r="3.3" fill="#fbeeee" stroke="#d43a28" stroke-width="1.4"/><rect x="-1.8" y="-1.8" width="3.6" height="3.6" rx="0.4" fill="#111"/></g><g transform="translate(543.8 552.6)"><circle r="3.3" fill="#fbeeee" stroke="#d43a28" stroke-width="1.4"/><rect x="-1.8" y="-1.8" width="3.6" height="3.6" rx="0.4" fill="#111"/></g><g transform="translate(569.7 552.6)"><circle r="3.3" fill="#fbeeee" stroke="#d43a28" stroke-width="1.4"/><rect x="-1.8" y="-1.8" width="3.6" height="3.6" rx="0.4" fill="#111"/></g><text x="36.8" y="561.1" class="ra">0</text><text x="36.8" y="541.1" class="ra">0.2</text><text x="36.8" y="521.1" class="ra">0.4</text><text x="36.8" y="501.1" class="ra">0.6</text><text x="36.8" y="481.1" class="ra">0.8</text><text x="638.6" y="557.5">0</text><text x="638.6" y="532.9">10</text><text x="638.6" y="508.2">20</text><text x="638.6" y="483.5">30</text><text class="ax" transform="translate(10.3 511.7) rotate(-90)"><tspan font-style="italic">R</tspan> (m)</text><text class="ax" transform="translate(670.5 512.7) rotate(-90)"><tspan font-style="italic">B</tspan> (mT)</text><text x="354.6" y="491.6" class="tl">110 µs</text>
<g clip-path="url(#cl6)"><path class="c" d="M335.5 640.6 321.5 641.6 312.5 641.9 303.5 641.6 294.0 640.7 234.0 630.3 196.4 621.5 183.0 619.8 170.0 619.2 161.5 619.7 153.5 621.2 146.0 623.5 131.0 629.4 122.0 632.2 103.5 636.8 88.0 639.9 77.5 641.3 67.0 641.8 56.5 641.6 41.5 640.5M335.5 628.6 324.0 630.7 316.5 631.6 309.0 631.7 302.0 630.9 296.5 629.7 291.0 628.1 264.0 617.0 256.0 614.4 247.5 612.2 223.0 607.0 212.5 605.2 195.0 603.4 182.0 602.9 168.5 603.2 158.5 604.1 146.5 606.1 132.0 609.5 123.5 612.0 115.5 614.9 88.0 627.2 82.0 629.3 76.0 630.7 68.5 631.6 61.0 631.5 53.5 630.7 41.5 628.6M335.5 621.2 324.0 624.1 317.0 625.3 310.0 625.5 303.0 624.7 297.5 623.2 292.0 620.9 286.4 618.0 273.5 610.4 267.0 606.8 259.7 603.5 252.5 601.0 242.9 598.5 216.0 592.6 194.5 590.4 187.0 590.0 167.0 590.9 159.5 591.7 138.0 596.1 125.5 599.3 118.1 602.0 111.0 605.4 104.5 609.1 91.5 617.3 86.0 620.4 80.0 622.9 74.0 624.6 67.0 625.5 60.0 625.2 53.0 624.0 41.5 621.0M335.5 615.1 324.0 618.8 317.0 620.4 310.0 620.7 303.5 619.8 298.0 618.0 292.5 615.3 287.0 611.7 275.5 603.1 269.5 599.0 262.0 594.8 255.0 591.8 249.0 590.0 231.0 585.6 216.5 581.7 211.5 581.0 202.0 580.6 192.5 579.2 188.0 579.0 175.5 580.2 165.5 580.4 160.5 580.9 129.3 588.5 122.5 590.5 115.5 593.6 108.0 597.9 102.0 602.2 90.0 611.5 84.8 615.0 79.0 617.9 73.5 619.7 67.0 620.6 60.0 620.3 53.0 618.7 41.5 615.0M335.5 609.9 324.0 614.4 317.0 616.3 310.0 616.7 303.5 615.6 298.5 613.7 293.0 610.5 287.8 606.5 277.5 597.2 271.5 592.3 263.5 587.0 257.0 583.7 251.5 581.9 230.0 576.7 216.5 571.7 212.0 571.2 205.0 571.9 202.0 571.8 199.0 571.2 192.5 569.1 188.5 568.6 185.0 569.0 178.0 571.1 175.0 571.6 172.0 571.5 165.0 570.6 161.0 571.0 157.5 572.0 147.5 575.9 126.0 580.9 120.5 582.6 113.5 586.2 105.5 591.7 100.0 596.3 89.5 606.1 84.5 610.1 79.0 613.5 73.5 615.6 67.0 616.6 60.0 616.1 53.0 614.2 41.5 609.7M181.8 560.5 177.5 563.8 176.0 564.4 174.5 564.7 172.0 564.1 167.5 561.7 165.5 561.0 163.5 560.7 161.0 560.9 157.5 562.4 150.9 567.0 147.5 568.6 139.5 570.0 131.5 572.3 123.5 573.5 119.0 575.1 112.0 579.3 103.0 586.4 98.0 591.3 88.5 601.9 84.0 606.0 79.0 609.5 73.5 612.0 70.5 612.7 67.0 613.1 63.5 613.1 60.0 612.5 53.5 610.5 41.5 605.0M335.5 605.2 324.0 610.4 317.0 612.7 313.5 613.2 310.0 613.2 306.5 612.8 303.5 612.0 298.5 609.8 293.5 606.5 288.6 602.0 279.0 591.7 274.0 586.9 265.5 580.4 258.5 576.1 253.5 574.3 245.5 573.0 237.5 570.7 229.5 569.1 226.2 567.5 219.5 562.9 216.0 561.5 213.5 561.2 211.5 561.5 205.0 564.4 202.5 564.8 201.0 564.5 199.5 563.8 195.2 560.5M150.4 560.5 148.5 562.3 147.0 562.9 140.0 562.4 138.0 562.9 133.5 565.3 131.5 566.0 129.5 566.1 123.0 565.8 120.5 566.3 117.5 567.8 105.7 577.0 101.0 581.3 96.5 586.4 88.5 597.0 83.5 602.4 78.5 606.3 73.5 608.7 70.5 609.6 67.0 610.0 63.5 609.9 60.0 609.3 53.5 606.9 41.5 600.5M335.5 600.7 324.0 606.9 317.5 609.3 314.0 610.0 310.5 610.1 307.0 609.8 303.5 608.8 298.5 606.3 293.6 602.5 288.9 597.5 281.0 587.3 276.5 582.2 271.5 577.8 260.0 568.8 257.0 567.3 254.5 566.6 247.5 566.7 245.5 566.5 237.5 563.1 235.5 562.9 231.5 563.4 230.0 563.3 228.0 562.2 226.4 560.5M116.0 560.5 109.0 567.8 102.0 573.5 98.5 577.0 95.0 581.8 87.9 593.0 83.1 599.0 79.0 602.7 75.0 605.2 71.5 606.5 68.0 607.2 64.5 607.2 60.5 606.5 54.0 603.9 41.5 596.2M249.0 560.5 246.5 561.5 245.5 561.3 244.3 560.5M335.5 596.5 323.5 603.8 320.0 605.5 316.5 606.7 312.5 607.3 309.0 607.2 305.5 606.5 302.0 605.2 299.5 603.8 296.5 601.5 291.7 596.5 288.4 592.0 281.5 581.4 277.5 576.4 274.5 573.5 268.4 568.5 260.2 560.5M109.7 560.5 107.0 563.8 101.0 567.5 98.0 570.5 94.5 575.5 87.9 588.0 83.7 594.5 81.0 597.7 78.5 600.0 73.5 603.1 70.0 604.3 67.0 604.7 63.5 604.5 59.5 603.5 53.5 600.5 41.5 592.1M335.5 592.3 323.5 600.8 317.5 603.7 313.5 604.7 310.0 604.8 307.0 604.4 303.5 603.2 298.5 600.0 296.3 598.0 293.5 594.8 289.3 588.5 282.5 575.9 279.0 570.9 276.0 568.0 270.0 564.1 267.1 560.5M101.1 560.5 99.5 561.3 98.0 562.6 95.0 566.8 92.0 572.7 86.1 586.5 83.0 591.8 80.5 595.1 78.0 597.6 75.5 599.5 72.5 601.1 70.0 601.9 66.0 602.4 62.0 601.9 59.0 600.8 53.5 597.6 44.5 590.0 41.5 588.0M335.5 588.3 332.5 590.3 323.5 597.8 318.0 601.0 315.0 602.0 311.0 602.4 307.5 602.1 304.5 601.1 302.0 599.8 299.0 597.6 296.5 595.1 293.8 591.5 290.7 586.0 284.0 570.9 282.0 567.2 280.0 564.3 278.3 562.5 276.5 561.4 271.5 560.5M93.2 560.5 90.5 567.4 86.1 581.0 83.0 587.9 80.8 591.5 78.0 594.8 75.5 597.0 72.5 598.8 69.5 599.8 65.0 600.1 62.0 599.6 59.0 598.4 54.0 595.1 45.0 586.4 41.5 583.9M335.5 584.1 332.5 586.3 323.5 594.9 320.5 597.2 318.0 598.6 315.0 599.7 310.5 600.2 307.5 599.9 304.5 598.8 302.0 597.4 299.0 594.8 296.5 591.9 294.0 587.9 291.2 581.5 286.5 567.8 283.5 560.5M89.0 560.5 85.4 575.5 83.0 583.5 80.5 588.6 78.0 592.0 75.5 594.5 72.5 596.7 70.0 597.5 67.0 598.0 64.0 597.8 59.5 596.3 56.5 594.4 54.0 592.2 45.0 582.2 41.5 579.6M335.5 579.9 332.0 582.6 323.5 592.0 320.6 594.5 318.0 596.3 315.0 597.5 312.0 598.1 310.0 598.1 307.5 597.7 305.0 596.8 302.0 594.9 299.0 592.0 296.5 588.5 294.0 583.5 291.7 576.0 287.9 560.5M85.5 560.5 83.1 576.0 80.7 584.0 78.1 589.0 75.5 592.0 72.5 594.4 70.0 595.4 67.0 596.0 64.5 595.9 62.0 595.2 59.0 593.7 56.5 591.8 54.0 589.3 45.5 578.2 43.5 576.4 41.5 575.3M335.5 575.6 333.5 576.8 332.0 578.1 330.0 580.3 323.5 589.1 320.5 592.0 318.0 594.0 315.5 595.2 312.5 596.0 310.0 596.1 307.5 595.6 304.5 594.4 301.6 592.0 299.0 589.0 296.5 584.4 293.9 576.0 291.4 560.5M82.4 560.5 81.3 574.5 80.7 578.5 79.3 582.5 77.9 586.0 75.5 589.4 72.5 592.1 70.0 593.4 67.0 594.0 64.5 593.9 62.0 593.0 59.0 591.3 56.5 589.1 54.0 586.1 49.5 578.5 46.5 574.1 44.0 571.9 41.5 570.7M335.5 571.0 333.0 572.2 330.5 574.6 323.3 586.0 320.5 589.4 318.0 591.7 315.5 593.0 312.5 594.0 310.0 594.2 307.5 593.6 304.5 592.1 302.0 589.9 299.4 586.5 297.7 582.5 296.4 578.5 295.8 574.5 294.6 560.5M79.3 560.5 79.4 572.5 78.9 577.0 78.0 581.4 75.5 586.5 72.8 589.5 70.0 591.4 67.5 591.9 64.5 591.8 62.0 590.9 59.0 588.8 56.5 586.2 54.0 582.0 50.0 573.3 47.5 569.2 44.5 566.7 41.5 565.9M335.5 566.2 332.5 567.1 329.5 569.8 327.5 573.1 323.0 582.5 320.5 586.5 318.0 589.2 315.0 591.1 312.5 591.9 310.0 592.1 307.5 591.6 304.5 589.7 301.9 587.0 299.5 582.4 298.3 578.0 297.6 573.0 297.6 560.5M76.2 560.5 77.1 567.5 77.3 573.0 76.9 577.5 75.9 581.5 75.0 583.9 72.5 587.2 70.0 589.1 67.0 589.8 64.5 589.6 63.0 588.8 62.0 588.7 59.0 586.0 56.2 581.5 53.9 576.0 51.9 569.0 50.0 564.5 47.5 561.6 46.0 560.9 44.5 560.5M335.5 561.1 333.5 560.8 331.5 561.2 330.0 561.9 328.5 563.3 326.3 567.0 323.4 576.0 321.1 581.5 318.0 586.5 315.0 588.7 312.5 589.7 310.0 589.9 307.5 589.3 305.0 587.5 301.8 583.5 300.3 578.0 299.7 573.5 299.8 568.0 300.8 560.5M72.5 560.5 73.9 565.0 75.0 570.5 75.2 575.5 74.9 578.0 72.5 584.2 71.5 584.8 70.0 586.6 67.0 587.4 64.5 587.1 63.0 586.2 62.0 586.1 59.5 583.0 58.7 581.5 56.5 576.0 54.8 560.5M322.8 560.5 320.8 576.0 318.0 582.8 315.2 586.0 312.5 587.3 310.0 587.5 307.5 586.8 304.5 584.1 302.5 579.0 302.0 578.5 301.9 570.5 303.1 565.0 304.4 560.5M313.2 560.5 314.5 561.0 315.5 561.9 316.5 563.5 317.5 566.0 318.1 568.0 318.3 570.5 318.1 576.0 315.5 582.0 312.5 584.5 311.5 584.3 310.0 584.7 308.5 583.8 307.5 583.8 307.2 583.5 304.5 578.7 304.3 573.0 304.7 570.5 307.0 565.0 309.5 561.9 312.1 560.5M67.0 584.5 66.0 584.1 64.5 584.3 63.5 583.2 62.0 582.2 60.3 578.5 59.3 575.5 59.1 570.5 59.5 568.0 60.3 565.5 62.0 562.4 63.5 561.5 64.5 561.2 66.0 561.5 67.5 562.3 70.0 565.2 72.2 570.5 72.7 573.0 72.7 578.5 71.5 580.3 70.0 583.6 69.0 583.5 67.0 584.5M67.5 579.7 67.0 580.0 66.0 579.1 64.5 579.3 64.1 578.5 63.6 574.5 64.5 570.5 65.5 571.1 66.5 571.0 67.0 570.6 68.3 573.0 68.7 576.0 67.5 579.7M310.0 581.4 309.7 581.0 309.7 580.0 308.0 576.8 307.5 576.4 307.4 575.5 310.0 570.1 311.5 570.3 312.5 570.1 313.0 570.6 313.8 573.0 313.8 576.5 313.0 579.2 312.5 579.8 311.0 579.7 310.3 580.5 310.3 581.0 310.0 581.4"/><path class="bf" d="M135.8 650.4C136.7 646.8 137.0 642.8 138.5 639.6C140.0 636.4 142.1 633.5 144.7 631.3C147.3 629.0 150.4 627.3 154.1 626.1C157.8 624.9 161.8 624.1 166.6 624.0C171.4 623.9 178.0 624.6 183.2 625.5C188.4 626.4 193.3 627.4 197.8 629.2C202.3 631.0 207.4 633.9 210.3 636.5C213.2 639.1 214.5 642.5 215.5 644.8C216.5 647.1 216.2 648.5 216.5 650.4Z"/><path class="bi" d="M149.4 635.6C149.7 634.1 152.0 631.1 155.2 629.8C158.4 628.5 164.1 628.1 168.5 628.0C172.9 627.9 177.7 627.8 181.9 628.9C186.1 630.0 192.5 633.1 193.5 634.7C194.5 636.3 192.1 637.8 188.1 638.7C184.1 639.6 175.2 640.1 169.4 640.1C163.6 640.1 156.7 639.5 153.4 638.7C150.1 638.0 149.1 637.1 149.4 635.6Z"/><path class="bl" d="M135.8 650.4C136.7 646.8 137.0 642.8 138.5 639.6C140.0 636.4 142.1 633.5 144.7 631.3C147.3 629.0 150.4 627.3 154.1 626.1C157.8 624.9 161.8 624.1 166.6 624.0C171.4 623.9 178.0 624.6 183.2 625.5C188.4 626.4 193.3 627.4 197.8 629.2C202.3 631.0 207.4 633.9 210.3 636.5C213.2 639.1 214.5 642.5 215.5 644.8C216.5 647.1 216.2 648.5 216.5 650.4"/><path class="c" d="M143.5 629.9 144.0 629.4 144.5 629.0 145.1 628.6 145.7 628.1 146.3 627.8 146.9 627.4 147.5 627.0 148.1 626.6 148.7 626.3 149.4 626.0 150.0 625.7 150.7 625.4 151.4 625.1 152.1 624.8 152.8 624.5 153.5 624.3 154.2 624.1 154.9 623.8 155.7 623.6 156.4 623.4 157.2 623.2 158.0 623.1 158.8 622.9 159.6 622.8 160.4 622.6 161.2 622.5 162.1 622.4 162.9 622.3 163.8 622.2 164.7 622.2 165.6 622.1 166.6 622.1 167.5 622.1 168.5 622.1 169.6 622.1 170.6 622.2 171.7 622.2 172.8 622.3 173.8 622.4 175.0 622.5 176.1 622.6 177.2 622.7 178.3 622.9 179.3 623.0 180.4 623.1 181.5 623.3 182.5 623.5 183.5 623.6 184.5 623.8 185.5 624.0 186.4 624.1 187.4 624.3 188.4 624.5 189.3 624.7 190.3 624.9 191.2 625.1 192.1 625.4 193.1 625.6 194.0 625.9 194.9 626.2 195.8 626.4 196.7 626.8 197.6 627.1 198.5 627.4 199.4 627.8 200.3 628.2 201.2 628.6 202.1 629.0 203.0 629.5"/><rect x="167.1" y="631.2" width="2.0" height="2.6" rx="0.6" fill="#000"/><path class="w" d="M48.5 619.9 48.5 609.3 65.8 609.6 67.6 608.8 74.3 602.5 77.4 595.8 84.6 583.4 87.2 580.2 290.0 580.2 292.6 583.4 299.8 595.8 302.9 602.5 309.6 608.8 311.4 609.6 328.7 609.3 328.7 619.9"/><rect class="bs" x="58.5" y="607.8" width="5.4" height="5.4"/><rect class="bs" x="85.6" y="579.1" width="5.4" height="5.4"/><rect class="bs" x="103.0" y="579.1" width="5.4" height="5.4"/><rect class="bs" x="114.5" y="579.1" width="5.4" height="5.4"/><rect class="bs" x="128.3" y="579.1" width="5.4" height="5.4"/><rect class="bs" x="139.9" y="579.1" width="5.4" height="5.4"/><rect class="bs" x="151.5" y="579.1" width="5.4" height="5.4"/><rect class="bs" x="163.0" y="579.1" width="5.4" height="5.4"/><rect class="bs" x="174.6" y="579.1" width="5.4" height="5.4"/><rect class="bs" x="185.9" y="579.1" width="5.4" height="5.4"/><rect class="bs" x="197.2" y="579.1" width="5.4" height="5.4"/><rect class="bs" x="208.8" y="579.1" width="5.4" height="5.4"/><rect class="bs" x="220.3" y="579.1" width="5.4" height="5.4"/><rect class="bs" x="231.9" y="579.1" width="5.4" height="5.4"/><rect class="bs" x="243.5" y="579.1" width="5.4" height="5.4"/><rect class="bs" x="257.3" y="579.1" width="5.4" height="5.4"/><rect class="bs" x="268.8" y="579.1" width="5.4" height="5.4"/><rect class="bs" x="286.2" y="579.1" width="5.4" height="5.4"/><rect class="bs" x="313.3" y="607.8" width="5.4" height="5.4"/><rect class="rs" x="102.9" y="560.6" width="5.8" height="6.8"/><rect class="rs" x="128.1" y="560.6" width="5.8" height="6.8"/><rect class="rs" x="144.3" y="560.6" width="5.8" height="6.8"/><rect class="rs" x="171.9" y="560.6" width="5.8" height="6.8"/><rect class="rs" x="199.5" y="560.6" width="5.8" height="6.8"/><rect class="rs" x="227.1" y="560.6" width="5.8" height="6.8"/><rect class="rs" x="243.3" y="560.6" width="5.8" height="6.8"/><rect class="rs" x="268.5" y="560.6" width="5.8" height="6.8"/></g>
<rect class="fr" x="41.5" y="560.5" width="294.1" height="89.9"/><path class="t" d="M41.5 650.4h2.2M335.6 650.4h-2.2M41.5 630.4h2.2M335.6 630.4h-2.2M41.5 610.4h2.2M335.6 610.4h-2.2M41.5 590.4h2.2M335.6 590.4h-2.2M41.5 570.4h2.2M335.6 570.4h-2.2M45.8 650.4v-2.2M45.8 560.5v2.2M93.4 650.4v-2.2M93.4 560.5v2.2M141.0 650.4v-2.2M141.0 560.5v2.2M188.6 650.4v-2.2M188.6 560.5v2.2M236.2 650.4v-2.2M236.2 560.5v2.2M283.8 650.4v-2.2M283.8 560.5v2.2M331.4 650.4v-2.2M331.4 560.5v2.2"/><rect class="fr2" x="339.9" y="560.5" width="294.1" height="89.9"/><path class="t" d="M339.9 646.8h2.2M634.0 646.8h-2.2M339.9 622.1h2.2M634.0 622.1h-2.2M339.9 597.4h2.2M634.0 597.4h-2.2M339.9 572.8h2.2M634.0 572.8h-2.2M344.2 650.4v-2.2M344.2 560.5v2.2M391.8 650.4v-2.2M391.8 560.5v2.2M439.3 650.4v-2.2M439.3 560.5v2.2M486.9 650.4v-2.2M486.9 560.5v2.2M534.4 650.4v-2.2M534.4 560.5v2.2M582.0 650.4v-2.2M582.0 560.5v2.2M629.5 650.4v-2.2M629.5 560.5v2.2"/><g transform="translate(359.6 644.2)"><circle r="3.65" fill="#3444d8"/><circle r="2.25" fill="#161660"/><rect x="-1.2" y="-0.6" width="2.4" height="1.9" fill="#000"/><path d="M-1.7 -1.1h3.4" stroke="#8e9af0" stroke-width="0.6"/></g><g transform="translate(386.8 641.6)"><circle r="3.65" fill="#3444d8"/><circle r="2.25" fill="#161660"/><rect x="-1.2" y="-0.6" width="2.4" height="1.9" fill="#000"/><path d="M-1.7 -1.1h3.4" stroke="#8e9af0" stroke-width="0.6"/></g><g transform="translate(404.2 627.3)"><circle r="3.65" fill="#3444d8"/><circle r="2.25" fill="#161660"/><rect x="-1.2" y="-0.6" width="2.4" height="1.9" fill="#000"/><path d="M-1.7 -1.1h3.4" stroke="#8e9af0" stroke-width="0.6"/></g><g transform="translate(415.8 613.9)"><circle r="3.65" fill="#3444d8"/><circle r="2.25" fill="#161660"/><rect x="-1.2" y="-0.6" width="2.4" height="1.9" fill="#000"/><path d="M-1.7 -1.1h3.4" stroke="#8e9af0" stroke-width="0.6"/></g><g transform="translate(429.6 600.1)"><circle r="3.65" fill="#3444d8"/><circle r="2.25" fill="#161660"/><rect x="-1.2" y="-0.6" width="2.4" height="1.9" fill="#000"/><path d="M-1.7 -1.1h3.4" stroke="#8e9af0" stroke-width="0.6"/></g><g transform="translate(441.2 592.5)"><circle r="3.65" fill="#3444d8"/><circle r="2.25" fill="#161660"/><rect x="-1.2" y="-0.6" width="2.4" height="1.9" fill="#000"/><path d="M-1.7 -1.1h3.4" stroke="#8e9af0" stroke-width="0.6"/></g><g transform="translate(452.8 592.5)"><circle r="3.65" fill="#3444d8"/><circle r="2.25" fill="#161660"/><rect x="-1.2" y="-0.6" width="2.4" height="1.9" fill="#000"/><path d="M-1.7 -1.1h3.4" stroke="#8e9af0" stroke-width="0.6"/></g><g transform="translate(463.9 591.2)"><circle r="3.65" fill="#3444d8"/><circle r="2.25" fill="#161660"/><rect x="-1.2" y="-0.6" width="2.4" height="1.9" fill="#000"/><path d="M-1.7 -1.1h3.4" stroke="#8e9af0" stroke-width="0.6"/></g><g transform="translate(475.5 588.1)"><circle r="3.65" fill="#3444d8"/><circle r="2.25" fill="#161660"/><rect x="-1.2" y="-0.6" width="2.4" height="1.9" fill="#000"/><path d="M-1.7 -1.1h3.4" stroke="#8e9af0" stroke-width="0.6"/></g><g transform="translate(487.0 591.6)"><circle r="3.65" fill="#3444d8"/><circle r="2.25" fill="#161660"/><rect x="-1.2" y="-0.6" width="2.4" height="1.9" fill="#000"/><path d="M-1.7 -1.1h3.4" stroke="#8e9af0" stroke-width="0.6"/></g><g transform="translate(498.8 596.6)"><circle r="3.65" fill="#3444d8"/><circle r="2.25" fill="#161660"/><rect x="-1.2" y="-0.6" width="2.4" height="1.9" fill="#000"/><path d="M-1.7 -1.1h3.4" stroke="#8e9af0" stroke-width="0.6"/></g><g transform="translate(510.0 601.0)"><circle r="3.65" fill="#3444d8"/><circle r="2.25" fill="#161660"/><rect x="-1.2" y="-0.6" width="2.4" height="1.9" fill="#000"/><path d="M-1.7 -1.1h3.4" stroke="#8e9af0" stroke-width="0.6"/></g><g transform="translate(521.5 607.2)"><circle r="3.65" fill="#3444d8"/><circle r="2.25" fill="#161660"/><rect x="-1.2" y="-0.6" width="2.4" height="1.9" fill="#000"/><path d="M-1.7 -1.1h3.4" stroke="#8e9af0" stroke-width="0.6"/></g><g transform="translate(532.7 612.2)"><circle r="3.65" fill="#3444d8"/><circle r="2.25" fill="#161660"/><rect x="-1.2" y="-0.6" width="2.4" height="1.9" fill="#000"/><path d="M-1.7 -1.1h3.4" stroke="#8e9af0" stroke-width="0.6"/></g><g transform="translate(544.3 620.6)"><circle r="3.65" fill="#3444d8"/><circle r="2.25" fill="#161660"/><rect x="-1.2" y="-0.6" width="2.4" height="1.9" fill="#000"/><path d="M-1.7 -1.1h3.4" stroke="#8e9af0" stroke-width="0.6"/></g><g transform="translate(558.1 628.6)"><circle r="3.65" fill="#3444d8"/><circle r="2.25" fill="#161660"/><rect x="-1.2" y="-0.6" width="2.4" height="1.9" fill="#000"/><path d="M-1.7 -1.1h3.4" stroke="#8e9af0" stroke-width="0.6"/></g><g transform="translate(569.7 634.0)"><circle r="3.65" fill="#3444d8"/><circle r="2.25" fill="#161660"/><rect x="-1.2" y="-0.6" width="2.4" height="1.9" fill="#000"/><path d="M-1.7 -1.1h3.4" stroke="#8e9af0" stroke-width="0.6"/></g><g transform="translate(586.6 642.0)"><circle r="3.65" fill="#3444d8"/><circle r="2.25" fill="#161660"/><rect x="-1.2" y="-0.6" width="2.4" height="1.9" fill="#000"/><path d="M-1.7 -1.1h3.4" stroke="#8e9af0" stroke-width="0.6"/></g><g transform="translate(613.8 644.2)"><circle r="3.65" fill="#3444d8"/><circle r="2.25" fill="#161660"/><rect x="-1.2" y="-0.6" width="2.4" height="1.9" fill="#000"/><path d="M-1.7 -1.1h3.4" stroke="#8e9af0" stroke-width="0.6"/></g><g transform="translate(404.2 644.7)"><circle r="3.3" fill="#fbeeee" stroke="#d43a28" stroke-width="1.4"/><rect x="-1.8" y="-1.8" width="3.6" height="3.6" rx="0.4" fill="#111"/></g><g transform="translate(429.6 646.5)"><circle r="3.3" fill="#fbeeee" stroke="#d43a28" stroke-width="1.4"/><rect x="-1.8" y="-1.8" width="3.6" height="3.6" rx="0.4" fill="#111"/></g><g transform="translate(445.6 646.0)"><circle r="3.3" fill="#fbeeee" stroke="#d43a28" stroke-width="1.4"/><rect x="-1.8" y="-1.8" width="3.6" height="3.6" rx="0.4" fill="#111"/></g><g transform="translate(473.3 644.7)"><circle r="3.3" fill="#fbeeee" stroke="#d43a28" stroke-width="1.4"/><rect x="-1.8" y="-1.8" width="3.6" height="3.6" rx="0.4" fill="#111"/></g><g transform="translate(501.0 645.1)"><circle r="3.3" fill="#fbeeee" stroke="#d43a28" stroke-width="1.4"/><rect x="-1.8" y="-1.8" width="3.6" height="3.6" rx="0.4" fill="#111"/></g><g transform="translate(528.7 645.1)"><circle r="3.3" fill="#fbeeee" stroke="#d43a28" stroke-width="1.4"/><rect x="-1.8" y="-1.8" width="3.6" height="3.6" rx="0.4" fill="#111"/></g><g transform="translate(543.8 645.6)"><circle r="3.3" fill="#fbeeee" stroke="#d43a28" stroke-width="1.4"/><rect x="-1.8" y="-1.8" width="3.6" height="3.6" rx="0.4" fill="#111"/></g><g transform="translate(569.7 646.0)"><circle r="3.3" fill="#fbeeee" stroke="#d43a28" stroke-width="1.4"/><rect x="-1.8" y="-1.8" width="3.6" height="3.6" rx="0.4" fill="#111"/></g><text x="36.8" y="654.5" class="ra">0</text><text x="36.8" y="634.5" class="ra">0.2</text><text x="36.8" y="614.5" class="ra">0.4</text><text x="36.8" y="594.5" class="ra">0.6</text><text x="36.8" y="574.5" class="ra">0.8</text><text x="638.6" y="650.9">0</text><text x="638.6" y="626.2">10</text><text x="638.6" y="601.5">20</text><text x="638.6" y="576.9">30</text><text class="ax" transform="translate(10.3 605.0) rotate(-90)"><tspan font-style="italic">R</tspan> (m)</text><text class="ax" transform="translate(670.5 606.0) rotate(-90)"><tspan font-style="italic">B</tspan> (mT)</text><text x="354.6" y="584.1" class="tl">120 µs</text>
<text class="ax" x="43.3" y="665">−3</text><text class="ax" x="341.8" y="665">−3</text><text class="ax" x="90.9" y="665">−2</text><text class="ax" x="389.3" y="665">−2</text><text class="ax" x="138.5" y="665">−1</text><text class="ax" x="436.8" y="665">−1</text><text class="ax" x="188.6" y="665">0</text><text class="ax" x="486.9" y="665">0</text><text class="ax" x="236.2" y="665">1</text><text class="ax" x="534.4" y="665">1</text><text class="ax" x="283.8" y="665">2</text><text class="ax" x="582.0" y="665">2</text><text class="ax" x="331.4" y="665">3</text><text class="ax" x="629.5" y="665">3</text><text class="ax" x="187.5" y="680.5"><tspan font-style="italic">z</tspan> (m)</text><text class="ax" x="486" y="680.5"><tspan font-style="italic">z</tspan> (m)</text></svg></body></html>
